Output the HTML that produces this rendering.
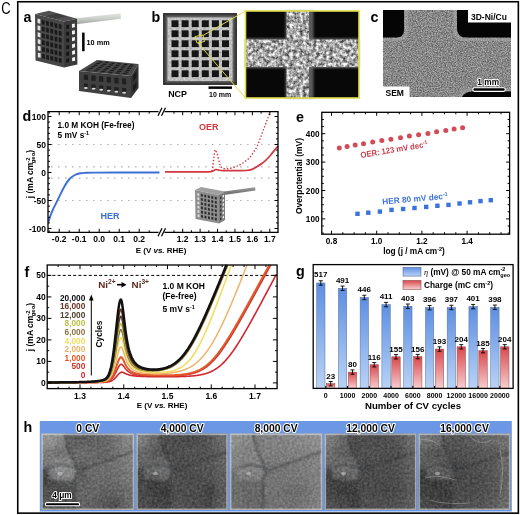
<!DOCTYPE html>
<html><head><meta charset="utf-8"><style>
html,body{margin:0;padding:0;background:#fff;width:520px;height:515px;overflow:hidden}
svg{display:block}
text{font-family:'Liberation Sans',Arial,sans-serif}
</style></head><body>
<svg width="520" height="515" viewBox="0 0 520 515">
<defs>
<filter id="nzoom" x="0" y="0" width="1" height="1" color-interpolation-filters="sRGB"><feTurbulence type="fractalNoise" baseFrequency="0.3" numOctaves="3" seed="3" result="t"/><feColorMatrix in="t" type="matrix" values="1.35 0 0 0 -0.02  1.35 0 0 0 -0.02  1.35 0 0 0 -0.02  0 0 0 0 1"/><feComposite in2="SourceGraphic" operator="in"/></filter>
<filter id="nsemc" x="0" y="0" width="1" height="1" color-interpolation-filters="sRGB"><feTurbulence type="fractalNoise" baseFrequency="0.8" numOctaves="2" seed="5" result="t"/><feColorMatrix in="t" type="matrix" values="0.6 0 0 0 0.23  0.6 0 0 0 0.23  0.6 0 0 0 0.23  0 0 0 0 1"/><feComposite in2="SourceGraphic" operator="in"/></filter>
<filter id="ncube" x="0" y="0" width="1" height="1" color-interpolation-filters="sRGB"><feTurbulence type="fractalNoise" baseFrequency="0.5" numOctaves="2" seed="7" result="t"/><feColorMatrix in="t" type="matrix" values="1.2 0 0 0 0.15  1.2 0 0 0 0.15  1.2 0 0 0 0.15  0 0 0 0 1"/><feComposite in2="SourceGraphic" operator="in"/></filter>
<filter id="nh0" x="0" y="0" width="1" height="1" color-interpolation-filters="sRGB"><feTurbulence type="fractalNoise" baseFrequency="0.4" numOctaves="2" seed="11" result="t"/><feColorMatrix in="t" type="matrix" values="1.8 0 0 0 -0.4  1.8 0 0 0 -0.4  1.8 0 0 0 -0.4  0 0 0 0 1"/><feComposite in2="SourceGraphic" operator="in"/></filter>
<filter id="nh1" x="0" y="0" width="1" height="1" color-interpolation-filters="sRGB"><feTurbulence type="fractalNoise" baseFrequency="0.4" numOctaves="2" seed="12" result="t"/><feColorMatrix in="t" type="matrix" values="1.8 0 0 0 -0.4  1.8 0 0 0 -0.4  1.8 0 0 0 -0.4  0 0 0 0 1"/><feComposite in2="SourceGraphic" operator="in"/></filter>
<filter id="nh2" x="0" y="0" width="1" height="1" color-interpolation-filters="sRGB"><feTurbulence type="fractalNoise" baseFrequency="0.4" numOctaves="2" seed="13" result="t"/><feColorMatrix in="t" type="matrix" values="1.8 0 0 0 -0.4  1.8 0 0 0 -0.4  1.8 0 0 0 -0.4  0 0 0 0 1"/><feComposite in2="SourceGraphic" operator="in"/></filter>
<filter id="nh3" x="0" y="0" width="1" height="1" color-interpolation-filters="sRGB"><feTurbulence type="fractalNoise" baseFrequency="0.4" numOctaves="2" seed="14" result="t"/><feColorMatrix in="t" type="matrix" values="1.8 0 0 0 -0.4  1.8 0 0 0 -0.4  1.8 0 0 0 -0.4  0 0 0 0 1"/><feComposite in2="SourceGraphic" operator="in"/></filter>
<filter id="nh4" x="0" y="0" width="1" height="1" color-interpolation-filters="sRGB"><feTurbulence type="fractalNoise" baseFrequency="0.4" numOctaves="2" seed="15" result="t"/><feColorMatrix in="t" type="matrix" values="1.8 0 0 0 -0.4  1.8 0 0 0 -0.4  1.8 0 0 0 -0.4  0 0 0 0 1"/><feComposite in2="SourceGraphic" operator="in"/></filter>
<linearGradient id="gblue" x1="0" y1="0" x2="0" y2="1"><stop offset="0" stop-color="#5d8fe2"/><stop offset="1" stop-color="#b9d3f6"/></linearGradient>
<linearGradient id="gred" x1="0" y1="0" x2="0" y2="1"><stop offset="0" stop-color="#d9474c"/><stop offset="1" stop-color="#f6cfd0"/></linearGradient>
<linearGradient id="grod" x1="0" y1="0" x2="0" y2="1"><stop offset="0" stop-color="#e4e7e2"/><stop offset="0.5" stop-color="#c9cdc7"/><stop offset="1" stop-color="#9da19b"/></linearGradient>
<linearGradient id="grod2" x1="0" y1="0" x2="0" y2="1"><stop offset="0" stop-color="#9a9a9a"/><stop offset="1" stop-color="#6a6a6a"/></linearGradient>
<filter id="soft"><feGaussianBlur stdDeviation="0.8"/></filter>
<clipPath id="ch0"><rect x="41.3" y="433.6" width="93.00" height="76.50"/></clipPath>
<clipPath id="ch1"><rect x="136.3" y="433.6" width="91.50" height="76.50"/></clipPath>
<clipPath id="ch2"><rect x="229.8" y="433.6" width="92.50" height="76.50"/></clipPath>
<clipPath id="ch3"><rect x="324.5" y="433.6" width="92.00" height="76.50"/></clipPath>
<clipPath id="ch4"><rect x="418.5" y="433.6" width="92.00" height="76.50"/></clipPath><filter id="hblur" x="-0.2" y="-0.2" width="1.4" height="1.4"><feGaussianBlur stdDeviation="3"/></filter><filter id="bblur"><feGaussianBlur stdDeviation="0.8"/></filter><filter id="gsoft"><feGaussianBlur stdDeviation="1.3"/></filter><filter id="lblur"><feGaussianBlur stdDeviation="0.5"/></filter></defs>
<rect x="17.75" y="1.75" width="500.6" height="511.4" fill="none" stroke="#000" stroke-width="1.6"/>
<text transform="translate(1.3,14.2) scale(0.78,1)" font-size="16.6" fill="#000">C</text>
<text x="23.5" y="22.2" font-size="14.3" font-weight="bold" text-anchor="start" fill="#000" >a</text>
<polygon points="74.00,18.50 120.50,13.20 121.00,18.80 74.00,24.50" fill="url(#grod)" stroke="none" stroke-width="0" />
<polygon points="35.00,14.00 49.00,10.80 77.00,18.80 64.00,21.50" fill="#505050" stroke="none" stroke-width="0" />
<polygon points="64.00,21.50 77.00,18.80 77.40,64.40 64.00,67.50" fill="#3a3a3a" stroke="none" stroke-width="0" />
<polygon points="35.00,14.00 64.00,21.50 64.00,67.50 35.50,60.50" fill="#474747" stroke="none" stroke-width="0" />
<polygon points="37.50,18.58 40.31,19.30 40.34,23.80 37.55,23.08" fill="#e0e0e0" stroke="none" stroke-width="0" />
<polygon points="37.57,25.40 40.37,26.11 40.40,30.60 37.61,29.89" fill="#e0e0e0" stroke="none" stroke-width="0" />
<polygon points="37.64,32.21 40.43,32.92 40.46,37.41 37.68,36.71" fill="#e0e0e0" stroke="none" stroke-width="0" />
<polygon points="37.70,39.02 40.49,39.72 40.52,44.22 37.75,43.52" fill="#e0e0e0" stroke="none" stroke-width="0" />
<polygon points="37.77,45.84 40.55,46.53 40.58,51.02 37.81,50.33" fill="#e0e0e0" stroke="none" stroke-width="0" />
<polygon points="37.84,52.65 40.61,53.34 40.64,57.83 37.88,57.15" fill="#e0e0e0" stroke="none" stroke-width="0" />
<polygon points="41.75,19.68 44.55,20.40 44.58,24.88 41.79,24.17" fill="#1a1a1a" stroke="none" stroke-width="0" />
<polygon points="41.81,26.48 44.60,27.19 44.63,31.68 41.84,30.97" fill="#1a1a1a" stroke="none" stroke-width="0" />
<polygon points="41.86,33.28 44.65,33.99 44.68,38.48 41.90,37.77" fill="#1a1a1a" stroke="none" stroke-width="0" />
<polygon points="41.92,40.09 44.70,40.79 44.73,45.27 41.96,44.58" fill="#1a1a1a" stroke="none" stroke-width="0" />
<polygon points="41.97,46.89 44.75,47.58 44.78,52.07 42.01,51.38" fill="#1a1a1a" stroke="none" stroke-width="0" />
<polygon points="42.03,53.69 44.80,54.38 44.83,58.86 42.07,58.18" fill="#1a1a1a" stroke="none" stroke-width="0" />
<polygon points="46.00,20.77 48.80,21.49 48.82,25.97 46.03,25.25" fill="#1a1a1a" stroke="none" stroke-width="0" />
<polygon points="46.04,27.56 48.84,28.28 48.86,32.76 46.07,32.05" fill="#1a1a1a" stroke="none" stroke-width="0" />
<polygon points="46.09,34.35 48.88,35.06 48.90,39.54 46.12,38.84" fill="#1a1a1a" stroke="none" stroke-width="0" />
<polygon points="46.13,41.15 48.91,41.85 48.94,46.33 46.16,45.63" fill="#1a1a1a" stroke="none" stroke-width="0" />
<polygon points="46.18,47.94 48.95,48.63 48.98,53.11 46.21,52.42" fill="#1a1a1a" stroke="none" stroke-width="0" />
<polygon points="46.22,54.73 48.99,55.42 49.02,59.90 46.25,59.21" fill="#1a1a1a" stroke="none" stroke-width="0" />
<polygon points="50.24,21.86 53.05,22.59 53.06,27.06 50.27,26.34" fill="#1a1a1a" stroke="none" stroke-width="0" />
<polygon points="50.28,28.65 53.07,29.36 53.09,33.83 50.30,33.12" fill="#1a1a1a" stroke="none" stroke-width="0" />
<polygon points="50.31,35.43 53.10,36.13 53.12,40.61 50.34,39.90" fill="#1a1a1a" stroke="none" stroke-width="0" />
<polygon points="50.35,42.21 53.13,42.91 53.15,47.38 50.37,46.68" fill="#1a1a1a" stroke="none" stroke-width="0" />
<polygon points="50.38,48.99 53.16,49.68 53.18,54.15 50.41,53.47" fill="#1a1a1a" stroke="none" stroke-width="0" />
<polygon points="50.42,55.77 53.19,56.46 53.20,60.93 50.44,60.25" fill="#1a1a1a" stroke="none" stroke-width="0" />
<polygon points="54.49,22.96 57.29,23.68 57.30,28.14 54.51,27.43" fill="#1a1a1a" stroke="none" stroke-width="0" />
<polygon points="54.51,29.73 57.31,30.44 57.32,34.91 54.53,34.20" fill="#1a1a1a" stroke="none" stroke-width="0" />
<polygon points="54.54,36.50 57.33,37.21 57.34,41.67 54.55,40.97" fill="#1a1a1a" stroke="none" stroke-width="0" />
<polygon points="54.56,43.27 57.34,43.97 57.36,48.43 54.58,47.74" fill="#1a1a1a" stroke="none" stroke-width="0" />
<polygon points="54.59,50.04 57.36,50.73 57.37,55.20 54.60,54.51" fill="#1a1a1a" stroke="none" stroke-width="0" />
<polygon points="54.61,56.81 57.38,57.50 57.39,61.96 54.63,61.28" fill="#1a1a1a" stroke="none" stroke-width="0" />
<polygon points="58.74,24.05 61.54,24.77 61.54,29.23 58.75,28.51" fill="#1a1a1a" stroke="none" stroke-width="0" />
<polygon points="58.75,30.81 61.55,31.53 61.55,35.98 58.76,35.27" fill="#1a1a1a" stroke="none" stroke-width="0" />
<polygon points="58.76,37.57 61.55,38.28 61.56,42.74 58.77,42.03" fill="#1a1a1a" stroke="none" stroke-width="0" />
<polygon points="58.78,44.33 61.56,45.03 61.56,49.49 58.79,48.79" fill="#1a1a1a" stroke="none" stroke-width="0" />
<polygon points="58.79,51.09 61.57,51.79 61.57,56.24 58.80,55.55" fill="#1a1a1a" stroke="none" stroke-width="0" />
<polygon points="58.80,57.85 61.57,58.54 61.58,62.99 58.81,62.31" fill="#1a1a1a" stroke="none" stroke-width="0" />
<polygon points="66.22,25.31 69.08,24.71 69.10,28.41 66.22,29.02" fill="#151515" stroke="none" stroke-width="0" />
<polygon points="66.23,32.05 69.11,31.43 69.12,35.13 66.23,35.75" fill="#151515" stroke="none" stroke-width="0" />
<polygon points="66.24,38.79 69.13,38.16 69.14,41.86 66.24,42.49" fill="#151515" stroke="none" stroke-width="0" />
<polygon points="66.25,45.52 69.15,44.88 69.17,48.58 66.25,49.23" fill="#151515" stroke="none" stroke-width="0" />
<polygon points="66.26,52.26 69.18,51.61 69.19,55.30 66.26,55.96" fill="#151515" stroke="none" stroke-width="0" />
<polygon points="66.27,59.00 69.20,58.33 69.21,62.03 66.27,62.70" fill="#151515" stroke="none" stroke-width="0" />
<polygon points="71.95,24.11 74.82,23.51 74.85,27.19 71.97,27.80" fill="#f2f2f2" stroke="none" stroke-width="0" />
<polygon points="71.99,30.82 74.87,30.20 74.90,33.89 72.01,34.51" fill="#f2f2f2" stroke="none" stroke-width="0" />
<polygon points="72.02,37.53 74.92,36.90 74.95,40.59 72.04,41.22" fill="#f2f2f2" stroke="none" stroke-width="0" />
<polygon points="72.06,44.24 74.97,43.60 74.99,47.28 72.08,47.93" fill="#f2f2f2" stroke="none" stroke-width="0" />
<polygon points="72.10,50.95 75.02,50.30 75.04,53.98 72.12,54.64" fill="#f2f2f2" stroke="none" stroke-width="0" />
<polygon points="72.13,57.66 75.06,57.00 75.09,60.68 72.15,61.35" fill="#f2f2f2" stroke="none" stroke-width="0" />
<polygon points="45.62,16.16 46.82,15.89 56.97,18.56 55.79,18.81" fill="#303030" stroke="none" stroke-width="0" />
<polygon points="47.62,15.71 48.83,15.45 58.92,18.14 57.75,18.39" fill="#303030" stroke="none" stroke-width="0" />
<polygon points="49.63,15.27 50.83,15.00 60.88,17.72 59.70,17.97" fill="#303030" stroke="none" stroke-width="0" />
<polygon points="51.64,14.82 52.84,14.55 62.83,17.30 61.66,17.56" fill="#303030" stroke="none" stroke-width="0" />
<polygon points="53.64,14.38 54.84,14.11 64.78,16.88 63.61,17.14" fill="#303030" stroke="none" stroke-width="0" />
<polygon points="55.65,13.93 56.85,13.66 66.74,16.46 65.57,16.72" fill="#303030" stroke="none" stroke-width="0" />
<rect x="82.1" y="32.6" width="2.5" height="18.6" fill="#000"/>
<text x="86.5" y="44.7" font-size="7.3" font-weight="bold" text-anchor="start" fill="#000" >10 mm</text>
<polygon points="79.00,71.00 97.00,60.00 138.50,64.00 131.00,76.00" fill="#484848" stroke="none" stroke-width="0" />
<polygon points="79.00,71.00 131.00,76.00 131.00,98.00 79.00,91.00" fill="#404040" stroke="none" stroke-width="0" />
<polygon points="131.00,76.00 138.50,64.00 138.50,88.00 131.00,98.00" fill="#333333" stroke="none" stroke-width="0" />
<polygon points="85.36,70.47 86.85,69.50 90.90,69.89 89.48,70.87" fill="#1a1a1a" stroke="none" stroke-width="0" />
<polygon points="92.85,71.19 94.21,70.21 98.25,70.59 96.96,71.59" fill="#1a1a1a" stroke="none" stroke-width="0" />
<polygon points="100.33,71.91 101.56,70.91 105.61,71.30 104.45,72.31" fill="#1a1a1a" stroke="none" stroke-width="0" />
<polygon points="107.82,72.63 108.92,71.62 112.96,72.01 111.94,73.03" fill="#1a1a1a" stroke="none" stroke-width="0" />
<polygon points="115.31,73.35 116.27,72.33 120.31,72.72 119.43,73.75" fill="#1a1a1a" stroke="none" stroke-width="0" />
<polygon points="122.80,74.08 123.62,73.03 127.67,73.42 126.92,74.47" fill="#1a1a1a" stroke="none" stroke-width="0" />
<polygon points="87.85,68.85 89.35,67.87 93.27,68.25 91.85,69.23" fill="#1a1a1a" stroke="none" stroke-width="0" />
<polygon points="95.12,69.55 96.48,68.56 100.40,68.93 99.11,69.93" fill="#1a1a1a" stroke="none" stroke-width="0" />
<polygon points="102.38,70.24 103.61,69.24 107.53,69.62 106.37,70.63" fill="#1a1a1a" stroke="none" stroke-width="0" />
<polygon points="109.64,70.94 110.73,69.93 114.65,70.31 113.64,71.33" fill="#1a1a1a" stroke="none" stroke-width="0" />
<polygon points="116.91,71.64 117.86,70.61 121.78,70.99 120.90,72.03" fill="#1a1a1a" stroke="none" stroke-width="0" />
<polygon points="124.17,72.34 124.99,71.30 128.91,71.68 128.16,72.72" fill="#1a1a1a" stroke="none" stroke-width="0" />
<polygon points="90.35,67.22 91.85,66.24 95.64,66.61 94.22,67.59" fill="#1a1a1a" stroke="none" stroke-width="0" />
<polygon points="97.39,67.90 98.75,66.91 102.55,67.27 101.26,68.27" fill="#1a1a1a" stroke="none" stroke-width="0" />
<polygon points="104.43,68.57 105.65,67.57 109.45,67.94 108.30,68.95" fill="#1a1a1a" stroke="none" stroke-width="0" />
<polygon points="111.46,69.25 112.55,68.24 116.35,68.60 115.33,69.62" fill="#1a1a1a" stroke="none" stroke-width="0" />
<polygon points="118.50,69.93 119.46,68.90 123.25,69.27 122.37,70.30" fill="#1a1a1a" stroke="none" stroke-width="0" />
<polygon points="125.54,70.61 126.36,69.57 130.15,69.93 129.41,70.98" fill="#1a1a1a" stroke="none" stroke-width="0" />
<polygon points="92.85,65.59 94.35,64.62 98.02,64.97 96.59,65.95" fill="#1a1a1a" stroke="none" stroke-width="0" />
<polygon points="99.66,66.25 101.02,65.26 104.69,65.61 103.40,66.61" fill="#1a1a1a" stroke="none" stroke-width="0" />
<polygon points="106.47,66.90 107.70,65.90 111.37,66.26 110.22,67.27" fill="#1a1a1a" stroke="none" stroke-width="0" />
<polygon points="113.28,67.56 114.37,66.55 118.04,66.90 117.03,67.92" fill="#1a1a1a" stroke="none" stroke-width="0" />
<polygon points="120.09,68.22 121.05,67.19 124.72,67.54 123.84,68.58" fill="#1a1a1a" stroke="none" stroke-width="0" />
<polygon points="126.90,68.87 127.73,67.83 131.40,68.18 130.65,69.23" fill="#1a1a1a" stroke="none" stroke-width="0" />
<polygon points="95.34,63.97 96.84,62.99 100.39,63.33 98.97,64.31" fill="#1a1a1a" stroke="none" stroke-width="0" />
<polygon points="101.93,64.60 103.29,63.61 106.84,63.95 105.55,64.95" fill="#1a1a1a" stroke="none" stroke-width="0" />
<polygon points="108.52,65.23 109.74,64.23 113.29,64.57 112.14,65.58" fill="#1a1a1a" stroke="none" stroke-width="0" />
<polygon points="115.10,65.87 116.19,64.85 119.74,65.20 118.72,66.22" fill="#1a1a1a" stroke="none" stroke-width="0" />
<polygon points="121.69,66.50 122.64,65.48 126.19,65.82 125.31,66.85" fill="#1a1a1a" stroke="none" stroke-width="0" />
<polygon points="128.27,67.14 129.09,66.10 132.64,66.44 131.89,67.49" fill="#1a1a1a" stroke="none" stroke-width="0" />
<polygon points="97.84,62.34 99.34,61.36 102.76,61.69 101.34,62.68" fill="#1a1a1a" stroke="none" stroke-width="0" />
<polygon points="104.20,62.95 105.56,61.96 108.99,62.29 107.70,63.29" fill="#1a1a1a" stroke="none" stroke-width="0" />
<polygon points="110.56,63.56 111.79,62.56 115.21,62.89 114.06,63.90" fill="#1a1a1a" stroke="none" stroke-width="0" />
<polygon points="116.92,64.18 118.01,63.16 121.43,63.49 120.42,64.51" fill="#1a1a1a" stroke="none" stroke-width="0" />
<polygon points="123.28,64.79 124.24,63.76 127.66,64.09 126.78,65.13" fill="#1a1a1a" stroke="none" stroke-width="0" />
<polygon points="129.64,65.40 130.46,64.36 133.88,64.69 133.14,65.74" fill="#1a1a1a" stroke="none" stroke-width="0" />
<polygon points="83.84,74.45 88.03,74.88 88.03,80.25 83.84,79.78" fill="#202020" stroke="none" stroke-width="0" />
<polygon points="83.84,83.33 88.03,83.83 88.03,89.20 83.84,88.66" fill="#202020" stroke="none" stroke-width="0" />
<polygon points="91.46,75.23 95.66,75.66 95.66,81.11 91.46,80.64" fill="#202020" stroke="none" stroke-width="0" />
<polygon points="91.46,84.24 95.66,84.74 95.66,90.19 91.46,89.65" fill="#202020" stroke="none" stroke-width="0" />
<polygon points="99.09,76.01 103.28,76.43 103.28,81.96 99.09,81.49" fill="#202020" stroke="none" stroke-width="0" />
<polygon points="99.09,85.15 103.28,85.64 103.28,91.17 99.09,90.63" fill="#202020" stroke="none" stroke-width="0" />
<polygon points="106.72,76.78 110.91,77.21 110.91,82.81 106.72,82.34" fill="#202020" stroke="none" stroke-width="0" />
<polygon points="106.72,86.05 110.91,86.55 110.91,92.15 106.72,91.61" fill="#202020" stroke="none" stroke-width="0" />
<polygon points="114.34,77.56 118.54,77.99 118.54,83.67 114.34,83.20" fill="#202020" stroke="none" stroke-width="0" />
<polygon points="114.34,86.96 118.54,87.46 118.54,93.14 114.34,92.60" fill="#202020" stroke="none" stroke-width="0" />
<polygon points="121.97,78.34 126.16,78.76 126.16,84.52 121.97,84.05" fill="#202020" stroke="none" stroke-width="0" />
<polygon points="121.97,87.86 126.16,88.36 126.16,94.12 121.97,93.58" fill="#202020" stroke="none" stroke-width="0" />
<ellipse cx="85.9" cy="87.9" rx="2" ry="1" fill="#d8d8d8"/>
<ellipse cx="93.6" cy="88.8" rx="2" ry="1" fill="#d8d8d8"/>
<ellipse cx="101.2" cy="89.8" rx="2" ry="1" fill="#d8d8d8"/>
<ellipse cx="108.8" cy="90.8" rx="2" ry="1" fill="#d8d8d8"/>
<ellipse cx="116.4" cy="91.8" rx="2" ry="1" fill="#d8d8d8"/>
<ellipse cx="124.1" cy="92.7" rx="2" ry="1" fill="#d8d8d8"/>
<polygon points="133.10,75.98 136.40,70.83 136.40,77.02 133.10,81.93" fill="#1a1a1a" stroke="none" stroke-width="0" />
<polygon points="133.10,85.91 136.40,81.14 136.40,87.33 133.10,91.86" fill="#1a1a1a" stroke="none" stroke-width="0" />
<text x="151.5" y="22.3" font-size="14.3" font-weight="bold" text-anchor="start" fill="#000" >b</text>
<rect x="163" y="13" width="74" height="72" fill="#383838"/>
<rect x="165.5" y="15.5" width="69" height="67" fill="#5e5e5e"/>
<rect x="167.5" y="17.5" width="65" height="63.5" fill="#c2c2c2"/>
<rect x="167.5" y="17.5" width="65" height="63.5" fill="#fff" filter="url(#ncube)" opacity="0.3"/>
<rect x="171.5" y="20.3" width="7" height="6.8" fill="#151515"/>
<rect x="171.5" y="30.3" width="7" height="6.8" fill="#151515"/>
<rect x="171.5" y="40.3" width="7" height="6.8" fill="#151515"/>
<rect x="171.5" y="50.3" width="7" height="6.8" fill="#151515"/>
<rect x="171.5" y="60.3" width="7" height="6.8" fill="#151515"/>
<rect x="171.5" y="70.3" width="7" height="6.8" fill="#151515"/>
<rect x="181.6" y="20.3" width="7" height="6.8" fill="#151515"/>
<rect x="181.6" y="30.3" width="7" height="6.8" fill="#151515"/>
<rect x="181.6" y="40.3" width="7" height="6.8" fill="#151515"/>
<rect x="181.6" y="50.3" width="7" height="6.8" fill="#151515"/>
<rect x="181.6" y="60.3" width="7" height="6.8" fill="#151515"/>
<rect x="181.6" y="70.3" width="7" height="6.8" fill="#151515"/>
<rect x="191.7" y="20.3" width="7" height="6.8" fill="#151515"/>
<rect x="191.7" y="30.3" width="7" height="6.8" fill="#151515"/>
<rect x="191.7" y="40.3" width="7" height="6.8" fill="#151515"/>
<rect x="191.7" y="50.3" width="7" height="6.8" fill="#151515"/>
<rect x="191.7" y="60.3" width="7" height="6.8" fill="#151515"/>
<rect x="191.7" y="70.3" width="7" height="6.8" fill="#151515"/>
<rect x="201.8" y="20.3" width="7" height="6.8" fill="#151515"/>
<rect x="201.8" y="30.3" width="7" height="6.8" fill="#151515"/>
<rect x="201.8" y="40.3" width="7" height="6.8" fill="#151515"/>
<rect x="201.8" y="50.3" width="7" height="6.8" fill="#151515"/>
<rect x="201.8" y="60.3" width="7" height="6.8" fill="#151515"/>
<rect x="201.8" y="70.3" width="7" height="6.8" fill="#151515"/>
<rect x="211.9" y="20.3" width="7" height="6.8" fill="#151515"/>
<rect x="211.9" y="30.3" width="7" height="6.8" fill="#151515"/>
<rect x="211.9" y="40.3" width="7" height="6.8" fill="#151515"/>
<rect x="211.9" y="50.3" width="7" height="6.8" fill="#151515"/>
<rect x="211.9" y="60.3" width="7" height="6.8" fill="#151515"/>
<rect x="211.9" y="70.3" width="7" height="6.8" fill="#151515"/>
<rect x="222.0" y="20.3" width="7" height="6.8" fill="#151515"/>
<rect x="222.0" y="30.3" width="7" height="6.8" fill="#151515"/>
<rect x="222.0" y="40.3" width="7" height="6.8" fill="#151515"/>
<rect x="222.0" y="50.3" width="7" height="6.8" fill="#151515"/>
<rect x="222.0" y="60.3" width="7" height="6.8" fill="#151515"/>
<rect x="222.0" y="70.3" width="7" height="6.8" fill="#151515"/>
<polygon points="195,36.5 203,35 204.5,41.5 197,43" fill="none" stroke="#e0dc4a" stroke-width="1"/>
<line x1="203.00" y1="35.50" x2="245.50" y2="11.00" stroke="#e0dc4a" stroke-width="1" />
<line x1="198.00" y1="43.00" x2="245.50" y2="98.00" stroke="#e0dc4a" stroke-width="1" />
<text x="168.2" y="96.7" font-size="8.9" font-weight="bold" text-anchor="start" fill="#000" >NCP</text>
<rect x="208.5" y="86.4" width="23.5" height="2.5" fill="#000"/>
<text x="220.2" y="97.0" font-size="7" font-weight="bold" text-anchor="middle" fill="#000" >10 mm</text>
<rect x="245.5" y="11" width="113.5" height="87" fill="#080808"/>
<g filter="url(#soft)"><rect x="285.5" y="11" width="28" height="87" fill="#5a5a5a"/><rect x="245.5" y="38.5" width="113.5" height="29.5" fill="#6a6a6a"/></g>
<g><rect x="286.5" y="11" width="22.5" height="87" fill="#fff" filter="url(#nzoom)"/><rect x="245.5" y="39.5" width="113.5" height="27.5" fill="#fff" filter="url(#nzoom)"/></g>
<rect x="245.5" y="11" width="113.5" height="87" fill="none" stroke="#e0dc4a" stroke-width="1.6"/>
<text x="370.5" y="22.4" font-size="14.3" font-weight="bold" text-anchor="start" fill="#000" >c</text>
<rect x="383" y="10" width="128" height="87" fill="#8a8a8a" filter="url(#nsemc)"/>
<path d="M383,39.5 H397 Q406.5,39.5 406.5,30 V10 M455,10 V29 Q455,39.5 466,39.5 H511 M511,89.5 H472 Q463,89.5 460,97" fill="none" stroke="#b0b0b0" stroke-width="3" opacity="0.45"/>
<path d="M383,10 H404 V30 Q404,37.5 396,37.5 H383 Z" fill="#050505"/>
<path d="M457,10 H511 V37.5 H466 Q457,37.5 457,28 Z" fill="#050505"/>
<path d="M511,91.5 H473 Q465,91.5 462,97 H511 Z" fill="#050505"/>
<rect x="468" y="10" width="43" height="12.5" fill="#fff"/>
<text x="471.0" y="20.0" font-size="8.5" font-weight="bold" text-anchor="start" fill="#000" >3D-Ni/Cu</text>
<rect x="383" y="86.5" width="26.5" height="10.5" fill="#fff"/>
<text x="385.5" y="95.5" font-size="8.5" font-weight="bold" text-anchor="start" fill="#000" >SEM</text>
<rect x="472.8" y="87.8" width="32.5" height="3.6" rx="1.8" fill="#000" stroke="#fff" stroke-width="1.1"/>
<text x="488.2" y="85.2" font-size="8.3" font-weight="bold" text-anchor="middle" fill="#000" stroke="#fff" stroke-width="1.8" paint-order="stroke" stroke-linejoin="round">1 mm</text>
<text x="22.5" y="120.8" font-size="14.3" font-weight="bold" text-anchor="start" fill="#000" >d</text>
<line x1="51" y1="144.50" x2="276" y2="144.50" stroke="#b4b4b4" stroke-width="1.1" stroke-dasharray="1.6 5.4"/>
<line x1="51" y1="166.90" x2="276" y2="166.90" stroke="#b4b4b4" stroke-width="1.1" stroke-dasharray="1.6 5.4"/>
<line x1="51" y1="178.10" x2="276" y2="178.10" stroke="#b4b4b4" stroke-width="1.1" stroke-dasharray="1.6 5.4"/>
<line x1="51" y1="200.50" x2="276" y2="200.50" stroke="#b4b4b4" stroke-width="1.1" stroke-dasharray="1.6 5.4"/>
<path d="M48.60,221.60 C49.00,220.37 50.23,216.30 51.00,214.20 C51.77,212.10 51.93,211.68 53.20,209.00 C54.47,206.32 56.80,201.73 58.60,198.10 C60.40,194.47 62.18,190.38 64.00,187.20 C65.82,184.02 67.68,181.03 69.50,179.00 C71.32,176.97 73.08,175.95 74.90,175.00 C76.72,174.05 78.58,173.67 80.40,173.30 C82.22,172.93 83.37,172.92 85.80,172.80 C88.23,172.68 89.30,172.65 95.00,172.60 C100.70,172.55 109.25,172.52 120.00,172.50 C130.75,172.48 152.92,172.50 159.50,172.50" fill="none" stroke="#3a6fd5" stroke-width="1.9"/>
<path d="M165.00,171.90 C169.17,171.90 182.83,171.92 190.00,171.90 C197.17,171.88 204.47,171.85 208.00,171.80 C211.53,171.75 210.28,171.80 211.20,171.60 C212.12,171.40 212.72,170.95 213.50,170.60 C214.28,170.25 215.07,169.58 215.90,169.50 C216.73,169.42 217.33,169.90 218.50,170.10 C219.67,170.30 220.15,170.62 222.90,170.70 C225.65,170.78 231.15,170.63 235.00,170.60 C238.85,170.57 243.17,170.70 246.00,170.50 C248.83,170.30 250.13,170.05 252.00,169.40 C253.87,168.75 255.62,167.53 257.20,166.60 C258.78,165.67 260.13,164.80 261.50,163.80 C262.87,162.80 264.15,161.73 265.40,160.60 C266.65,159.47 267.78,158.37 269.00,157.00 C270.22,155.63 271.20,154.23 272.70,152.40 C274.20,150.57 277.12,147.07 278.00,146.00" fill="none" stroke="#d2383f" stroke-width="1.7"/>
<path d="M211.50,170.90 C211.65,170.60 212.05,170.92 212.40,169.10 C212.75,167.28 213.18,163.13 213.60,160.00 C214.02,156.87 214.47,151.72 214.90,150.30 C215.33,148.88 215.78,150.80 216.20,151.50 C216.62,152.20 216.87,152.67 217.40,154.50 C217.93,156.33 218.88,160.58 219.40,162.50 C219.92,164.42 219.92,165.03 220.50,166.00 C221.08,166.97 221.73,167.85 222.90,168.30 C224.07,168.75 225.82,168.82 227.50,168.70 C229.18,168.58 231.18,168.12 233.00,167.60 C234.82,167.08 236.60,166.48 238.40,165.60 C240.20,164.72 242.03,163.52 243.80,162.30 C245.57,161.08 247.30,160.08 249.00,158.30 C250.70,156.52 252.58,153.73 254.00,151.60 C255.42,149.47 256.42,147.82 257.50,145.50 C258.58,143.18 259.58,140.12 260.50,137.70 C261.42,135.28 262.18,133.18 263.00,131.00 C263.82,128.82 264.65,126.60 265.40,124.60 C266.15,122.60 266.82,120.90 267.50,119.00 C268.18,117.10 269.07,114.42 269.50,113.20 C269.93,111.98 270.00,111.95 270.10,111.70" fill="none" stroke="#d2383f" stroke-width="1.4" stroke-dasharray="1.4 1.9"/>
<line x1="48" y1="111.7" x2="48" y2="232.3" stroke="#000" stroke-width="1.3"/>
<line x1="278" y1="111.7" x2="278" y2="232.3" stroke="#000" stroke-width="1.3"/>
<line x1="47.35" y1="111.7" x2="158.5" y2="111.7" stroke="#000" stroke-width="1.3"/>
<line x1="164.5" y1="111.7" x2="278.65" y2="111.7" stroke="#000" stroke-width="1.3"/>
<line x1="158.0" y1="115.7" x2="162.0" y2="107.7" stroke="#000" stroke-width="1.2"/>
<line x1="161.5" y1="115.7" x2="165.5" y2="107.7" stroke="#000" stroke-width="1.2"/>
<line x1="47.35" y1="232.3" x2="158.5" y2="232.3" stroke="#000" stroke-width="1.3"/>
<line x1="164.5" y1="232.3" x2="278.65" y2="232.3" stroke="#000" stroke-width="1.3"/>
<line x1="158.0" y1="236.3" x2="162.0" y2="228.3" stroke="#000" stroke-width="1.2"/>
<line x1="161.5" y1="236.3" x2="165.5" y2="228.3" stroke="#000" stroke-width="1.2"/>
<line x1="48" y1="228.50" x2="51.5" y2="228.50" stroke="#000" stroke-width="1"/>
<line x1="278" y1="228.50" x2="274.5" y2="228.50" stroke="#000" stroke-width="1"/>
<line x1="48" y1="222.90" x2="50" y2="222.90" stroke="#000" stroke-width="1"/>
<line x1="278" y1="222.90" x2="276" y2="222.90" stroke="#000" stroke-width="1"/>
<line x1="48" y1="217.30" x2="50" y2="217.30" stroke="#000" stroke-width="1"/>
<line x1="278" y1="217.30" x2="276" y2="217.30" stroke="#000" stroke-width="1"/>
<line x1="48" y1="211.70" x2="50" y2="211.70" stroke="#000" stroke-width="1"/>
<line x1="278" y1="211.70" x2="276" y2="211.70" stroke="#000" stroke-width="1"/>
<line x1="48" y1="206.10" x2="50" y2="206.10" stroke="#000" stroke-width="1"/>
<line x1="278" y1="206.10" x2="276" y2="206.10" stroke="#000" stroke-width="1"/>
<line x1="48" y1="200.50" x2="51.5" y2="200.50" stroke="#000" stroke-width="1"/>
<line x1="278" y1="200.50" x2="274.5" y2="200.50" stroke="#000" stroke-width="1"/>
<line x1="48" y1="194.90" x2="50" y2="194.90" stroke="#000" stroke-width="1"/>
<line x1="278" y1="194.90" x2="276" y2="194.90" stroke="#000" stroke-width="1"/>
<line x1="48" y1="189.30" x2="50" y2="189.30" stroke="#000" stroke-width="1"/>
<line x1="278" y1="189.30" x2="276" y2="189.30" stroke="#000" stroke-width="1"/>
<line x1="48" y1="183.70" x2="50" y2="183.70" stroke="#000" stroke-width="1"/>
<line x1="278" y1="183.70" x2="276" y2="183.70" stroke="#000" stroke-width="1"/>
<line x1="48" y1="178.10" x2="50" y2="178.10" stroke="#000" stroke-width="1"/>
<line x1="278" y1="178.10" x2="276" y2="178.10" stroke="#000" stroke-width="1"/>
<line x1="48" y1="172.50" x2="51.5" y2="172.50" stroke="#000" stroke-width="1"/>
<line x1="278" y1="172.50" x2="274.5" y2="172.50" stroke="#000" stroke-width="1"/>
<line x1="48" y1="166.90" x2="50" y2="166.90" stroke="#000" stroke-width="1"/>
<line x1="278" y1="166.90" x2="276" y2="166.90" stroke="#000" stroke-width="1"/>
<line x1="48" y1="161.30" x2="50" y2="161.30" stroke="#000" stroke-width="1"/>
<line x1="278" y1="161.30" x2="276" y2="161.30" stroke="#000" stroke-width="1"/>
<line x1="48" y1="155.70" x2="50" y2="155.70" stroke="#000" stroke-width="1"/>
<line x1="278" y1="155.70" x2="276" y2="155.70" stroke="#000" stroke-width="1"/>
<line x1="48" y1="150.10" x2="50" y2="150.10" stroke="#000" stroke-width="1"/>
<line x1="278" y1="150.10" x2="276" y2="150.10" stroke="#000" stroke-width="1"/>
<line x1="48" y1="144.50" x2="51.5" y2="144.50" stroke="#000" stroke-width="1"/>
<line x1="278" y1="144.50" x2="274.5" y2="144.50" stroke="#000" stroke-width="1"/>
<line x1="48" y1="138.90" x2="50" y2="138.90" stroke="#000" stroke-width="1"/>
<line x1="278" y1="138.90" x2="276" y2="138.90" stroke="#000" stroke-width="1"/>
<line x1="48" y1="133.30" x2="50" y2="133.30" stroke="#000" stroke-width="1"/>
<line x1="278" y1="133.30" x2="276" y2="133.30" stroke="#000" stroke-width="1"/>
<line x1="48" y1="127.70" x2="50" y2="127.70" stroke="#000" stroke-width="1"/>
<line x1="278" y1="127.70" x2="276" y2="127.70" stroke="#000" stroke-width="1"/>
<line x1="48" y1="122.10" x2="50" y2="122.10" stroke="#000" stroke-width="1"/>
<line x1="278" y1="122.10" x2="276" y2="122.10" stroke="#000" stroke-width="1"/>
<line x1="48" y1="116.50" x2="51.5" y2="116.50" stroke="#000" stroke-width="1"/>
<line x1="278" y1="116.50" x2="274.5" y2="116.50" stroke="#000" stroke-width="1"/>
<text x="46.0" y="119.5" font-size="8.5" font-weight="bold" text-anchor="end" fill="#000" >100</text>
<text x="46.0" y="147.5" font-size="8.5" font-weight="bold" text-anchor="end" fill="#000" >50</text>
<text x="46.0" y="175.5" font-size="8.5" font-weight="bold" text-anchor="end" fill="#000" >0</text>
<text x="46.0" y="203.5" font-size="8.5" font-weight="bold" text-anchor="end" fill="#000" >-50</text>
<text x="46.0" y="231.5" font-size="8.5" font-weight="bold" text-anchor="end" fill="#000" >-100</text>
<line x1="49.20" y1="232.3" x2="49.20" y2="230.3" stroke="#000" stroke-width="1"/>
<line x1="49.20" y1="111.7" x2="49.20" y2="113.7" stroke="#000" stroke-width="1"/>
<line x1="59.20" y1="232.3" x2="59.20" y2="228.8" stroke="#000" stroke-width="1"/>
<line x1="59.20" y1="111.7" x2="59.20" y2="115.2" stroke="#000" stroke-width="1"/>
<line x1="69.20" y1="232.3" x2="69.20" y2="230.3" stroke="#000" stroke-width="1"/>
<line x1="69.20" y1="111.7" x2="69.20" y2="113.7" stroke="#000" stroke-width="1"/>
<line x1="79.20" y1="232.3" x2="79.20" y2="228.8" stroke="#000" stroke-width="1"/>
<line x1="79.20" y1="111.7" x2="79.20" y2="115.2" stroke="#000" stroke-width="1"/>
<line x1="89.20" y1="232.3" x2="89.20" y2="230.3" stroke="#000" stroke-width="1"/>
<line x1="89.20" y1="111.7" x2="89.20" y2="113.7" stroke="#000" stroke-width="1"/>
<line x1="99.20" y1="232.3" x2="99.20" y2="228.8" stroke="#000" stroke-width="1"/>
<line x1="99.20" y1="111.7" x2="99.20" y2="115.2" stroke="#000" stroke-width="1"/>
<line x1="109.20" y1="232.3" x2="109.20" y2="230.3" stroke="#000" stroke-width="1"/>
<line x1="109.20" y1="111.7" x2="109.20" y2="113.7" stroke="#000" stroke-width="1"/>
<line x1="119.20" y1="232.3" x2="119.20" y2="228.8" stroke="#000" stroke-width="1"/>
<line x1="119.20" y1="111.7" x2="119.20" y2="115.2" stroke="#000" stroke-width="1"/>
<line x1="129.20" y1="232.3" x2="129.20" y2="230.3" stroke="#000" stroke-width="1"/>
<line x1="129.20" y1="111.7" x2="129.20" y2="113.7" stroke="#000" stroke-width="1"/>
<line x1="139.20" y1="232.3" x2="139.20" y2="228.8" stroke="#000" stroke-width="1"/>
<line x1="139.20" y1="111.7" x2="139.20" y2="115.2" stroke="#000" stroke-width="1"/>
<line x1="149.20" y1="232.3" x2="149.20" y2="230.3" stroke="#000" stroke-width="1"/>
<line x1="149.20" y1="111.7" x2="149.20" y2="113.7" stroke="#000" stroke-width="1"/>
<line x1="173.99" y1="232.3" x2="173.99" y2="230.3" stroke="#000" stroke-width="1"/>
<line x1="173.99" y1="111.7" x2="173.99" y2="113.7" stroke="#000" stroke-width="1"/>
<line x1="182.70" y1="232.3" x2="182.70" y2="228.8" stroke="#000" stroke-width="1"/>
<line x1="182.70" y1="111.7" x2="182.70" y2="115.2" stroke="#000" stroke-width="1"/>
<line x1="191.41" y1="232.3" x2="191.41" y2="230.3" stroke="#000" stroke-width="1"/>
<line x1="191.41" y1="111.7" x2="191.41" y2="113.7" stroke="#000" stroke-width="1"/>
<line x1="200.12" y1="232.3" x2="200.12" y2="228.8" stroke="#000" stroke-width="1"/>
<line x1="200.12" y1="111.7" x2="200.12" y2="115.2" stroke="#000" stroke-width="1"/>
<line x1="208.83" y1="232.3" x2="208.83" y2="230.3" stroke="#000" stroke-width="1"/>
<line x1="208.83" y1="111.7" x2="208.83" y2="113.7" stroke="#000" stroke-width="1"/>
<line x1="217.54" y1="232.3" x2="217.54" y2="228.8" stroke="#000" stroke-width="1"/>
<line x1="217.54" y1="111.7" x2="217.54" y2="115.2" stroke="#000" stroke-width="1"/>
<line x1="226.25" y1="232.3" x2="226.25" y2="230.3" stroke="#000" stroke-width="1"/>
<line x1="226.25" y1="111.7" x2="226.25" y2="113.7" stroke="#000" stroke-width="1"/>
<line x1="234.96" y1="232.3" x2="234.96" y2="228.8" stroke="#000" stroke-width="1"/>
<line x1="234.96" y1="111.7" x2="234.96" y2="115.2" stroke="#000" stroke-width="1"/>
<line x1="243.67" y1="232.3" x2="243.67" y2="230.3" stroke="#000" stroke-width="1"/>
<line x1="243.67" y1="111.7" x2="243.67" y2="113.7" stroke="#000" stroke-width="1"/>
<line x1="252.38" y1="232.3" x2="252.38" y2="228.8" stroke="#000" stroke-width="1"/>
<line x1="252.38" y1="111.7" x2="252.38" y2="115.2" stroke="#000" stroke-width="1"/>
<line x1="261.09" y1="232.3" x2="261.09" y2="230.3" stroke="#000" stroke-width="1"/>
<line x1="261.09" y1="111.7" x2="261.09" y2="113.7" stroke="#000" stroke-width="1"/>
<line x1="269.80" y1="232.3" x2="269.80" y2="228.8" stroke="#000" stroke-width="1"/>
<line x1="269.80" y1="111.7" x2="269.80" y2="115.2" stroke="#000" stroke-width="1"/>
<text x="59.2" y="242.0" font-size="8.5" font-weight="bold" text-anchor="middle" fill="#000" >-0.2</text>
<text x="79.2" y="242.0" font-size="8.5" font-weight="bold" text-anchor="middle" fill="#000" >-0.1</text>
<text x="99.2" y="242.0" font-size="8.5" font-weight="bold" text-anchor="middle" fill="#000" >0.0</text>
<text x="119.2" y="242.0" font-size="8.5" font-weight="bold" text-anchor="middle" fill="#000" >0.1</text>
<text x="139.2" y="242.0" font-size="8.5" font-weight="bold" text-anchor="middle" fill="#000" >0.2</text>
<text x="182.7" y="242.0" font-size="8.5" font-weight="bold" text-anchor="middle" fill="#000" >1.2</text>
<text x="200.1" y="242.0" font-size="8.5" font-weight="bold" text-anchor="middle" fill="#000" >1.3</text>
<text x="217.5" y="242.0" font-size="8.5" font-weight="bold" text-anchor="middle" fill="#000" >1.4</text>
<text x="235.0" y="242.0" font-size="8.5" font-weight="bold" text-anchor="middle" fill="#000" >1.5</text>
<text x="252.4" y="242.0" font-size="8.5" font-weight="bold" text-anchor="middle" fill="#000" >1.6</text>
<text x="269.8" y="242.0" font-size="8.5" font-weight="bold" text-anchor="middle" fill="#000" >1.7</text>
<text x="161" y="253" font-size="8" font-weight="bold" text-anchor="middle">E (V <tspan font-style="italic">vs.</tspan> RHE)</text>
<text transform="translate(33,174) rotate(-90)" font-size="8.5" font-weight="bold" text-anchor="middle">j (mA cm<tspan dy="-3" font-size="6">-2</tspan><tspan dy="5" font-size="6" dx="-6">geo</tspan><tspan dy="-2">)</tspan></text>
<text x="57.5" y="127.5" font-size="8.3" font-weight="bold" text-anchor="start" fill="#000" >1.0 M KOH (Fe-free)</text>
<text x="57.5" y="138" font-size="8.3" font-weight="bold">5 mV s<tspan dy="-3" font-size="5.5">-1</tspan></text>
<text x="100.5" y="218.6" font-size="9" font-weight="bold" text-anchor="start" fill="#3a6fd5" >HER</text>
<text x="199.0" y="129.8" font-size="9" font-weight="bold" text-anchor="start" fill="#d2383f" >OER</text>
<polygon points="224.00,191.50 255.00,187.30 255.50,190.60 224.00,195.00" fill="url(#grod2)" stroke="none" stroke-width="0" />
<polygon points="195.00,190.00 201.00,187.00 225.00,191.50 219.00,195.00" fill="#a0a0a0" stroke="none" stroke-width="0" />
<polygon points="219.00,195.00 225.00,191.50 225.00,220.00 219.00,223.50" fill="#7c7c7c" stroke="none" stroke-width="0" />
<polygon points="195.00,190.00 219.00,195.00 219.00,223.50 195.50,219.00" fill="#8e8e8e" stroke="none" stroke-width="0" />
<polygon points="197.27,193.05 199.20,193.45 199.24,196.00 197.31,195.60" fill="#e0e0e0" stroke="none" stroke-width="0" />
<polygon points="197.34,197.30 199.27,197.69 199.30,200.24 197.38,199.85" fill="#e0e0e0" stroke="none" stroke-width="0" />
<polygon points="197.41,201.54 199.33,201.93 199.36,204.48 197.45,204.09" fill="#e0e0e0" stroke="none" stroke-width="0" />
<polygon points="197.47,205.79 199.39,206.17 199.42,208.72 197.51,208.34" fill="#e0e0e0" stroke="none" stroke-width="0" />
<polygon points="197.54,210.04 199.45,210.41 199.48,212.96 197.58,212.59" fill="#e0e0e0" stroke="none" stroke-width="0" />
<polygon points="197.61,214.28 199.51,214.65 199.54,217.20 197.64,216.83" fill="#e0e0e0" stroke="none" stroke-width="0" />
<polygon points="200.79,193.78 202.72,194.18 202.75,196.72 200.82,196.32" fill="#2a2a2a" stroke="none" stroke-width="0" />
<polygon points="200.84,198.01 202.77,198.41 202.80,200.95 200.88,200.56" fill="#2a2a2a" stroke="none" stroke-width="0" />
<polygon points="200.90,202.25 202.82,202.64 202.85,205.18 200.93,204.79" fill="#2a2a2a" stroke="none" stroke-width="0" />
<polygon points="200.95,206.49 202.87,206.87 202.90,209.41 200.99,209.03" fill="#2a2a2a" stroke="none" stroke-width="0" />
<polygon points="201.01,210.72 202.92,211.10 202.95,213.64 201.04,213.26" fill="#2a2a2a" stroke="none" stroke-width="0" />
<polygon points="201.06,214.96 202.97,215.33 203.00,217.87 201.10,217.50" fill="#2a2a2a" stroke="none" stroke-width="0" />
<polygon points="204.30,194.51 206.23,194.90 206.26,197.44 204.33,197.04" fill="#2a2a2a" stroke="none" stroke-width="0" />
<polygon points="204.34,198.73 206.27,199.12 206.29,201.66 204.37,201.27" fill="#2a2a2a" stroke="none" stroke-width="0" />
<polygon points="204.39,202.96 206.31,203.34 206.33,205.87 204.42,205.49" fill="#2a2a2a" stroke="none" stroke-width="0" />
<polygon points="204.43,207.18 206.35,207.56 206.37,210.09 204.46,209.72" fill="#2a2a2a" stroke="none" stroke-width="0" />
<polygon points="204.48,211.41 206.39,211.78 206.41,214.31 204.51,213.94" fill="#2a2a2a" stroke="none" stroke-width="0" />
<polygon points="204.52,215.63 206.43,216.00 206.45,218.53 204.55,218.17" fill="#2a2a2a" stroke="none" stroke-width="0" />
<polygon points="207.81,195.23 209.75,195.63 209.76,198.16 207.83,197.76" fill="#2a2a2a" stroke="none" stroke-width="0" />
<polygon points="207.85,199.45 209.77,199.84 209.79,202.36 207.87,201.97" fill="#2a2a2a" stroke="none" stroke-width="0" />
<polygon points="207.88,203.66 209.80,204.05 209.82,206.57 207.90,206.19" fill="#2a2a2a" stroke="none" stroke-width="0" />
<polygon points="207.92,207.87 209.83,208.26 209.85,210.78 207.94,210.40" fill="#2a2a2a" stroke="none" stroke-width="0" />
<polygon points="207.95,212.09 209.86,212.46 209.88,214.99 207.97,214.62" fill="#2a2a2a" stroke="none" stroke-width="0" />
<polygon points="207.98,216.30 209.89,216.67 209.90,219.20 208.00,218.83" fill="#2a2a2a" stroke="none" stroke-width="0" />
<polygon points="211.33,195.96 213.26,196.36 213.27,198.88 211.34,198.48" fill="#2a2a2a" stroke="none" stroke-width="0" />
<polygon points="211.35,200.16 213.28,200.56 213.29,203.07 211.36,202.68" fill="#2a2a2a" stroke="none" stroke-width="0" />
<polygon points="211.37,204.37 213.29,204.75 213.30,207.27 211.39,206.89" fill="#2a2a2a" stroke="none" stroke-width="0" />
<polygon points="211.40,208.57 213.31,208.95 213.32,211.47 211.41,211.09" fill="#2a2a2a" stroke="none" stroke-width="0" />
<polygon points="211.42,212.77 213.33,213.15 213.34,215.67 211.43,215.29" fill="#2a2a2a" stroke="none" stroke-width="0" />
<polygon points="211.44,216.98 213.35,217.35 213.36,219.86 211.46,219.50" fill="#2a2a2a" stroke="none" stroke-width="0" />
<polygon points="214.84,196.69 216.77,197.09 216.78,199.60 214.85,199.20" fill="#2a2a2a" stroke="none" stroke-width="0" />
<polygon points="214.85,200.88 216.78,201.27 216.78,203.78 214.86,203.39" fill="#2a2a2a" stroke="none" stroke-width="0" />
<polygon points="214.87,205.07 216.79,205.46 216.79,207.97 214.87,207.59" fill="#2a2a2a" stroke="none" stroke-width="0" />
<polygon points="214.88,209.26 216.79,209.65 216.80,212.16 214.89,211.78" fill="#2a2a2a" stroke="none" stroke-width="0" />
<polygon points="214.89,213.46 216.80,213.83 216.80,216.34 214.90,215.97" fill="#2a2a2a" stroke="none" stroke-width="0" />
<polygon points="214.90,217.65 216.81,218.02 216.81,220.53 214.91,220.16" fill="#2a2a2a" stroke="none" stroke-width="0" />
<polygon points="220.02,197.06 221.34,196.29 221.34,198.58 220.02,199.35" fill="#333" stroke="none" stroke-width="0" />
<polygon points="220.02,201.24 221.34,200.47 221.34,202.76 220.02,203.53" fill="#333" stroke="none" stroke-width="0" />
<polygon points="220.02,205.42 221.34,204.65 221.34,206.94 220.02,207.71" fill="#333" stroke="none" stroke-width="0" />
<polygon points="220.02,209.60 221.34,208.83 221.34,211.12 220.02,211.89" fill="#333" stroke="none" stroke-width="0" />
<polygon points="220.02,213.78 221.34,213.01 221.34,215.30 220.02,216.07" fill="#333" stroke="none" stroke-width="0" />
<polygon points="220.02,217.96 221.34,217.19 221.34,219.48 220.02,220.25" fill="#333" stroke="none" stroke-width="0" />
<polygon points="222.66,195.52 223.98,194.75 223.98,197.04 222.66,197.81" fill="#f0f0f0" stroke="none" stroke-width="0" />
<polygon points="222.66,199.70 223.98,198.93 223.98,201.22 222.66,201.99" fill="#f0f0f0" stroke="none" stroke-width="0" />
<polygon points="222.66,203.88 223.98,203.11 223.98,205.40 222.66,206.17" fill="#f0f0f0" stroke="none" stroke-width="0" />
<polygon points="222.66,208.06 223.98,207.29 223.98,209.58 222.66,210.35" fill="#f0f0f0" stroke="none" stroke-width="0" />
<polygon points="222.66,212.24 223.98,211.47 223.98,213.76 222.66,214.53" fill="#f0f0f0" stroke="none" stroke-width="0" />
<polygon points="222.66,216.42 223.98,215.65 223.98,217.94 222.66,218.71" fill="#f0f0f0" stroke="none" stroke-width="0" />
<text x="296.0" y="122.3" font-size="14.3" font-weight="bold" text-anchor="start" fill="#000" >e</text>
<circle cx="339.30" cy="148.00" r="2.5" fill="#d24b57"/>
<circle cx="347.10" cy="146.50" r="2.5" fill="#d24b57"/>
<circle cx="355.20" cy="145.00" r="2.5" fill="#d24b57"/>
<circle cx="363.50" cy="143.70" r="2.5" fill="#d24b57"/>
<circle cx="372.70" cy="141.90" r="2.5" fill="#d24b57"/>
<circle cx="381.80" cy="140.60" r="2.5" fill="#d24b57"/>
<circle cx="390.90" cy="139.20" r="2.5" fill="#d24b57"/>
<circle cx="400.50" cy="137.70" r="2.5" fill="#d24b57"/>
<circle cx="409.40" cy="136.10" r="2.5" fill="#d24b57"/>
<circle cx="418.60" cy="134.80" r="2.5" fill="#d24b57"/>
<circle cx="427.90" cy="133.40" r="2.5" fill="#d24b57"/>
<circle cx="436.60" cy="131.80" r="2.5" fill="#d24b57"/>
<circle cx="445.80" cy="130.50" r="2.5" fill="#d24b57"/>
<circle cx="454.10" cy="129.10" r="2.5" fill="#d24b57"/>
<circle cx="462.60" cy="127.80" r="2.5" fill="#d24b57"/>
<rect x="355.30" y="211.60" width="4.4" height="4.4" fill="#3b72dc"/>
<rect x="366.10" y="210.50" width="4.4" height="4.4" fill="#3b72dc"/>
<rect x="377.70" y="209.40" width="4.4" height="4.4" fill="#3b72dc"/>
<rect x="389.30" y="207.70" width="4.4" height="4.4" fill="#3b72dc"/>
<rect x="400.90" y="206.80" width="4.4" height="4.4" fill="#3b72dc"/>
<rect x="412.30" y="205.80" width="4.4" height="4.4" fill="#3b72dc"/>
<rect x="424.00" y="204.70" width="4.4" height="4.4" fill="#3b72dc"/>
<rect x="435.20" y="203.60" width="4.4" height="4.4" fill="#3b72dc"/>
<rect x="446.30" y="202.70" width="4.4" height="4.4" fill="#3b72dc"/>
<rect x="457.30" y="201.30" width="4.4" height="4.4" fill="#3b72dc"/>
<rect x="467.80" y="200.10" width="4.4" height="4.4" fill="#3b72dc"/>
<rect x="478.30" y="198.90" width="4.4" height="4.4" fill="#3b72dc"/>
<rect x="488.60" y="198.00" width="4.4" height="4.4" fill="#3b72dc"/>
<text transform="translate(361,158) rotate(-9.5)" font-size="8.3" font-weight="bold" fill="#c83c4c" textLength="68" lengthAdjust="spacingAndGlyphs">OER: 123 mV dec<tspan dy="-3" font-size="5.5">-1</tspan></text>
<text transform="translate(382.5,204.5) rotate(-5)" font-size="8.3" font-weight="bold" fill="#3b72dc">HER 80 mV dec<tspan dy="-3" font-size="5.5">-1</tspan></text>
<rect x="321.8" y="112.3" width="187.8" height="121.89999999999999" fill="none" stroke="#000" stroke-width="1.3"/>
<line x1="331.50" y1="234.2" x2="331.50" y2="230.7" stroke="#000" stroke-width="1"/>
<line x1="331.50" y1="112.3" x2="331.50" y2="115.8" stroke="#000" stroke-width="1"/>
<line x1="342.80" y1="234.2" x2="342.80" y2="232.2" stroke="#000" stroke-width="1"/>
<line x1="342.80" y1="112.3" x2="342.80" y2="114.3" stroke="#000" stroke-width="1"/>
<line x1="354.10" y1="234.2" x2="354.10" y2="232.2" stroke="#000" stroke-width="1"/>
<line x1="354.10" y1="112.3" x2="354.10" y2="114.3" stroke="#000" stroke-width="1"/>
<line x1="365.40" y1="234.2" x2="365.40" y2="232.2" stroke="#000" stroke-width="1"/>
<line x1="365.40" y1="112.3" x2="365.40" y2="114.3" stroke="#000" stroke-width="1"/>
<line x1="376.70" y1="234.2" x2="376.70" y2="230.7" stroke="#000" stroke-width="1"/>
<line x1="376.70" y1="112.3" x2="376.70" y2="115.8" stroke="#000" stroke-width="1"/>
<line x1="388.00" y1="234.2" x2="388.00" y2="232.2" stroke="#000" stroke-width="1"/>
<line x1="388.00" y1="112.3" x2="388.00" y2="114.3" stroke="#000" stroke-width="1"/>
<line x1="399.30" y1="234.2" x2="399.30" y2="232.2" stroke="#000" stroke-width="1"/>
<line x1="399.30" y1="112.3" x2="399.30" y2="114.3" stroke="#000" stroke-width="1"/>
<line x1="410.60" y1="234.2" x2="410.60" y2="232.2" stroke="#000" stroke-width="1"/>
<line x1="410.60" y1="112.3" x2="410.60" y2="114.3" stroke="#000" stroke-width="1"/>
<line x1="421.90" y1="234.2" x2="421.90" y2="230.7" stroke="#000" stroke-width="1"/>
<line x1="421.90" y1="112.3" x2="421.90" y2="115.8" stroke="#000" stroke-width="1"/>
<line x1="433.20" y1="234.2" x2="433.20" y2="232.2" stroke="#000" stroke-width="1"/>
<line x1="433.20" y1="112.3" x2="433.20" y2="114.3" stroke="#000" stroke-width="1"/>
<line x1="444.50" y1="234.2" x2="444.50" y2="232.2" stroke="#000" stroke-width="1"/>
<line x1="444.50" y1="112.3" x2="444.50" y2="114.3" stroke="#000" stroke-width="1"/>
<line x1="455.80" y1="234.2" x2="455.80" y2="232.2" stroke="#000" stroke-width="1"/>
<line x1="455.80" y1="112.3" x2="455.80" y2="114.3" stroke="#000" stroke-width="1"/>
<line x1="467.10" y1="234.2" x2="467.10" y2="230.7" stroke="#000" stroke-width="1"/>
<line x1="467.10" y1="112.3" x2="467.10" y2="115.8" stroke="#000" stroke-width="1"/>
<line x1="478.40" y1="234.2" x2="478.40" y2="232.2" stroke="#000" stroke-width="1"/>
<line x1="478.40" y1="112.3" x2="478.40" y2="114.3" stroke="#000" stroke-width="1"/>
<line x1="489.70" y1="234.2" x2="489.70" y2="232.2" stroke="#000" stroke-width="1"/>
<line x1="489.70" y1="112.3" x2="489.70" y2="114.3" stroke="#000" stroke-width="1"/>
<line x1="501.00" y1="234.2" x2="501.00" y2="232.2" stroke="#000" stroke-width="1"/>
<line x1="501.00" y1="112.3" x2="501.00" y2="114.3" stroke="#000" stroke-width="1"/>
<line x1="321.8" y1="233.10" x2="323.8" y2="233.10" stroke="#000" stroke-width="1"/>
<line x1="509.6" y1="233.10" x2="507.6" y2="233.10" stroke="#000" stroke-width="1"/>
<line x1="321.8" y1="226.00" x2="323.8" y2="226.00" stroke="#000" stroke-width="1"/>
<line x1="509.6" y1="226.00" x2="507.6" y2="226.00" stroke="#000" stroke-width="1"/>
<line x1="321.8" y1="218.90" x2="325.3" y2="218.90" stroke="#000" stroke-width="1"/>
<line x1="509.6" y1="218.90" x2="506.1" y2="218.90" stroke="#000" stroke-width="1"/>
<line x1="321.8" y1="211.80" x2="323.8" y2="211.80" stroke="#000" stroke-width="1"/>
<line x1="509.6" y1="211.80" x2="507.6" y2="211.80" stroke="#000" stroke-width="1"/>
<line x1="321.8" y1="204.70" x2="323.8" y2="204.70" stroke="#000" stroke-width="1"/>
<line x1="509.6" y1="204.70" x2="507.6" y2="204.70" stroke="#000" stroke-width="1"/>
<line x1="321.8" y1="197.60" x2="323.8" y2="197.60" stroke="#000" stroke-width="1"/>
<line x1="509.6" y1="197.60" x2="507.6" y2="197.60" stroke="#000" stroke-width="1"/>
<line x1="321.8" y1="190.50" x2="325.3" y2="190.50" stroke="#000" stroke-width="1"/>
<line x1="509.6" y1="190.50" x2="506.1" y2="190.50" stroke="#000" stroke-width="1"/>
<line x1="321.8" y1="183.40" x2="323.8" y2="183.40" stroke="#000" stroke-width="1"/>
<line x1="509.6" y1="183.40" x2="507.6" y2="183.40" stroke="#000" stroke-width="1"/>
<line x1="321.8" y1="176.30" x2="323.8" y2="176.30" stroke="#000" stroke-width="1"/>
<line x1="509.6" y1="176.30" x2="507.6" y2="176.30" stroke="#000" stroke-width="1"/>
<line x1="321.8" y1="169.20" x2="323.8" y2="169.20" stroke="#000" stroke-width="1"/>
<line x1="509.6" y1="169.20" x2="507.6" y2="169.20" stroke="#000" stroke-width="1"/>
<line x1="321.8" y1="162.10" x2="325.3" y2="162.10" stroke="#000" stroke-width="1"/>
<line x1="509.6" y1="162.10" x2="506.1" y2="162.10" stroke="#000" stroke-width="1"/>
<line x1="321.8" y1="155.00" x2="323.8" y2="155.00" stroke="#000" stroke-width="1"/>
<line x1="509.6" y1="155.00" x2="507.6" y2="155.00" stroke="#000" stroke-width="1"/>
<line x1="321.8" y1="147.90" x2="323.8" y2="147.90" stroke="#000" stroke-width="1"/>
<line x1="509.6" y1="147.90" x2="507.6" y2="147.90" stroke="#000" stroke-width="1"/>
<line x1="321.8" y1="140.80" x2="323.8" y2="140.80" stroke="#000" stroke-width="1"/>
<line x1="509.6" y1="140.80" x2="507.6" y2="140.80" stroke="#000" stroke-width="1"/>
<line x1="321.8" y1="133.70" x2="325.3" y2="133.70" stroke="#000" stroke-width="1"/>
<line x1="509.6" y1="133.70" x2="506.1" y2="133.70" stroke="#000" stroke-width="1"/>
<line x1="321.8" y1="126.60" x2="323.8" y2="126.60" stroke="#000" stroke-width="1"/>
<line x1="509.6" y1="126.60" x2="507.6" y2="126.60" stroke="#000" stroke-width="1"/>
<line x1="321.8" y1="119.50" x2="323.8" y2="119.50" stroke="#000" stroke-width="1"/>
<line x1="509.6" y1="119.50" x2="507.6" y2="119.50" stroke="#000" stroke-width="1"/>
<text x="319.5" y="221.9" font-size="8.2" font-weight="bold" text-anchor="end" fill="#000" >100</text>
<text x="319.5" y="193.5" font-size="8.2" font-weight="bold" text-anchor="end" fill="#000" >200</text>
<text x="319.5" y="165.1" font-size="8.2" font-weight="bold" text-anchor="end" fill="#000" >300</text>
<text x="319.5" y="136.7" font-size="8.2" font-weight="bold" text-anchor="end" fill="#000" >400</text>
<text x="331.5" y="244.0" font-size="8.2" font-weight="bold" text-anchor="middle" fill="#000" >0.8</text>
<text x="376.7" y="244.0" font-size="8.2" font-weight="bold" text-anchor="middle" fill="#000" >1.0</text>
<text x="421.9" y="244.0" font-size="8.2" font-weight="bold" text-anchor="middle" fill="#000" >1.2</text>
<text x="467.1" y="244.0" font-size="8.2" font-weight="bold" text-anchor="middle" fill="#000" >1.4</text>
<text x="414" y="253.5" font-size="8.3" font-weight="bold" text-anchor="middle">log (j / mA cm<tspan dy="-3" font-size="5.5">-2</tspan><tspan dy="3">)</tspan></text>
<text transform="translate(302,176) rotate(-90)" font-size="8.5" font-weight="bold" text-anchor="middle">Overpotential (mV)</text>
<text x="24.5" y="276.8" font-size="14.3" font-weight="bold" text-anchor="start" fill="#000" >f</text>
<line x1="47.2" y1="275.40" x2="277.1" y2="275.40" stroke="#000" stroke-width="1" stroke-dasharray="3 2.2"/>
<path d="M47.80,382.59 L48.30,382.59 L48.80,382.58 L49.30,382.58 L49.80,382.58 L50.30,382.58 L50.80,382.58 L51.30,382.58 L51.80,382.58 L52.30,382.58 L52.80,382.58 L53.30,382.58 L53.80,382.58 L54.30,382.58 L54.80,382.58 L55.30,382.58 L55.80,382.58 L56.30,382.58 L56.80,382.58 L57.30,382.58 L57.80,382.58 L58.30,382.58 L58.80,382.58 L59.30,382.58 L59.80,382.58 L60.30,382.58 L60.80,382.58 L61.30,382.58 L61.80,382.58 L62.30,382.58 L62.80,382.58 L63.30,382.58 L63.80,382.58 L64.30,382.58 L64.80,382.58 L65.30,382.57 L65.80,382.57 L66.30,382.57 L66.80,382.57 L67.30,382.57 L67.80,382.57 L68.30,382.57 L68.80,382.57 L69.30,382.57 L69.80,382.57 L70.30,382.57 L70.80,382.57 L71.30,382.57 L71.80,382.57 L72.30,382.57 L72.80,382.57 L73.30,382.57 L73.80,382.56 L74.30,382.56 L74.80,382.56 L75.30,382.56 L75.80,382.56 L76.30,382.56 L76.80,382.56 L77.30,382.56 L77.80,382.56 L78.30,382.56 L78.80,382.56 L79.30,382.56 L79.80,382.55 L80.30,382.55 L80.80,382.55 L81.30,382.55 L81.80,382.55 L82.30,382.55 L82.80,382.55 L83.30,382.55 L83.80,382.54 L84.30,382.54 L84.80,382.54 L85.30,382.54 L85.80,382.54 L86.30,382.54 L86.80,382.53 L87.30,382.53 L87.80,382.53 L88.30,382.53 L88.80,382.53 L89.30,382.52 L89.80,382.52 L90.30,382.52 L90.80,382.52 L91.30,382.51 L91.80,382.51 L92.30,382.51 L92.80,382.50 L93.30,382.50 L93.80,382.50 L94.30,382.49 L94.80,382.49 L95.30,382.48 L95.80,382.48 L96.30,382.47 L96.80,382.47 L97.30,382.46 L97.80,382.46 L98.30,382.45 L98.80,382.45 L99.30,382.44 L99.80,382.43 L100.30,382.42 L100.80,382.41 L101.30,382.40 L101.80,382.39 L102.30,382.38 L102.80,382.36 L103.30,382.35 L103.80,382.33 L104.30,382.31 L104.80,382.28 L105.30,382.25 L105.80,382.21 L106.30,382.17 L106.80,382.12 L107.30,382.06 L107.80,381.98 L108.30,381.89 L108.80,381.79 L109.30,381.67 L109.80,381.52 L110.30,381.35 L110.80,381.15 L111.30,380.93 L111.80,380.67 L112.30,380.37 L112.80,380.05 L113.30,379.68 L113.80,379.28 L114.30,378.85 L114.80,378.38 L115.30,377.87 L115.80,377.34 L116.30,376.79 L116.80,376.22 L117.30,375.65 L117.80,375.07 L118.30,374.51 L118.80,373.98 L119.30,373.49 L119.80,373.05 L120.30,372.69 L120.80,372.40 L121.30,372.22 L121.80,372.16 L122.30,372.20 L122.80,372.32 L123.30,372.50 L123.80,372.72 L124.30,372.97 L124.80,373.22 L125.30,373.46 L125.80,373.70 L126.30,373.93 L126.80,374.15 L127.30,374.35 L127.80,374.53 L128.30,374.70 L128.80,374.86 L129.30,375.00 L129.80,375.13 L130.30,375.25 L130.80,375.36 L131.30,375.46 L131.80,375.55 L132.30,375.64 L132.80,375.72 L133.30,375.79 L133.80,375.85 L134.30,375.91 L134.80,375.97 L135.30,376.02 L135.80,376.07 L136.30,376.11 L136.80,376.16 L137.30,376.19 L137.80,376.23 L138.30,376.26 L138.80,376.29 L139.30,376.32 L139.80,376.35 L140.30,376.37 L140.80,376.40 L141.30,376.42 L141.80,376.44 L142.30,376.46 L142.80,376.47 L143.30,376.49 L143.80,376.51 L144.30,376.52 L144.80,376.54 L145.30,376.55 L145.80,376.56 L146.30,376.57 L146.80,376.58 L147.30,376.59 L147.80,376.60 L148.30,376.61 L148.80,376.62 L149.30,376.63 L149.80,376.64 L150.30,376.65 L150.80,376.65 L151.30,376.66 L151.80,376.67 L152.30,376.67 L152.80,376.68 L153.30,376.68 L153.80,376.69 L154.30,376.69 L154.80,376.70 L155.30,376.70 L155.80,376.70 L156.30,376.71 L156.80,376.71 L157.30,376.71 L157.80,376.72 L158.30,376.72 L158.80,376.72 L159.30,376.72 L159.80,376.72 L160.30,376.73 L160.80,376.73 L161.30,376.73 L161.80,376.73 L162.30,376.73 L162.80,376.73 L163.30,376.73 L163.80,376.73 L164.30,376.73 L164.80,376.73 L165.30,376.73 L165.80,376.73 L166.30,376.73 L166.80,376.73 L167.30,376.72 L167.80,376.72 L168.30,376.72 L168.80,376.72 L169.30,376.72 L169.80,376.71 L170.30,376.71 L170.80,376.71 L171.30,376.70 L171.80,376.70 L172.30,376.69 L172.80,376.69 L173.30,376.68 L173.80,376.68 L174.30,376.67 L174.80,376.66 L175.30,376.66 L175.80,376.65 L176.30,376.64 L176.80,376.63 L177.30,376.62 L177.80,376.62 L178.30,376.61 L178.80,376.59 L179.30,376.58 L179.80,376.57 L180.30,376.56 L180.80,376.55 L181.30,376.53 L181.80,376.52 L182.30,376.50 L182.80,376.48 L183.30,376.47 L183.80,376.45 L184.30,376.43 L184.80,376.41 L185.30,376.39 L185.80,376.37 L186.30,376.34 L186.80,376.32 L187.30,376.29 L187.80,376.26 L188.30,376.23 L188.80,376.20 L189.30,376.17 L189.80,376.14 L190.30,376.10 L190.80,376.07 L191.30,376.03 L191.80,375.99 L192.30,375.94 L192.80,375.90 L193.30,375.85 L193.80,375.80 L194.30,375.75 L194.80,375.69 L195.30,375.64 L195.80,375.58 L196.30,375.51 L196.80,375.45 L197.30,375.38 L197.80,375.31 L198.30,375.23 L198.80,375.15 L199.30,375.07 L199.80,374.98 L200.30,374.89 L200.80,374.79 L201.30,374.69 L201.80,374.59 L202.30,374.48 L202.80,374.36 L203.30,374.24 L203.80,374.12 L204.30,373.99 L204.80,373.85 L205.30,373.71 L205.80,373.56 L206.30,373.41 L206.80,373.25 L207.30,373.08 L207.80,372.90 L208.30,372.72 L208.80,372.53 L209.30,372.33 L209.80,372.13 L210.30,371.91 L210.80,371.69 L211.30,371.46 L211.80,371.22 L212.30,370.97 L212.80,370.71 L213.30,370.45 L213.80,370.17 L214.30,369.88 L214.80,369.59 L215.30,369.28 L215.80,368.96 L216.30,368.63 L216.80,368.29 L217.30,367.94 L217.80,367.58 L218.30,367.21 L218.80,366.82 L219.30,366.43 L219.80,366.02 L220.30,365.60 L220.80,365.17 L221.30,364.72 L221.80,364.27 L222.30,363.80 L222.80,363.33 L223.30,362.84 L223.80,362.33 L224.30,361.82 L224.80,361.29 L225.30,360.76 L225.80,360.21 L226.30,359.65 L226.80,359.07 L227.30,358.49 L227.80,357.90 L228.30,357.29 L228.80,356.67 L229.30,356.05 L229.80,355.41 L230.30,354.76 L230.80,354.10 L231.30,353.44 L231.80,352.76 L232.30,352.07 L232.80,351.37 L233.30,350.67 L233.80,349.95 L234.30,349.23 L234.80,348.49 L235.30,347.75 L235.80,347.00 L236.30,346.25 L236.80,345.48 L237.30,344.71 L237.80,343.93 L238.30,343.15 L238.80,342.36 L239.30,341.56 L239.80,340.75 L240.30,339.94 L240.80,339.12 L241.30,338.30 L241.80,337.47 L242.30,336.64 L242.80,335.80 L243.30,334.96 L243.80,334.11 L244.30,333.26 L244.80,332.40 L245.30,331.54 L245.80,330.68 L246.30,329.81 L246.80,328.94 L247.30,328.06 L247.80,327.18 L248.30,326.30 L248.80,325.42 L249.30,324.53 L249.80,323.64 L250.30,322.74 L250.80,321.85 L251.30,320.95 L251.80,320.05 L252.30,319.15 L252.80,318.24 L253.30,317.33 L253.80,316.42 L254.30,315.51 L254.80,314.60 L255.30,313.68 L255.80,312.77 L256.30,311.85 L256.80,310.93 L257.30,310.01 L257.80,309.08 L258.30,308.16 L258.80,307.24 L259.30,306.31 L259.80,305.38 L260.30,304.45 L260.80,303.52 L261.30,302.59 L261.80,301.66 L262.30,300.73 L262.80,299.80 L263.30,298.86 L263.80,297.93 L264.30,296.99 L264.80,296.06 L265.30,295.12 L265.80,294.18 L266.30,293.25 L266.80,292.31 L267.30,291.37 L267.80,290.43 L268.30,289.49 L268.80,288.55 L269.30,287.61 L269.80,286.66 L270.30,285.72 L270.80,284.78 L271.30,283.84 L271.80,282.89 L272.30,281.95 L272.80,281.01 L273.30,280.06 L273.80,279.12 L274.30,278.18 L274.80,277.23 L275.30,276.29 L275.80,275.34 L276.30,274.39" fill="none" stroke="#d3262f" stroke-width="1.6" stroke-linejoin="round"/>
<path d="M47.80,382.57 L48.30,382.57 L48.80,382.57 L49.30,382.57 L49.80,382.57 L50.30,382.57 L50.80,382.57 L51.30,382.57 L51.80,382.57 L52.30,382.57 L52.80,382.56 L53.30,382.56 L53.80,382.56 L54.30,382.56 L54.80,382.56 L55.30,382.56 L55.80,382.56 L56.30,382.56 L56.80,382.56 L57.30,382.56 L57.80,382.56 L58.30,382.56 L58.80,382.56 L59.30,382.56 L59.80,382.56 L60.30,382.56 L60.80,382.55 L61.30,382.55 L61.80,382.55 L62.30,382.55 L62.80,382.55 L63.30,382.55 L63.80,382.55 L64.30,382.55 L64.80,382.55 L65.30,382.55 L65.80,382.55 L66.30,382.55 L66.80,382.54 L67.30,382.54 L67.80,382.54 L68.30,382.54 L68.80,382.54 L69.30,382.54 L69.80,382.54 L70.30,382.54 L70.80,382.54 L71.30,382.53 L71.80,382.53 L72.30,382.53 L72.80,382.53 L73.30,382.53 L73.80,382.53 L74.30,382.53 L74.80,382.52 L75.30,382.52 L75.80,382.52 L76.30,382.52 L76.80,382.52 L77.30,382.51 L77.80,382.51 L78.30,382.51 L78.80,382.51 L79.30,382.51 L79.80,382.50 L80.30,382.50 L80.80,382.50 L81.30,382.50 L81.80,382.49 L82.30,382.49 L82.80,382.49 L83.30,382.49 L83.80,382.48 L84.30,382.48 L84.80,382.48 L85.30,382.47 L85.80,382.47 L86.30,382.47 L86.80,382.46 L87.30,382.46 L87.80,382.45 L88.30,382.45 L88.80,382.44 L89.30,382.44 L89.80,382.43 L90.30,382.43 L90.80,382.42 L91.30,382.42 L91.80,382.41 L92.30,382.40 L92.80,382.40 L93.30,382.39 L93.80,382.38 L94.30,382.38 L94.80,382.37 L95.30,382.36 L95.80,382.35 L96.30,382.34 L96.80,382.33 L97.30,382.32 L97.80,382.31 L98.30,382.29 L98.80,382.28 L99.30,382.26 L99.80,382.25 L100.30,382.23 L100.80,382.21 L101.30,382.19 L101.80,382.17 L102.30,382.14 L102.80,382.11 L103.30,382.08 L103.80,382.04 L104.30,382.00 L104.80,381.95 L105.30,381.88 L105.80,381.81 L106.30,381.72 L106.80,381.62 L107.30,381.50 L107.80,381.35 L108.30,381.17 L108.80,380.96 L109.30,380.71 L109.80,380.42 L110.30,380.09 L110.80,379.70 L111.30,379.25 L111.80,378.74 L112.30,378.16 L112.80,377.52 L113.30,376.82 L113.80,376.04 L114.30,375.20 L114.80,374.31 L115.30,373.36 L115.80,372.38 L116.30,371.36 L116.80,370.34 L117.30,369.31 L117.80,368.32 L118.30,367.38 L118.80,366.51 L119.30,365.74 L119.80,365.11 L120.30,364.62 L120.80,364.30 L121.30,364.21 L121.80,364.36 L122.30,364.70 L122.80,365.20 L123.30,365.80 L123.80,366.47 L124.30,367.15 L124.80,367.83 L125.30,368.49 L125.80,369.11 L126.30,369.69 L126.80,370.23 L127.30,370.72 L127.80,371.16 L128.30,371.57 L128.80,371.93 L129.30,372.27 L129.80,372.57 L130.30,372.85 L130.80,373.10 L131.30,373.32 L131.80,373.53 L132.30,373.72 L132.80,373.89 L133.30,374.05 L133.80,374.19 L134.30,374.32 L134.80,374.44 L135.30,374.55 L135.80,374.66 L136.30,374.75 L136.80,374.84 L137.30,374.92 L137.80,374.99 L138.30,375.06 L138.80,375.13 L139.30,375.19 L139.80,375.24 L140.30,375.29 L140.80,375.34 L141.30,375.39 L141.80,375.43 L142.30,375.47 L142.80,375.51 L143.30,375.54 L143.80,375.57 L144.30,375.60 L144.80,375.63 L145.30,375.66 L145.80,375.69 L146.30,375.71 L146.80,375.73 L147.30,375.75 L147.80,375.77 L148.30,375.79 L148.80,375.81 L149.30,375.82 L149.80,375.84 L150.30,375.85 L150.80,375.87 L151.30,375.88 L151.80,375.89 L152.30,375.90 L152.80,375.91 L153.30,375.92 L153.80,375.93 L154.30,375.94 L154.80,375.95 L155.30,375.96 L155.80,375.96 L156.30,375.97 L156.80,375.97 L157.30,375.98 L157.80,375.98 L158.30,375.99 L158.80,375.99 L159.30,375.99 L159.80,375.99 L160.30,375.99 L160.80,375.99 L161.30,375.99 L161.80,375.99 L162.30,375.99 L162.80,375.99 L163.30,375.99 L163.80,375.99 L164.30,375.98 L164.80,375.98 L165.30,375.97 L165.80,375.97 L166.30,375.96 L166.80,375.96 L167.30,375.95 L167.80,375.94 L168.30,375.93 L168.80,375.92 L169.30,375.91 L169.80,375.90 L170.30,375.89 L170.80,375.88 L171.30,375.86 L171.80,375.85 L172.30,375.83 L172.80,375.81 L173.30,375.79 L173.80,375.77 L174.30,375.75 L174.80,375.73 L175.30,375.71 L175.80,375.68 L176.30,375.66 L176.80,375.63 L177.30,375.60 L177.80,375.57 L178.30,375.54 L178.80,375.51 L179.30,375.47 L179.80,375.43 L180.30,375.39 L180.80,375.35 L181.30,375.31 L181.80,375.26 L182.30,375.21 L182.80,375.16 L183.30,375.10 L183.80,375.05 L184.30,374.99 L184.80,374.93 L185.30,374.86 L185.80,374.79 L186.30,374.72 L186.80,374.64 L187.30,374.56 L187.80,374.48 L188.30,374.39 L188.80,374.30 L189.30,374.21 L189.80,374.11 L190.30,374.00 L190.80,373.89 L191.30,373.78 L191.80,373.66 L192.30,373.53 L192.80,373.40 L193.30,373.27 L193.80,373.12 L194.30,372.98 L194.80,372.82 L195.30,372.66 L195.80,372.49 L196.30,372.32 L196.80,372.13 L197.30,371.94 L197.80,371.74 L198.30,371.54 L198.80,371.33 L199.30,371.10 L199.80,370.87 L200.30,370.63 L200.80,370.38 L201.30,370.13 L201.80,369.86 L202.30,369.58 L202.80,369.29 L203.30,369.00 L203.80,368.69 L204.30,368.37 L204.80,368.04 L205.30,367.71 L205.80,367.36 L206.30,366.99 L206.80,366.62 L207.30,366.24 L207.80,365.85 L208.30,365.44 L208.80,365.02 L209.30,364.60 L209.80,364.16 L210.30,363.70 L210.80,363.24 L211.30,362.77 L211.80,362.28 L212.30,361.78 L212.80,361.27 L213.30,360.75 L213.80,360.22 L214.30,359.68 L214.80,359.12 L215.30,358.56 L215.80,357.98 L216.30,357.39 L216.80,356.80 L217.30,356.19 L217.80,355.57 L218.30,354.94 L218.80,354.30 L219.30,353.65 L219.80,353.00 L220.30,352.33 L220.80,351.65 L221.30,350.97 L221.80,350.27 L222.30,349.57 L222.80,348.86 L223.30,348.14 L223.80,347.41 L224.30,346.68 L224.80,345.93 L225.30,345.18 L225.80,344.43 L226.30,343.66 L226.80,342.89 L227.30,342.12 L227.80,341.34 L228.30,340.55 L228.80,339.75 L229.30,338.95 L229.80,338.15 L230.30,337.34 L230.80,336.52 L231.30,335.70 L231.80,334.88 L232.30,334.05 L232.80,333.22 L233.30,332.38 L233.80,331.54 L234.30,330.70 L234.80,329.85 L235.30,329.00 L235.80,328.14 L236.30,327.28 L236.80,326.42 L237.30,325.56 L237.80,324.69 L238.30,323.82 L238.80,322.95 L239.30,322.08 L239.80,321.20 L240.30,320.32 L240.80,319.44 L241.30,318.56 L241.80,317.67 L242.30,316.79 L242.80,315.90 L243.30,315.01 L243.80,314.11 L244.30,313.22 L244.80,312.33 L245.30,311.43 L245.80,310.53 L246.30,309.63 L246.80,308.73 L247.30,307.83 L247.80,306.93 L248.30,306.02 L248.80,305.12 L249.30,304.21 L249.80,303.31 L250.30,302.40 L250.80,301.49 L251.30,300.58 L251.80,299.67 L252.30,298.76 L252.80,297.85 L253.30,296.94 L253.80,296.03 L254.30,295.11 L254.80,294.20 L255.30,293.29 L255.80,292.37 L256.30,291.46 L256.80,290.54 L257.30,289.62 L257.80,288.71 L258.30,287.79 L258.80,286.87 L259.30,285.96 L259.80,285.04 L260.30,284.12 L260.80,283.20 L261.30,282.28 L261.80,281.36 L262.30,280.44 L262.80,279.52 L263.30,278.60 L263.80,277.68 L264.30,276.76 L264.80,275.84 L265.30,274.92 L265.80,274.00 L266.30,273.08 L266.80,272.16 L267.30,271.24 L267.80,270.31 L268.30,269.39 L268.80,268.47 L269.30,267.55 L269.80,266.63 L270.30,265.70 L270.68,265.00" fill="none" stroke="#c9322e" stroke-width="1.6" stroke-linejoin="round"/>
<path d="M47.80,382.56 L48.30,382.55 L48.80,382.55 L49.30,382.55 L49.80,382.55 L50.30,382.55 L50.80,382.55 L51.30,382.55 L51.80,382.55 L52.30,382.55 L52.80,382.55 L53.30,382.55 L53.80,382.55 L54.30,382.55 L54.80,382.55 L55.30,382.54 L55.80,382.54 L56.30,382.54 L56.80,382.54 L57.30,382.54 L57.80,382.54 L58.30,382.54 L58.80,382.54 L59.30,382.54 L59.80,382.54 L60.30,382.54 L60.80,382.53 L61.30,382.53 L61.80,382.53 L62.30,382.53 L62.80,382.53 L63.30,382.53 L63.80,382.53 L64.30,382.53 L64.80,382.52 L65.30,382.52 L65.80,382.52 L66.30,382.52 L66.80,382.52 L67.30,382.52 L67.80,382.52 L68.30,382.51 L68.80,382.51 L69.30,382.51 L69.80,382.51 L70.30,382.51 L70.80,382.51 L71.30,382.50 L71.80,382.50 L72.30,382.50 L72.80,382.50 L73.30,382.50 L73.80,382.49 L74.30,382.49 L74.80,382.49 L75.30,382.49 L75.80,382.48 L76.30,382.48 L76.80,382.48 L77.30,382.48 L77.80,382.47 L78.30,382.47 L78.80,382.47 L79.30,382.46 L79.80,382.46 L80.30,382.46 L80.80,382.45 L81.30,382.45 L81.80,382.45 L82.30,382.44 L82.80,382.44 L83.30,382.43 L83.80,382.43 L84.30,382.42 L84.80,382.42 L85.30,382.42 L85.80,382.41 L86.30,382.40 L86.80,382.40 L87.30,382.39 L87.80,382.39 L88.30,382.38 L88.80,382.37 L89.30,382.37 L89.80,382.36 L90.30,382.35 L90.80,382.34 L91.30,382.33 L91.80,382.33 L92.30,382.32 L92.80,382.31 L93.30,382.30 L93.80,382.29 L94.30,382.27 L94.80,382.26 L95.30,382.25 L95.80,382.24 L96.30,382.22 L96.80,382.21 L97.30,382.19 L97.80,382.17 L98.30,382.15 L98.80,382.13 L99.30,382.11 L99.80,382.09 L100.30,382.06 L100.80,382.04 L101.30,382.01 L101.80,381.97 L102.30,381.94 L102.80,381.90 L103.30,381.85 L103.80,381.79 L104.30,381.73 L104.80,381.65 L105.30,381.56 L105.80,381.46 L106.30,381.33 L106.80,381.19 L107.30,381.01 L107.80,380.79 L108.30,380.54 L108.80,380.24 L109.30,379.88 L109.80,379.47 L110.30,378.98 L110.80,378.42 L111.30,377.78 L111.80,377.05 L112.30,376.23 L112.80,375.32 L113.30,374.31 L113.80,373.21 L114.30,372.02 L114.80,370.76 L115.30,369.42 L115.80,368.04 L116.30,366.62 L116.80,365.19 L117.30,363.77 L117.80,362.41 L118.30,361.13 L118.80,359.96 L119.30,358.96 L119.80,358.14 L120.30,357.54 L120.80,357.20 L121.30,357.18 L121.80,357.51 L122.30,358.12 L122.80,358.94 L123.30,359.91 L123.80,360.96 L124.30,362.03 L124.80,363.09 L125.30,364.10 L125.80,365.05 L126.30,365.94 L126.80,366.75 L127.30,367.49 L127.80,368.16 L128.30,368.77 L128.80,369.33 L129.30,369.83 L129.80,370.28 L130.30,370.69 L130.80,371.06 L131.30,371.40 L131.80,371.70 L132.30,371.98 L132.80,372.23 L133.30,372.47 L133.80,372.68 L134.30,372.87 L134.80,373.05 L135.30,373.21 L135.80,373.36 L136.30,373.50 L136.80,373.63 L137.30,373.75 L137.80,373.86 L138.30,373.96 L138.80,374.05 L139.30,374.14 L139.80,374.22 L140.30,374.30 L140.80,374.37 L141.30,374.43 L141.80,374.50 L142.30,374.55 L142.80,374.61 L143.30,374.66 L143.80,374.71 L144.30,374.75 L144.80,374.79 L145.30,374.83 L145.80,374.87 L146.30,374.91 L146.80,374.94 L147.30,374.97 L147.80,375.00 L148.30,375.03 L148.80,375.05 L149.30,375.08 L149.80,375.10 L150.30,375.12 L150.80,375.14 L151.30,375.16 L151.80,375.18 L152.30,375.20 L152.80,375.21 L153.30,375.23 L153.80,375.24 L154.30,375.26 L154.80,375.27 L155.30,375.28 L155.80,375.29 L156.30,375.30 L156.80,375.31 L157.30,375.32 L157.80,375.32 L158.30,375.33 L158.80,375.34 L159.30,375.34 L159.80,375.35 L160.30,375.35 L160.80,375.35 L161.30,375.36 L161.80,375.36 L162.30,375.36 L162.80,375.36 L163.30,375.36 L163.80,375.36 L164.30,375.36 L164.80,375.35 L165.30,375.35 L165.80,375.34 L166.30,375.34 L166.80,375.33 L167.30,375.33 L167.80,375.32 L168.30,375.31 L168.80,375.30 L169.30,375.29 L169.80,375.28 L170.30,375.27 L170.80,375.25 L171.30,375.24 L171.80,375.22 L172.30,375.21 L172.80,375.19 L173.30,375.17 L173.80,375.15 L174.30,375.13 L174.80,375.10 L175.30,375.08 L175.80,375.05 L176.30,375.02 L176.80,374.99 L177.30,374.96 L177.80,374.93 L178.30,374.90 L178.80,374.86 L179.30,374.82 L179.80,374.78 L180.30,374.73 L180.80,374.69 L181.30,374.64 L181.80,374.59 L182.30,374.54 L182.80,374.48 L183.30,374.42 L183.80,374.36 L184.30,374.29 L184.80,374.22 L185.30,374.15 L185.80,374.08 L186.30,374.00 L186.80,373.91 L187.30,373.83 L187.80,373.73 L188.30,373.64 L188.80,373.54 L189.30,373.43 L189.80,373.32 L190.30,373.21 L190.80,373.09 L191.30,372.96 L191.80,372.83 L192.30,372.70 L192.80,372.55 L193.30,372.40 L193.80,372.25 L194.30,372.09 L194.80,371.92 L195.30,371.74 L195.80,371.56 L196.30,371.37 L196.80,371.17 L197.30,370.96 L197.80,370.74 L198.30,370.52 L198.80,370.29 L199.30,370.05 L199.80,369.80 L200.30,369.54 L200.80,369.27 L201.30,368.99 L201.80,368.70 L202.30,368.40 L202.80,368.09 L203.30,367.78 L203.80,367.45 L204.30,367.10 L204.80,366.75 L205.30,366.39 L205.80,366.02 L206.30,365.63 L206.80,365.24 L207.30,364.83 L207.80,364.41 L208.30,363.98 L208.80,363.54 L209.30,363.08 L209.80,362.62 L210.30,362.14 L210.80,361.66 L211.30,361.16 L211.80,360.64 L212.30,360.12 L212.80,359.59 L213.30,359.04 L213.80,358.49 L214.30,357.92 L214.80,357.34 L215.30,356.75 L215.80,356.15 L216.30,355.54 L216.80,354.92 L217.30,354.29 L217.80,353.65 L218.30,353.00 L218.80,352.34 L219.30,351.67 L219.80,350.99 L220.30,350.31 L220.80,349.61 L221.30,348.91 L221.80,348.19 L222.30,347.47 L222.80,346.74 L223.30,346.01 L223.80,345.26 L224.30,344.51 L224.80,343.76 L225.30,342.99 L225.80,342.22 L226.30,341.44 L226.80,340.66 L227.30,339.87 L227.80,339.08 L228.30,338.28 L228.80,337.47 L229.30,336.66 L229.80,335.84 L230.30,335.02 L230.80,334.20 L231.30,333.37 L231.80,332.53 L232.30,331.70 L232.80,330.86 L233.30,330.01 L233.80,329.16 L234.30,328.31 L234.80,327.45 L235.30,326.60 L235.80,325.73 L236.30,324.87 L236.80,324.00 L237.30,323.13 L237.80,322.26 L238.30,321.39 L238.80,320.51 L239.30,319.63 L239.80,318.75 L240.30,317.87 L240.80,316.98 L241.30,316.09 L241.80,315.20 L242.30,314.31 L242.80,313.42 L243.30,312.53 L243.80,311.63 L244.30,310.74 L244.80,309.84 L245.30,308.94 L245.80,308.04 L246.30,307.14 L246.80,306.23 L247.30,305.33 L247.80,304.43 L248.30,303.52 L248.80,302.61 L249.30,301.71 L249.80,300.80 L250.30,299.89 L250.80,298.98 L251.30,298.07 L251.80,297.16 L252.30,296.24 L252.80,295.33 L253.30,294.42 L253.80,293.51 L254.30,292.59 L254.80,291.68 L255.30,290.76 L255.80,289.85 L256.30,288.93 L256.80,288.01 L257.30,287.10 L257.80,286.18 L258.30,285.26 L258.80,284.34 L259.30,283.43 L259.80,282.51 L260.30,281.59 L260.80,280.67 L261.30,279.75 L261.80,278.83 L262.30,277.91 L262.80,276.99 L263.30,276.07 L263.80,275.15 L264.30,274.23 L264.80,273.31 L265.30,272.38 L265.80,271.46 L266.30,270.54 L266.80,269.62 L267.30,268.70 L267.80,267.78 L268.30,266.85 L268.80,265.93 L269.30,265.01 L269.30,265.00" fill="none" stroke="#e2582a" stroke-width="2.0" stroke-linejoin="round"/>
<path d="M47.80,382.54 L48.30,382.53 L48.80,382.53 L49.30,382.53 L49.80,382.53 L50.30,382.53 L50.80,382.53 L51.30,382.53 L51.80,382.53 L52.30,382.53 L52.80,382.53 L53.30,382.52 L53.80,382.52 L54.30,382.52 L54.80,382.52 L55.30,382.52 L55.80,382.52 L56.30,382.52 L56.80,382.52 L57.30,382.52 L57.80,382.51 L58.30,382.51 L58.80,382.51 L59.30,382.51 L59.80,382.51 L60.30,382.51 L60.80,382.50 L61.30,382.50 L61.80,382.50 L62.30,382.50 L62.80,382.50 L63.30,382.50 L63.80,382.49 L64.30,382.49 L64.80,382.49 L65.30,382.49 L65.80,382.49 L66.30,382.48 L66.80,382.48 L67.30,382.48 L67.80,382.48 L68.30,382.48 L68.80,382.47 L69.30,382.47 L69.80,382.47 L70.30,382.47 L70.80,382.46 L71.30,382.46 L71.80,382.46 L72.30,382.45 L72.80,382.45 L73.30,382.45 L73.80,382.45 L74.30,382.44 L74.80,382.44 L75.30,382.44 L75.80,382.43 L76.30,382.43 L76.80,382.42 L77.30,382.42 L77.80,382.42 L78.30,382.41 L78.80,382.41 L79.30,382.40 L79.80,382.40 L80.30,382.39 L80.80,382.39 L81.30,382.38 L81.80,382.38 L82.30,382.37 L82.80,382.36 L83.30,382.36 L83.80,382.35 L84.30,382.35 L84.80,382.34 L85.30,382.33 L85.80,382.32 L86.30,382.32 L86.80,382.31 L87.30,382.30 L87.80,382.29 L88.30,382.28 L88.80,382.27 L89.30,382.26 L89.80,382.25 L90.30,382.24 L90.80,382.23 L91.30,382.21 L91.80,382.20 L92.30,382.19 L92.80,382.17 L93.30,382.16 L93.80,382.14 L94.30,382.13 L94.80,382.11 L95.30,382.09 L95.80,382.07 L96.30,382.05 L96.80,382.03 L97.30,382.00 L97.80,381.98 L98.30,381.95 L98.80,381.92 L99.30,381.89 L99.80,381.86 L100.30,381.82 L100.80,381.78 L101.30,381.74 L101.80,381.69 L102.30,381.64 L102.80,381.58 L103.30,381.51 L103.80,381.43 L104.30,381.34 L104.80,381.23 L105.30,381.10 L105.80,380.95 L106.30,380.77 L106.80,380.56 L107.30,380.30 L107.80,379.99 L108.30,379.63 L108.80,379.20 L109.30,378.69 L109.80,378.09 L110.30,377.39 L110.80,376.59 L111.30,375.67 L111.80,374.63 L112.30,373.45 L112.80,372.15 L113.30,370.71 L113.80,369.14 L114.30,367.44 L114.80,365.64 L115.30,363.75 L115.80,361.79 L116.30,359.78 L116.80,357.77 L117.30,355.79 L117.80,353.89 L118.30,352.11 L118.80,350.51 L119.30,349.15 L119.80,348.06 L120.30,347.30 L120.80,346.89 L121.30,346.97 L121.80,347.53 L122.30,348.50 L122.80,349.78 L123.30,351.26 L123.80,352.84 L124.30,354.45 L124.80,356.03 L125.30,357.55 L125.80,358.96 L126.30,360.28 L126.80,361.48 L127.30,362.58 L127.80,363.57 L128.30,364.47 L128.80,365.28 L129.30,366.02 L129.80,366.68 L130.30,367.28 L130.80,367.82 L131.30,368.31 L131.80,368.76 L132.30,369.16 L132.80,369.53 L133.30,369.86 L133.80,370.17 L134.30,370.45 L134.80,370.70 L135.30,370.94 L135.80,371.15 L136.30,371.35 L136.80,371.53 L137.30,371.70 L137.80,371.86 L138.30,372.00 L138.80,372.13 L139.30,372.26 L139.80,372.37 L140.30,372.47 L140.80,372.57 L141.30,372.66 L141.80,372.75 L142.30,372.83 L142.80,372.90 L143.30,372.97 L143.80,373.03 L144.30,373.09 L144.80,373.15 L145.30,373.20 L145.80,373.25 L146.30,373.29 L146.80,373.33 L147.30,373.37 L147.80,373.40 L148.30,373.44 L148.80,373.47 L149.30,373.49 L149.80,373.52 L150.30,373.54 L150.80,373.56 L151.30,373.58 L151.80,373.60 L152.30,373.61 L152.80,373.62 L153.30,373.63 L153.80,373.64 L154.30,373.65 L154.80,373.65 L155.30,373.66 L155.80,373.66 L156.30,373.66 L156.80,373.66 L157.30,373.65 L157.80,373.65 L158.30,373.64 L158.80,373.63 L159.30,373.62 L159.80,373.61 L160.30,373.60 L160.80,373.58 L161.30,373.57 L161.80,373.55 L162.30,373.53 L162.80,373.51 L163.30,373.48 L163.80,373.46 L164.30,373.43 L164.80,373.40 L165.30,373.37 L165.80,373.33 L166.30,373.30 L166.80,373.26 L167.30,373.22 L167.80,373.17 L168.30,373.13 L168.80,373.08 L169.30,373.03 L169.80,372.98 L170.30,372.92 L170.80,372.86 L171.30,372.80 L171.80,372.74 L172.30,372.67 L172.80,372.60 L173.30,372.52 L173.80,372.45 L174.30,372.36 L174.80,372.28 L175.30,372.19 L175.80,372.10 L176.30,372.00 L176.80,371.90 L177.30,371.80 L177.80,371.69 L178.30,371.58 L178.80,371.46 L179.30,371.33 L179.80,371.21 L180.30,371.07 L180.80,370.93 L181.30,370.79 L181.80,370.64 L182.30,370.49 L182.80,370.32 L183.30,370.16 L183.80,369.98 L184.30,369.80 L184.80,369.61 L185.30,369.42 L185.80,369.22 L186.30,369.01 L186.80,368.79 L187.30,368.56 L187.80,368.33 L188.30,368.09 L188.80,367.84 L189.30,367.58 L189.80,367.32 L190.30,367.04 L190.80,366.75 L191.30,366.46 L191.80,366.15 L192.30,365.84 L192.80,365.51 L193.30,365.18 L193.80,364.83 L194.30,364.47 L194.80,364.11 L195.30,363.73 L195.80,363.34 L196.30,362.93 L196.80,362.52 L197.30,362.09 L197.80,361.65 L198.30,361.20 L198.80,360.74 L199.30,360.26 L199.80,359.77 L200.30,359.27 L200.80,358.75 L201.30,358.23 L201.80,357.68 L202.30,357.13 L202.80,356.56 L203.30,355.98 L203.80,355.38 L204.30,354.77 L204.80,354.15 L205.30,353.51 L205.80,352.86 L206.30,352.19 L206.80,351.51 L207.30,350.82 L207.80,350.12 L208.30,349.39 L208.80,348.66 L209.30,347.91 L209.80,347.15 L210.30,346.38 L210.80,345.59 L211.30,344.79 L211.80,343.97 L212.30,343.15 L212.80,342.31 L213.30,341.45 L213.80,340.59 L214.30,339.71 L214.80,338.82 L215.30,337.92 L215.80,337.00 L216.30,336.08 L216.80,335.14 L217.30,334.19 L217.80,333.23 L218.30,332.26 L218.80,331.28 L219.30,330.29 L219.80,329.28 L220.30,328.27 L220.80,327.25 L221.30,326.22 L221.80,325.18 L222.30,324.13 L222.80,323.07 L223.30,322.00 L223.80,320.92 L224.30,319.84 L224.80,318.74 L225.30,317.64 L225.80,316.53 L226.30,315.42 L226.80,314.30 L227.30,313.17 L227.80,312.03 L228.30,310.89 L228.80,309.74 L229.30,308.58 L229.80,307.42 L230.30,306.25 L230.80,305.07 L231.30,303.90 L231.80,302.71 L232.30,301.52 L232.80,300.33 L233.30,299.13 L233.80,297.92 L234.30,296.72 L234.80,295.50 L235.30,294.29 L235.80,293.06 L236.30,291.84 L236.80,290.61 L237.30,289.38 L237.80,288.14 L238.30,286.90 L238.80,285.66 L239.30,284.41 L239.80,283.17 L240.30,281.91 L240.80,280.66 L241.30,279.40 L241.80,278.14 L242.30,276.88 L242.80,275.61 L243.30,274.35 L243.80,273.08 L244.30,271.81 L244.80,270.53 L245.30,269.26 L245.80,267.98 L246.30,266.70 L246.80,265.42 L246.96,265.00" fill="none" stroke="#eeb36a" stroke-width="1.5" stroke-linejoin="round"/>
<path d="M47.80,382.52 L48.30,382.52 L48.80,382.52 L49.30,382.52 L49.80,382.51 L50.30,382.51 L50.80,382.51 L51.30,382.51 L51.80,382.51 L52.30,382.51 L52.80,382.51 L53.30,382.50 L53.80,382.50 L54.30,382.50 L54.80,382.50 L55.30,382.50 L55.80,382.50 L56.30,382.50 L56.80,382.49 L57.30,382.49 L57.80,382.49 L58.30,382.49 L58.80,382.49 L59.30,382.49 L59.80,382.48 L60.30,382.48 L60.80,382.48 L61.30,382.48 L61.80,382.48 L62.30,382.47 L62.80,382.47 L63.30,382.47 L63.80,382.47 L64.30,382.46 L64.80,382.46 L65.30,382.46 L65.80,382.46 L66.30,382.45 L66.80,382.45 L67.30,382.45 L67.80,382.45 L68.30,382.44 L68.80,382.44 L69.30,382.44 L69.80,382.43 L70.30,382.43 L70.80,382.43 L71.30,382.42 L71.80,382.42 L72.30,382.42 L72.80,382.41 L73.30,382.41 L73.80,382.40 L74.30,382.40 L74.80,382.40 L75.30,382.39 L75.80,382.39 L76.30,382.38 L76.80,382.38 L77.30,382.37 L77.80,382.37 L78.30,382.36 L78.80,382.36 L79.30,382.35 L79.80,382.34 L80.30,382.34 L80.80,382.33 L81.30,382.32 L81.80,382.32 L82.30,382.31 L82.80,382.30 L83.30,382.30 L83.80,382.29 L84.30,382.28 L84.80,382.27 L85.30,382.26 L85.80,382.25 L86.30,382.24 L86.80,382.23 L87.30,382.22 L87.80,382.21 L88.30,382.20 L88.80,382.18 L89.30,382.17 L89.80,382.16 L90.30,382.14 L90.80,382.13 L91.30,382.11 L91.80,382.10 L92.30,382.08 L92.80,382.06 L93.30,382.04 L93.80,382.02 L94.30,382.00 L94.80,381.98 L95.30,381.96 L95.80,381.93 L96.30,381.90 L96.80,381.88 L97.30,381.85 L97.80,381.82 L98.30,381.78 L98.80,381.75 L99.30,381.71 L99.80,381.66 L100.30,381.62 L100.80,381.57 L101.30,381.51 L101.80,381.45 L102.30,381.39 L102.80,381.31 L103.30,381.22 L103.80,381.12 L104.30,381.01 L104.80,380.87 L105.30,380.71 L105.80,380.52 L106.30,380.29 L106.80,380.02 L107.30,379.70 L107.80,379.31 L108.30,378.85 L108.80,378.30 L109.30,377.66 L109.80,376.90 L110.30,376.02 L110.80,375.01 L111.30,373.85 L111.80,372.53 L112.30,371.05 L112.80,369.40 L113.30,367.58 L113.80,365.60 L114.30,363.47 L114.80,361.20 L115.30,358.82 L115.80,356.35 L116.30,353.84 L116.80,351.31 L117.30,348.84 L117.80,346.46 L118.30,344.25 L118.80,342.27 L119.30,340.58 L119.80,339.26 L120.30,338.34 L120.80,337.88 L121.30,338.04 L121.80,338.80 L122.30,340.08 L122.80,341.75 L123.30,343.67 L123.80,345.72 L124.30,347.80 L124.80,349.83 L125.30,351.78 L125.80,353.60 L126.30,355.29 L126.80,356.83 L127.30,358.24 L127.80,359.51 L128.30,360.67 L128.80,361.71 L129.30,362.65 L129.80,363.49 L130.30,364.26 L130.80,364.95 L131.30,365.58 L131.80,366.15 L132.30,366.67 L132.80,367.14 L133.30,367.56 L133.80,367.95 L134.30,368.31 L134.80,368.64 L135.30,368.94 L135.80,369.21 L136.30,369.47 L136.80,369.70 L137.30,369.92 L137.80,370.12 L138.30,370.30 L138.80,370.47 L139.30,370.63 L139.80,370.78 L140.30,370.92 L140.80,371.04 L141.30,371.16 L141.80,371.27 L142.30,371.38 L142.80,371.47 L143.30,371.56 L143.80,371.65 L144.30,371.73 L144.80,371.80 L145.30,371.87 L145.80,371.93 L146.30,371.99 L146.80,372.05 L147.30,372.10 L147.80,372.14 L148.30,372.19 L148.80,372.23 L149.30,372.27 L149.80,372.30 L150.30,372.34 L150.80,372.36 L151.30,372.39 L151.80,372.41 L152.30,372.44 L152.80,372.46 L153.30,372.47 L153.80,372.49 L154.30,372.50 L154.80,372.51 L155.30,372.51 L155.80,372.52 L156.30,372.52 L156.80,372.52 L157.30,372.52 L157.80,372.51 L158.30,372.50 L158.80,372.49 L159.30,372.48 L159.80,372.47 L160.30,372.45 L160.80,372.43 L161.30,372.40 L161.80,372.38 L162.30,372.35 L162.80,372.32 L163.30,372.28 L163.80,372.24 L164.30,372.20 L164.80,372.15 L165.30,372.10 L165.80,372.05 L166.30,371.99 L166.80,371.93 L167.30,371.86 L167.80,371.79 L168.30,371.72 L168.80,371.63 L169.30,371.55 L169.80,371.46 L170.30,371.36 L170.80,371.26 L171.30,371.15 L171.80,371.03 L172.30,370.91 L172.80,370.78 L173.30,370.65 L173.80,370.50 L174.30,370.35 L174.80,370.19 L175.30,370.02 L175.80,369.84 L176.30,369.66 L176.80,369.46 L177.30,369.25 L177.80,369.04 L178.30,368.81 L178.80,368.57 L179.30,368.32 L179.80,368.06 L180.30,367.78 L180.80,367.49 L181.30,367.19 L181.80,366.88 L182.30,366.55 L182.80,366.21 L183.30,365.85 L183.80,365.47 L184.30,365.09 L184.80,364.68 L185.30,364.26 L185.80,363.82 L186.30,363.37 L186.80,362.89 L187.30,362.40 L187.80,361.90 L188.30,361.37 L188.80,360.82 L189.30,360.26 L189.80,359.68 L190.30,359.08 L190.80,358.45 L191.30,357.81 L191.80,357.15 L192.30,356.48 L192.80,355.78 L193.30,355.06 L193.80,354.32 L194.30,353.56 L194.80,352.79 L195.30,351.99 L195.80,351.18 L196.30,350.34 L196.80,349.49 L197.30,348.62 L197.80,347.73 L198.30,346.83 L198.80,345.90 L199.30,344.96 L199.80,344.00 L200.30,343.03 L200.80,342.04 L201.30,341.03 L201.80,340.01 L202.30,338.97 L202.80,337.91 L203.30,336.85 L203.80,335.77 L204.30,334.67 L204.80,333.57 L205.30,332.45 L205.80,331.31 L206.30,330.17 L206.80,329.02 L207.30,327.85 L207.80,326.67 L208.30,325.49 L208.80,324.29 L209.30,323.08 L209.80,321.87 L210.30,320.64 L210.80,319.41 L211.30,318.17 L211.80,316.92 L212.30,315.67 L212.80,314.41 L213.30,313.14 L213.80,311.86 L214.30,310.58 L214.80,309.29 L215.30,308.00 L215.80,306.70 L216.30,305.40 L216.80,304.09 L217.30,302.78 L217.80,301.46 L218.30,300.14 L218.80,298.81 L219.30,297.48 L219.80,296.15 L220.30,294.82 L220.80,293.48 L221.30,292.13 L221.80,290.79 L222.30,289.44 L222.80,288.09 L223.30,286.74 L223.80,285.38 L224.30,284.02 L224.80,282.66 L225.30,281.30 L225.80,279.93 L226.30,278.57 L226.80,277.20 L227.30,275.83 L227.80,274.46 L228.30,273.09 L228.80,271.71 L229.30,270.34 L229.80,268.96 L230.30,267.58 L230.80,266.21 L231.24,265.00" fill="none" stroke="#f2de62" stroke-width="1.6" stroke-linejoin="round"/>
<path d="M47.80,382.50 L48.30,382.50 L48.80,382.50 L49.30,382.50 L49.80,382.50 L50.30,382.50 L50.80,382.49 L51.30,382.49 L51.80,382.49 L52.30,382.49 L52.80,382.49 L53.30,382.49 L53.80,382.48 L54.30,382.48 L54.80,382.48 L55.30,382.48 L55.80,382.48 L56.30,382.48 L56.80,382.47 L57.30,382.47 L57.80,382.47 L58.30,382.47 L58.80,382.47 L59.30,382.46 L59.80,382.46 L60.30,382.46 L60.80,382.46 L61.30,382.45 L61.80,382.45 L62.30,382.45 L62.80,382.45 L63.30,382.44 L63.80,382.44 L64.30,382.44 L64.80,382.43 L65.30,382.43 L65.80,382.43 L66.30,382.43 L66.80,382.42 L67.30,382.42 L67.80,382.42 L68.30,382.41 L68.80,382.41 L69.30,382.40 L69.80,382.40 L70.30,382.40 L70.80,382.39 L71.30,382.39 L71.80,382.38 L72.30,382.38 L72.80,382.38 L73.30,382.37 L73.80,382.37 L74.30,382.36 L74.80,382.36 L75.30,382.35 L75.80,382.34 L76.30,382.34 L76.80,382.33 L77.30,382.33 L77.80,382.32 L78.30,382.31 L78.80,382.31 L79.30,382.30 L79.80,382.29 L80.30,382.29 L80.80,382.28 L81.30,382.27 L81.80,382.26 L82.30,382.25 L82.80,382.24 L83.30,382.23 L83.80,382.22 L84.30,382.21 L84.80,382.20 L85.30,382.19 L85.80,382.18 L86.30,382.17 L86.80,382.16 L87.30,382.14 L87.80,382.13 L88.30,382.12 L88.80,382.10 L89.30,382.09 L89.80,382.07 L90.30,382.05 L90.80,382.03 L91.30,382.02 L91.80,382.00 L92.30,381.98 L92.80,381.95 L93.30,381.93 L93.80,381.91 L94.30,381.88 L94.80,381.86 L95.30,381.83 L95.80,381.80 L96.30,381.77 L96.80,381.73 L97.30,381.70 L97.80,381.66 L98.30,381.62 L98.80,381.57 L99.30,381.53 L99.80,381.48 L100.30,381.42 L100.80,381.36 L101.30,381.30 L101.80,381.22 L102.30,381.14 L102.80,381.05 L103.30,380.95 L103.80,380.83 L104.30,380.69 L104.80,380.53 L105.30,380.33 L105.80,380.10 L106.30,379.83 L106.80,379.51 L107.30,379.12 L107.80,378.66 L108.30,378.11 L108.80,377.46 L109.30,376.69 L109.80,375.79 L110.30,374.74 L110.80,373.53 L111.30,372.14 L111.80,370.57 L112.30,368.80 L112.80,366.84 L113.30,364.67 L113.80,362.32 L114.30,359.78 L114.80,357.08 L115.30,354.25 L115.80,351.32 L116.30,348.34 L116.80,345.35 L117.30,342.43 L117.80,339.62 L118.30,337.02 L118.80,334.70 L119.30,332.74 L119.80,331.21 L120.30,330.17 L120.80,329.68 L121.30,329.92 L121.80,330.90 L122.30,332.49 L122.80,334.53 L123.30,336.87 L123.80,339.37 L124.30,341.89 L124.80,344.36 L125.30,346.72 L125.80,348.92 L126.30,350.96 L126.80,352.83 L127.30,354.52 L127.80,356.06 L128.30,357.44 L128.80,358.70 L129.30,359.82 L129.80,360.84 L130.30,361.76 L130.80,362.59 L131.30,363.34 L131.80,364.02 L132.30,364.64 L132.80,365.19 L133.30,365.70 L133.80,366.17 L134.30,366.59 L134.80,366.98 L135.30,367.33 L135.80,367.66 L136.30,367.95 L136.80,368.23 L137.30,368.48 L137.80,368.71 L138.30,368.92 L138.80,369.12 L139.30,369.30 L139.80,369.47 L140.30,369.63 L140.80,369.77 L141.30,369.90 L141.80,370.02 L142.30,370.13 L142.80,370.24 L143.30,370.33 L143.80,370.42 L144.30,370.50 L144.80,370.57 L145.30,370.64 L145.80,370.70 L146.30,370.75 L146.80,370.80 L147.30,370.85 L147.80,370.89 L148.30,370.92 L148.80,370.95 L149.30,370.97 L149.80,370.99 L150.30,371.01 L150.80,371.02 L151.30,371.02 L151.80,371.03 L152.30,371.02 L152.80,371.02 L153.30,371.01 L153.80,370.99 L154.30,370.97 L154.80,370.95 L155.30,370.92 L155.80,370.89 L156.30,370.85 L156.80,370.81 L157.30,370.76 L157.80,370.71 L158.30,370.66 L158.80,370.60 L159.30,370.53 L159.80,370.46 L160.30,370.38 L160.80,370.30 L161.30,370.22 L161.80,370.12 L162.30,370.02 L162.80,369.92 L163.30,369.81 L163.80,369.69 L164.30,369.56 L164.80,369.43 L165.30,369.29 L165.80,369.15 L166.30,368.99 L166.80,368.83 L167.30,368.66 L167.80,368.48 L168.30,368.30 L168.80,368.10 L169.30,367.89 L169.80,367.68 L170.30,367.45 L170.80,367.22 L171.30,366.97 L171.80,366.72 L172.30,366.45 L172.80,366.17 L173.30,365.88 L173.80,365.58 L174.30,365.27 L174.80,364.94 L175.30,364.60 L175.80,364.25 L176.30,363.89 L176.80,363.51 L177.30,363.12 L177.80,362.71 L178.30,362.29 L178.80,361.86 L179.30,361.41 L179.80,360.95 L180.30,360.47 L180.80,359.97 L181.30,359.47 L181.80,358.94 L182.30,358.40 L182.80,357.85 L183.30,357.28 L183.80,356.69 L184.30,356.09 L184.80,355.47 L185.30,354.84 L185.80,354.19 L186.30,353.52 L186.80,352.84 L187.30,352.14 L187.80,351.43 L188.30,350.71 L188.80,349.96 L189.30,349.21 L189.80,348.43 L190.30,347.65 L190.80,346.85 L191.30,346.03 L191.80,345.20 L192.30,344.36 L192.80,343.50 L193.30,342.63 L193.80,341.74 L194.30,340.85 L194.80,339.94 L195.30,339.02 L195.80,338.08 L196.30,337.14 L196.80,336.18 L197.30,335.22 L197.80,334.24 L198.30,333.25 L198.80,332.25 L199.30,331.24 L199.80,330.22 L200.30,329.20 L200.80,328.16 L201.30,327.12 L201.80,326.06 L202.30,325.00 L202.80,323.93 L203.30,322.85 L203.80,321.77 L204.30,320.68 L204.80,319.58 L205.30,318.48 L205.80,317.37 L206.30,316.25 L206.80,315.13 L207.30,314.00 L207.80,312.87 L208.30,311.73 L208.80,310.58 L209.30,309.44 L209.80,308.28 L210.30,307.13 L210.80,305.96 L211.30,304.80 L211.80,303.63 L212.30,302.46 L212.80,301.28 L213.30,300.10 L213.80,298.92 L214.30,297.73 L214.80,296.55 L215.30,295.35 L215.80,294.16 L216.30,292.96 L216.80,291.76 L217.30,290.56 L217.80,289.36 L218.30,288.15 L218.80,286.94 L219.30,285.73 L219.80,284.52 L220.30,283.31 L220.80,282.09 L221.30,280.88 L221.80,279.66 L222.30,278.44 L222.80,277.22 L223.30,276.00 L223.80,274.77 L224.30,273.55 L224.80,272.32 L225.30,271.09 L225.80,269.87 L226.30,268.64 L226.80,267.41 L227.30,266.18 L227.78,265.00" fill="none" stroke="#8a7340" stroke-width="1.6" stroke-linejoin="round"/>
<path d="M47.80,382.49 L48.30,382.49 L48.80,382.49 L49.30,382.49 L49.80,382.48 L50.30,382.48 L50.80,382.48 L51.30,382.48 L51.80,382.48 L52.30,382.48 L52.80,382.47 L53.30,382.47 L53.80,382.47 L54.30,382.47 L54.80,382.47 L55.30,382.46 L55.80,382.46 L56.30,382.46 L56.80,382.46 L57.30,382.46 L57.80,382.45 L58.30,382.45 L58.80,382.45 L59.30,382.45 L59.80,382.44 L60.30,382.44 L60.80,382.44 L61.30,382.44 L61.80,382.43 L62.30,382.43 L62.80,382.43 L63.30,382.42 L63.80,382.42 L64.30,382.42 L64.80,382.41 L65.30,382.41 L65.80,382.41 L66.30,382.40 L66.80,382.40 L67.30,382.40 L67.80,382.39 L68.30,382.39 L68.80,382.38 L69.30,382.38 L69.80,382.38 L70.30,382.37 L70.80,382.37 L71.30,382.36 L71.80,382.36 L72.30,382.35 L72.80,382.35 L73.30,382.34 L73.80,382.34 L74.30,382.33 L74.80,382.33 L75.30,382.32 L75.80,382.31 L76.30,382.31 L76.80,382.30 L77.30,382.29 L77.80,382.29 L78.30,382.28 L78.80,382.27 L79.30,382.26 L79.80,382.26 L80.30,382.25 L80.80,382.24 L81.30,382.23 L81.80,382.22 L82.30,382.21 L82.80,382.20 L83.30,382.19 L83.80,382.18 L84.30,382.17 L84.80,382.16 L85.30,382.14 L85.80,382.13 L86.30,382.12 L86.80,382.10 L87.30,382.09 L87.80,382.07 L88.30,382.06 L88.80,382.04 L89.30,382.02 L89.80,382.00 L90.30,381.99 L90.80,381.97 L91.30,381.94 L91.80,381.92 L92.30,381.90 L92.80,381.87 L93.30,381.85 L93.80,381.82 L94.30,381.79 L94.80,381.76 L95.30,381.73 L95.80,381.70 L96.30,381.66 L96.80,381.62 L97.30,381.58 L97.80,381.54 L98.30,381.50 L98.80,381.45 L99.30,381.40 L99.80,381.34 L100.30,381.28 L100.80,381.21 L101.30,381.14 L101.80,381.06 L102.30,380.96 L102.80,380.86 L103.30,380.75 L103.80,380.61 L104.30,380.45 L104.80,380.27 L105.30,380.06 L105.80,379.80 L106.30,379.50 L106.80,379.13 L107.30,378.70 L107.80,378.18 L108.30,377.56 L108.80,376.83 L109.30,375.97 L109.80,374.96 L110.30,373.79 L110.80,372.43 L111.30,370.88 L111.80,369.12 L112.30,367.14 L112.80,364.94 L113.30,362.51 L113.80,359.88 L114.30,357.04 L114.80,354.03 L115.30,350.86 L115.80,347.60 L116.30,344.27 L116.80,340.94 L117.30,337.68 L117.80,334.57 L118.30,331.69 L118.80,329.13 L119.30,326.97 L119.80,325.31 L120.30,324.19 L120.80,323.68 L121.30,324.01 L121.80,325.16 L122.30,326.99 L122.80,329.33 L123.30,332.00 L123.80,334.84 L124.30,337.71 L124.80,340.52 L125.30,343.19 L125.80,345.69 L126.30,348.00 L126.80,350.11 L127.30,352.03 L127.80,353.77 L128.30,355.34 L128.80,356.75 L129.30,358.03 L129.80,359.18 L130.30,360.21 L130.80,361.15 L131.30,361.99 L131.80,362.76 L132.30,363.46 L132.80,364.09 L133.30,364.66 L133.80,365.18 L134.30,365.66 L134.80,366.10 L135.30,366.50 L135.80,366.86 L136.30,367.20 L136.80,367.51 L137.30,367.79 L137.80,368.05 L138.30,368.29 L138.80,368.52 L139.30,368.72 L139.80,368.91 L140.30,369.09 L140.80,369.25 L141.30,369.40 L141.80,369.54 L142.30,369.66 L142.80,369.78 L143.30,369.89 L143.80,369.99 L144.30,370.08 L144.80,370.17 L145.30,370.24 L145.80,370.31 L146.30,370.38 L146.80,370.44 L147.30,370.49 L147.80,370.53 L148.30,370.57 L148.80,370.61 L149.30,370.64 L149.80,370.66 L150.30,370.69 L150.80,370.70 L151.30,370.71 L151.80,370.72 L152.30,370.72 L152.80,370.72 L153.30,370.71 L153.80,370.70 L154.30,370.68 L154.80,370.66 L155.30,370.63 L155.80,370.60 L156.30,370.57 L156.80,370.53 L157.30,370.49 L157.80,370.44 L158.30,370.38 L158.80,370.32 L159.30,370.26 L159.80,370.19 L160.30,370.11 L160.80,370.03 L161.30,369.94 L161.80,369.85 L162.30,369.75 L162.80,369.64 L163.30,369.53 L163.80,369.41 L164.30,369.28 L164.80,369.15 L165.30,369.01 L165.80,368.86 L166.30,368.70 L166.80,368.54 L167.30,368.37 L167.80,368.18 L168.30,367.99 L168.80,367.79 L169.30,367.58 L169.80,367.36 L170.30,367.13 L170.80,366.90 L171.30,366.65 L171.80,366.38 L172.30,366.11 L172.80,365.83 L173.30,365.53 L173.80,365.23 L174.30,364.91 L174.80,364.57 L175.30,364.23 L175.80,363.87 L176.30,363.50 L176.80,363.11 L177.30,362.72 L177.80,362.30 L178.30,361.88 L178.80,361.43 L179.30,360.98 L179.80,360.51 L180.30,360.02 L180.80,359.52 L181.30,359.00 L181.80,358.47 L182.30,357.92 L182.80,357.36 L183.30,356.78 L183.80,356.18 L184.30,355.57 L184.80,354.94 L185.30,354.30 L185.80,353.64 L186.30,352.97 L186.80,352.28 L187.30,351.58 L187.80,350.86 L188.30,350.12 L188.80,349.37 L189.30,348.60 L189.80,347.82 L190.30,347.03 L190.80,346.22 L191.30,345.39 L191.80,344.56 L192.30,343.71 L192.80,342.84 L193.30,341.96 L193.80,341.07 L194.30,340.17 L194.80,339.25 L195.30,338.32 L195.80,337.39 L196.30,336.43 L196.80,335.47 L197.30,334.50 L197.80,333.51 L198.30,332.52 L198.80,331.52 L199.30,330.50 L199.80,329.48 L200.30,328.45 L200.80,327.40 L201.30,326.36 L201.80,325.30 L202.30,324.23 L202.80,323.16 L203.30,322.08 L203.80,320.99 L204.30,319.89 L204.80,318.79 L205.30,317.68 L205.80,316.57 L206.30,315.45 L206.80,314.33 L207.30,313.19 L207.80,312.06 L208.30,310.92 L208.80,309.77 L209.30,308.62 L209.80,307.47 L210.30,306.31 L210.80,305.14 L211.30,303.98 L211.80,302.80 L212.30,301.63 L212.80,300.45 L213.30,299.27 L213.80,298.09 L214.30,296.90 L214.80,295.71 L215.30,294.52 L215.80,293.32 L216.30,292.12 L216.80,290.92 L217.30,289.72 L217.80,288.52 L218.30,287.31 L218.80,286.10 L219.30,284.89 L219.80,283.68 L220.30,282.46 L220.80,281.25 L221.30,280.03 L221.80,278.81 L222.30,277.59 L222.80,276.37 L223.30,275.14 L223.80,273.92 L224.30,272.69 L224.80,271.47 L225.30,270.24 L225.80,269.01 L226.30,267.78 L226.80,266.55 L227.30,265.32 L227.43,265.00" fill="none" stroke="#b9c24a" stroke-width="1.6" stroke-linejoin="round"/>
<path d="M47.80,382.48 L48.30,382.47 L48.80,382.47 L49.30,382.47 L49.80,382.47 L50.30,382.47 L50.80,382.47 L51.30,382.46 L51.80,382.46 L52.30,382.46 L52.80,382.46 L53.30,382.45 L53.80,382.45 L54.30,382.45 L54.80,382.45 L55.30,382.45 L55.80,382.44 L56.30,382.44 L56.80,382.44 L57.30,382.44 L57.80,382.43 L58.30,382.43 L58.80,382.43 L59.30,382.43 L59.80,382.42 L60.30,382.42 L60.80,382.42 L61.30,382.41 L61.80,382.41 L62.30,382.41 L62.80,382.40 L63.30,382.40 L63.80,382.40 L64.30,382.39 L64.80,382.39 L65.30,382.39 L65.80,382.38 L66.30,382.38 L66.80,382.37 L67.30,382.37 L67.80,382.37 L68.30,382.36 L68.80,382.36 L69.30,382.35 L69.80,382.35 L70.30,382.34 L70.80,382.34 L71.30,382.33 L71.80,382.33 L72.30,382.32 L72.80,382.31 L73.30,382.31 L73.80,382.30 L74.30,382.30 L74.80,382.29 L75.30,382.28 L75.80,382.28 L76.30,382.27 L76.80,382.26 L77.30,382.25 L77.80,382.24 L78.30,382.24 L78.80,382.23 L79.30,382.22 L79.80,382.21 L80.30,382.20 L80.80,382.19 L81.30,382.18 L81.80,382.17 L82.30,382.16 L82.80,382.15 L83.30,382.14 L83.80,382.12 L84.30,382.11 L84.80,382.10 L85.30,382.08 L85.80,382.07 L86.30,382.05 L86.80,382.04 L87.30,382.02 L87.80,382.00 L88.30,381.98 L88.80,381.97 L89.30,381.95 L89.80,381.93 L90.30,381.90 L90.80,381.88 L91.30,381.86 L91.80,381.83 L92.30,381.81 L92.80,381.78 L93.30,381.75 L93.80,381.72 L94.30,381.69 L94.80,381.65 L95.30,381.62 L95.80,381.58 L96.30,381.54 L96.80,381.50 L97.30,381.45 L97.80,381.40 L98.30,381.35 L98.80,381.30 L99.30,381.24 L99.80,381.17 L100.30,381.10 L100.80,381.03 L101.30,380.94 L101.80,380.85 L102.30,380.75 L102.80,380.63 L103.30,380.50 L103.80,380.35 L104.30,380.17 L104.80,379.96 L105.30,379.72 L105.80,379.43 L106.30,379.09 L106.80,378.68 L107.30,378.18 L107.80,377.60 L108.30,376.90 L108.80,376.07 L109.30,375.10 L109.80,373.96 L110.30,372.63 L110.80,371.10 L111.30,369.34 L111.80,367.35 L112.30,365.12 L112.80,362.63 L113.30,359.90 L113.80,356.92 L114.30,353.72 L114.80,350.32 L115.30,346.76 L115.80,343.07 L116.30,339.33 L116.80,335.59 L117.30,331.93 L117.80,328.44 L118.30,325.22 L118.80,322.36 L119.30,319.96 L119.80,318.12 L120.30,316.91 L120.80,316.39 L121.30,316.81 L121.80,318.16 L122.30,320.28 L122.80,322.98 L123.30,326.05 L123.80,329.30 L124.30,332.59 L124.80,335.80 L125.30,338.86 L125.80,341.71 L126.30,344.35 L126.80,346.75 L127.30,348.94 L127.80,350.92 L128.30,352.71 L128.80,354.32 L129.30,355.77 L129.80,357.08 L130.30,358.26 L130.80,359.33 L131.30,360.29 L131.80,361.16 L132.30,361.95 L132.80,362.67 L133.30,363.32 L133.80,363.91 L134.30,364.46 L134.80,364.95 L135.30,365.41 L135.80,365.82 L136.30,366.21 L136.80,366.56 L137.30,366.88 L137.80,367.18 L138.30,367.45 L138.80,367.71 L139.30,367.94 L139.80,368.16 L140.30,368.36 L140.80,368.54 L141.30,368.71 L141.80,368.87 L142.30,369.02 L142.80,369.15 L143.30,369.28 L143.80,369.39 L144.30,369.50 L144.80,369.60 L145.30,369.69 L145.80,369.77 L146.30,369.85 L146.80,369.91 L147.30,369.98 L147.80,370.03 L148.30,370.08 L148.80,370.12 L149.30,370.16 L149.80,370.19 L150.30,370.22 L150.80,370.24 L151.30,370.26 L151.80,370.27 L152.30,370.28 L152.80,370.28 L153.30,370.28 L153.80,370.27 L154.30,370.26 L154.80,370.24 L155.30,370.22 L155.80,370.19 L156.30,370.16 L156.80,370.12 L157.30,370.08 L157.80,370.03 L158.30,369.98 L158.80,369.92 L159.30,369.86 L159.80,369.79 L160.30,369.71 L160.80,369.63 L161.30,369.54 L161.80,369.45 L162.30,369.35 L162.80,369.24 L163.30,369.13 L163.80,369.01 L164.30,368.88 L164.80,368.75 L165.30,368.60 L165.80,368.45 L166.30,368.29 L166.80,368.13 L167.30,367.95 L167.80,367.76 L168.30,367.57 L168.80,367.37 L169.30,367.15 L169.80,366.93 L170.30,366.70 L170.80,366.45 L171.30,366.20 L171.80,365.93 L172.30,365.66 L172.80,365.37 L173.30,365.07 L173.80,364.75 L174.30,364.43 L174.80,364.09 L175.30,363.74 L175.80,363.37 L176.30,363.00 L176.80,362.60 L177.30,362.20 L177.80,361.78 L178.30,361.34 L178.80,360.89 L179.30,360.43 L179.80,359.95 L180.30,359.45 L180.80,358.95 L181.30,358.42 L181.80,357.88 L182.30,357.32 L182.80,356.75 L183.30,356.16 L183.80,355.56 L184.30,354.94 L184.80,354.30 L185.30,353.65 L185.80,352.99 L186.30,352.30 L186.80,351.61 L187.30,350.89 L187.80,350.16 L188.30,349.42 L188.80,348.66 L189.30,347.89 L189.80,347.10 L190.30,346.30 L190.80,345.48 L191.30,344.65 L191.80,343.80 L192.30,342.94 L192.80,342.07 L193.30,341.19 L193.80,340.29 L194.30,339.38 L194.80,338.46 L195.30,337.52 L195.80,336.58 L196.30,335.62 L196.80,334.65 L197.30,333.67 L197.80,332.68 L198.30,331.68 L198.80,330.67 L199.30,329.65 L199.80,328.62 L200.30,327.59 L200.80,326.54 L201.30,325.49 L201.80,324.42 L202.30,323.35 L202.80,322.28 L203.30,321.19 L203.80,320.10 L204.30,319.00 L204.80,317.90 L205.30,316.79 L205.80,315.67 L206.30,314.55 L206.80,313.42 L207.30,312.28 L207.80,311.14 L208.30,310.00 L208.80,308.85 L209.30,307.70 L209.80,306.54 L210.30,305.38 L210.80,304.22 L211.30,303.05 L211.80,301.87 L212.30,300.70 L212.80,299.52 L213.30,298.33 L213.80,297.15 L214.30,295.96 L214.80,294.77 L215.30,293.57 L215.80,292.38 L216.30,291.18 L216.80,289.98 L217.30,288.77 L217.80,287.57 L218.30,286.36 L218.80,285.15 L219.30,283.94 L219.80,282.72 L220.30,281.51 L220.80,280.29 L221.30,279.07 L221.80,277.86 L222.30,276.63 L222.80,275.41 L223.30,274.19 L223.80,272.96 L224.30,271.74 L224.80,270.51 L225.30,269.28 L225.80,268.05 L226.30,266.82 L226.80,265.59 L227.04,265.00" fill="none" stroke="#4a4230" stroke-width="1.7" stroke-linejoin="round"/>
<path d="M47.80,382.46 L48.30,382.46 L48.80,382.46 L49.30,382.46 L49.80,382.45 L50.30,382.45 L50.80,382.45 L51.30,382.45 L51.80,382.45 L52.30,382.44 L52.80,382.44 L53.30,382.44 L53.80,382.44 L54.30,382.43 L54.80,382.43 L55.30,382.43 L55.80,382.43 L56.30,382.42 L56.80,382.42 L57.30,382.42 L57.80,382.41 L58.30,382.41 L58.80,382.41 L59.30,382.41 L59.80,382.40 L60.30,382.40 L60.80,382.40 L61.30,382.39 L61.80,382.39 L62.30,382.38 L62.80,382.38 L63.30,382.38 L63.80,382.37 L64.30,382.37 L64.80,382.37 L65.30,382.36 L65.80,382.36 L66.30,382.35 L66.80,382.35 L67.30,382.34 L67.80,382.34 L68.30,382.33 L68.80,382.33 L69.30,382.32 L69.80,382.32 L70.30,382.31 L70.80,382.31 L71.30,382.30 L71.80,382.29 L72.30,382.29 L72.80,382.28 L73.30,382.27 L73.80,382.27 L74.30,382.26 L74.80,382.25 L75.30,382.25 L75.80,382.24 L76.30,382.23 L76.80,382.22 L77.30,382.21 L77.80,382.20 L78.30,382.19 L78.80,382.19 L79.30,382.18 L79.80,382.17 L80.30,382.15 L80.80,382.14 L81.30,382.13 L81.80,382.12 L82.30,382.11 L82.80,382.10 L83.30,382.08 L83.80,382.07 L84.30,382.05 L84.80,382.04 L85.30,382.02 L85.80,382.01 L86.30,381.99 L86.80,381.97 L87.30,381.95 L87.80,381.93 L88.30,381.91 L88.80,381.89 L89.30,381.87 L89.80,381.85 L90.30,381.82 L90.80,381.80 L91.30,381.77 L91.80,381.74 L92.30,381.72 L92.80,381.68 L93.30,381.65 L93.80,381.62 L94.30,381.58 L94.80,381.54 L95.30,381.50 L95.80,381.46 L96.30,381.42 L96.80,381.37 L97.30,381.32 L97.80,381.26 L98.30,381.21 L98.80,381.15 L99.30,381.08 L99.80,381.01 L100.30,380.93 L100.80,380.85 L101.30,380.75 L101.80,380.65 L102.30,380.54 L102.80,380.41 L103.30,380.26 L103.80,380.09 L104.30,379.89 L104.80,379.66 L105.30,379.39 L105.80,379.07 L106.30,378.69 L106.80,378.23 L107.30,377.68 L107.80,377.03 L108.30,376.25 L108.80,375.33 L109.30,374.25 L109.80,372.98 L110.30,371.50 L110.80,369.80 L111.30,367.84 L111.80,365.63 L112.30,363.14 L112.80,360.38 L113.30,357.34 L113.80,354.03 L114.30,350.47 L114.80,346.70 L115.30,342.74 L115.80,338.66 L116.30,334.51 L116.80,330.36 L117.30,326.32 L117.80,322.46 L118.30,318.90 L118.80,315.76 L119.30,313.14 L119.80,311.13 L120.30,309.83 L120.80,309.30 L121.30,309.82 L121.80,311.37 L122.30,313.78 L122.80,316.83 L123.30,320.29 L123.80,323.96 L124.30,327.66 L124.80,331.26 L125.30,334.69 L125.80,337.90 L126.30,340.85 L126.80,343.56 L127.30,346.01 L127.80,348.23 L128.30,350.23 L128.80,352.04 L129.30,353.66 L129.80,355.13 L130.30,356.45 L130.80,357.64 L131.30,358.71 L131.80,359.69 L132.30,360.57 L132.80,361.37 L133.30,362.10 L133.80,362.77 L134.30,363.38 L134.80,363.93 L135.30,364.44 L135.80,364.90 L136.30,365.33 L136.80,365.72 L137.30,366.09 L137.80,366.42 L138.30,366.73 L138.80,367.01 L139.30,367.27 L139.80,367.52 L140.30,367.74 L140.80,367.95 L141.30,368.14 L141.80,368.32 L142.30,368.48 L142.80,368.64 L143.30,368.78 L143.80,368.91 L144.30,369.03 L144.80,369.14 L145.30,369.24 L145.80,369.34 L146.30,369.43 L146.80,369.50 L147.30,369.58 L147.80,369.64 L148.30,369.70 L148.80,369.75 L149.30,369.80 L149.80,369.84 L150.30,369.87 L150.80,369.90 L151.30,369.92 L151.80,369.94 L152.30,369.95 L152.80,369.96 L153.30,369.96 L153.80,369.96 L154.30,369.95 L154.80,369.94 L155.30,369.92 L155.80,369.90 L156.30,369.87 L156.80,369.83 L157.30,369.79 L157.80,369.75 L158.30,369.70 L158.80,369.64 L159.30,369.58 L159.80,369.51 L160.30,369.44 L160.80,369.36 L161.30,369.27 L161.80,369.18 L162.30,369.08 L162.80,368.97 L163.30,368.86 L163.80,368.74 L164.30,368.61 L164.80,368.47 L165.30,368.33 L165.80,368.18 L166.30,368.02 L166.80,367.85 L167.30,367.67 L167.80,367.49 L168.30,367.29 L168.80,367.09 L169.30,366.87 L169.80,366.65 L170.30,366.41 L170.80,366.16 L171.30,365.91 L171.80,365.64 L172.30,365.36 L172.80,365.07 L173.30,364.76 L173.80,364.45 L174.30,364.12 L174.80,363.77 L175.30,363.42 L175.80,363.05 L176.30,362.67 L176.80,362.27 L177.30,361.86 L177.80,361.44 L178.30,361.00 L178.80,360.54 L179.30,360.07 L179.80,359.59 L180.30,359.09 L180.80,358.58 L181.30,358.04 L181.80,357.50 L182.30,356.94 L182.80,356.36 L183.30,355.77 L183.80,355.16 L184.30,354.53 L184.80,353.89 L185.30,353.24 L185.80,352.56 L186.30,351.88 L186.80,351.17 L187.30,350.45 L187.80,349.72 L188.30,348.97 L188.80,348.21 L189.30,347.43 L189.80,346.63 L190.30,345.83 L190.80,345.00 L191.30,344.17 L191.80,343.32 L192.30,342.45 L192.80,341.58 L193.30,340.69 L193.80,339.78 L194.30,338.87 L194.80,337.94 L195.30,337.00 L195.80,336.05 L196.30,335.09 L196.80,334.12 L197.30,333.14 L197.80,332.14 L198.30,331.14 L198.80,330.13 L199.30,329.11 L199.80,328.07 L200.30,327.03 L200.80,325.99 L201.30,324.93 L201.80,323.86 L202.30,322.79 L202.80,321.71 L203.30,320.62 L203.80,319.53 L204.30,318.43 L204.80,317.32 L205.30,316.21 L205.80,315.09 L206.30,313.96 L206.80,312.83 L207.30,311.70 L207.80,310.56 L208.30,309.41 L208.80,308.26 L209.30,307.11 L209.80,305.95 L210.30,304.79 L210.80,303.62 L211.30,302.45 L211.80,301.28 L212.30,300.10 L212.80,298.92 L213.30,297.73 L213.80,296.55 L214.30,295.36 L214.80,294.17 L215.30,292.97 L215.80,291.77 L216.30,290.57 L216.80,289.37 L217.30,288.17 L217.80,286.96 L218.30,285.75 L218.80,284.54 L219.30,283.33 L219.80,282.12 L220.30,280.90 L220.80,279.68 L221.30,278.47 L221.80,277.25 L222.30,276.02 L222.80,274.80 L223.30,273.58 L223.80,272.35 L224.30,271.13 L224.80,269.90 L225.30,268.67 L225.80,267.44 L226.30,266.21 L226.79,265.00" fill="none" stroke="#6a3424" stroke-width="1.8" stroke-linejoin="round"/>
<path d="M47.80,382.44 L48.30,382.44 L48.80,382.44 L49.30,382.44 L49.80,382.43 L50.30,382.43 L50.80,382.43 L51.30,382.43 L51.80,382.42 L52.30,382.42 L52.80,382.42 L53.30,382.42 L53.80,382.41 L54.30,382.41 L54.80,382.41 L55.30,382.40 L55.80,382.40 L56.30,382.40 L56.80,382.39 L57.30,382.39 L57.80,382.39 L58.30,382.38 L58.80,382.38 L59.30,382.38 L59.80,382.37 L60.30,382.37 L60.80,382.37 L61.30,382.36 L61.80,382.36 L62.30,382.35 L62.80,382.35 L63.30,382.35 L63.80,382.34 L64.30,382.34 L64.80,382.33 L65.30,382.33 L65.80,382.32 L66.30,382.32 L66.80,382.31 L67.30,382.31 L67.80,382.30 L68.30,382.30 L68.80,382.29 L69.30,382.28 L69.80,382.28 L70.30,382.27 L70.80,382.26 L71.30,382.26 L71.80,382.25 L72.30,382.24 L72.80,382.24 L73.30,382.23 L73.80,382.22 L74.30,382.21 L74.80,382.20 L75.30,382.20 L75.80,382.19 L76.30,382.18 L76.80,382.17 L77.30,382.16 L77.80,382.15 L78.30,382.14 L78.80,382.13 L79.30,382.11 L79.80,382.10 L80.30,382.09 L80.80,382.08 L81.30,382.07 L81.80,382.05 L82.30,382.04 L82.80,382.02 L83.30,382.01 L83.80,381.99 L84.30,381.98 L84.80,381.96 L85.30,381.94 L85.80,381.92 L86.30,381.90 L86.80,381.88 L87.30,381.86 L87.80,381.84 L88.30,381.82 L88.80,381.79 L89.30,381.77 L89.80,381.74 L90.30,381.71 L90.80,381.68 L91.30,381.65 L91.80,381.62 L92.30,381.59 L92.80,381.55 L93.30,381.52 L93.80,381.48 L94.30,381.44 L94.80,381.39 L95.30,381.35 L95.80,381.30 L96.30,381.25 L96.80,381.19 L97.30,381.14 L97.80,381.07 L98.30,381.01 L98.80,380.94 L99.30,380.86 L99.80,380.78 L100.30,380.69 L100.80,380.60 L101.30,380.49 L101.80,380.38 L102.30,380.24 L102.80,380.10 L103.30,379.93 L103.80,379.74 L104.30,379.51 L104.80,379.25 L105.30,378.94 L105.80,378.57 L106.30,378.13 L106.80,377.61 L107.30,376.99 L107.80,376.24 L108.30,375.36 L108.80,374.31 L109.30,373.07 L109.80,371.63 L110.30,369.94 L110.80,368.00 L111.30,365.77 L111.80,363.25 L112.30,360.41 L112.80,357.27 L113.30,353.80 L113.80,350.04 L114.30,345.99 L114.80,341.70 L115.30,337.20 L115.80,332.56 L116.30,327.84 L116.80,323.15 L117.30,318.56 L117.80,314.20 L118.30,310.19 L118.80,306.65 L119.30,303.71 L119.80,301.48 L120.30,300.05 L120.80,299.51 L121.30,300.17 L121.80,302.00 L122.30,304.81 L122.80,308.36 L123.30,312.36 L123.80,316.60 L124.30,320.86 L124.80,325.02 L125.30,328.97 L125.80,332.66 L126.30,336.06 L126.80,339.17 L127.30,341.99 L127.80,344.54 L128.30,346.84 L128.80,348.91 L129.30,350.78 L129.80,352.46 L130.30,353.97 L130.80,355.34 L131.30,356.57 L131.80,357.69 L132.30,358.70 L132.80,359.62 L133.30,360.46 L133.80,361.22 L134.30,361.92 L134.80,362.55 L135.30,363.14 L135.80,363.67 L136.30,364.16 L136.80,364.61 L137.30,365.02 L137.80,365.41 L138.30,365.76 L138.80,366.09 L139.30,366.39 L139.80,366.67 L140.30,366.93 L140.80,367.17 L141.30,367.39 L141.80,367.59 L142.30,367.78 L142.80,367.96 L143.30,368.13 L143.80,368.28 L144.30,368.42 L144.80,368.55 L145.30,368.67 L145.80,368.78 L146.30,368.88 L146.80,368.97 L147.30,369.06 L147.80,369.14 L148.30,369.21 L148.80,369.27 L149.30,369.33 L149.80,369.38 L150.30,369.42 L150.80,369.46 L151.30,369.49 L151.80,369.52 L152.30,369.54 L152.80,369.55 L153.30,369.56 L153.80,369.56 L154.30,369.56 L154.80,369.55 L155.30,369.54 L155.80,369.52 L156.30,369.49 L156.80,369.46 L157.30,369.43 L157.80,369.39 L158.30,369.34 L158.80,369.28 L159.30,369.22 L159.80,369.16 L160.30,369.09 L160.80,369.01 L161.30,368.92 L161.80,368.83 L162.30,368.73 L162.80,368.62 L163.30,368.51 L163.80,368.39 L164.30,368.26 L164.80,368.13 L165.30,367.98 L165.80,367.83 L166.30,367.67 L166.80,367.50 L167.30,367.32 L167.80,367.13 L168.30,366.93 L168.80,366.72 L169.30,366.50 L169.80,366.28 L170.30,366.04 L170.80,365.79 L171.30,365.52 L171.80,365.25 L172.30,364.97 L172.80,364.67 L173.30,364.36 L173.80,364.04 L174.30,363.70 L174.80,363.36 L175.30,362.99 L175.80,362.62 L176.30,362.23 L176.80,361.83 L177.30,361.41 L177.80,360.98 L178.30,360.53 L178.80,360.07 L179.30,359.59 L179.80,359.10 L180.30,358.60 L180.80,358.07 L181.30,357.53 L181.80,356.98 L182.30,356.41 L182.80,355.83 L183.30,355.22 L183.80,354.61 L184.30,353.97 L184.80,353.32 L185.30,352.66 L185.80,351.98 L186.30,351.28 L186.80,350.57 L187.30,349.85 L187.80,349.10 L188.30,348.35 L188.80,347.57 L189.30,346.79 L189.80,345.99 L190.30,345.17 L190.80,344.34 L191.30,343.50 L191.80,342.64 L192.30,341.77 L192.80,340.89 L193.30,339.99 L193.80,339.08 L194.30,338.16 L194.80,337.23 L195.30,336.28 L195.80,335.32 L196.30,334.36 L196.80,333.38 L197.30,332.39 L197.80,331.39 L198.30,330.38 L198.80,329.37 L199.30,328.34 L199.80,327.30 L200.30,326.26 L200.80,325.20 L201.30,324.14 L201.80,323.07 L202.30,322.00 L202.80,320.91 L203.30,319.82 L203.80,318.73 L204.30,317.62 L204.80,316.51 L205.30,315.39 L205.80,314.27 L206.30,313.15 L206.80,312.01 L207.30,310.87 L207.80,309.73 L208.30,308.58 L208.80,307.43 L209.30,306.27 L209.80,305.11 L210.30,303.95 L210.80,302.78 L211.30,301.61 L211.80,300.43 L212.30,299.25 L212.80,298.07 L213.30,296.89 L213.80,295.70 L214.30,294.51 L214.80,293.31 L215.30,292.12 L215.80,290.92 L216.30,289.72 L216.80,288.52 L217.30,287.31 L217.80,286.10 L218.30,284.89 L218.80,283.68 L219.30,282.47 L219.80,281.26 L220.30,280.04 L220.80,278.82 L221.30,277.60 L221.80,276.38 L222.30,275.16 L222.80,273.94 L223.30,272.71 L223.80,271.49 L224.30,270.26 L224.80,269.03 L225.30,267.81 L225.80,266.58 L226.30,265.35 L226.44,265.00" fill="none" stroke="#111111" stroke-width="2.5" stroke-linejoin="round"/>
<rect x="47.2" y="265.0" width="229.90000000000003" height="123.60000000000002" fill="none" stroke="#000" stroke-width="1.3"/>
<line x1="47.2" y1="382.90" x2="51.400000000000006" y2="382.90" stroke="#000" stroke-width="1"/>
<line x1="277.1" y1="382.90" x2="272.90000000000003" y2="382.90" stroke="#000" stroke-width="1"/>
<line x1="47.2" y1="372.15" x2="49.2" y2="372.15" stroke="#000" stroke-width="1"/>
<line x1="277.1" y1="372.15" x2="275.1" y2="372.15" stroke="#000" stroke-width="1"/>
<line x1="47.2" y1="361.40" x2="51.400000000000006" y2="361.40" stroke="#000" stroke-width="1"/>
<line x1="277.1" y1="361.40" x2="272.90000000000003" y2="361.40" stroke="#000" stroke-width="1"/>
<line x1="47.2" y1="350.65" x2="49.2" y2="350.65" stroke="#000" stroke-width="1"/>
<line x1="277.1" y1="350.65" x2="275.1" y2="350.65" stroke="#000" stroke-width="1"/>
<line x1="47.2" y1="339.90" x2="51.400000000000006" y2="339.90" stroke="#000" stroke-width="1"/>
<line x1="277.1" y1="339.90" x2="272.90000000000003" y2="339.90" stroke="#000" stroke-width="1"/>
<line x1="47.2" y1="329.15" x2="49.2" y2="329.15" stroke="#000" stroke-width="1"/>
<line x1="277.1" y1="329.15" x2="275.1" y2="329.15" stroke="#000" stroke-width="1"/>
<line x1="47.2" y1="318.40" x2="51.400000000000006" y2="318.40" stroke="#000" stroke-width="1"/>
<line x1="277.1" y1="318.40" x2="272.90000000000003" y2="318.40" stroke="#000" stroke-width="1"/>
<line x1="47.2" y1="307.65" x2="49.2" y2="307.65" stroke="#000" stroke-width="1"/>
<line x1="277.1" y1="307.65" x2="275.1" y2="307.65" stroke="#000" stroke-width="1"/>
<line x1="47.2" y1="296.90" x2="51.400000000000006" y2="296.90" stroke="#000" stroke-width="1"/>
<line x1="277.1" y1="296.90" x2="272.90000000000003" y2="296.90" stroke="#000" stroke-width="1"/>
<line x1="47.2" y1="286.15" x2="49.2" y2="286.15" stroke="#000" stroke-width="1"/>
<line x1="277.1" y1="286.15" x2="275.1" y2="286.15" stroke="#000" stroke-width="1"/>
<line x1="47.2" y1="275.40" x2="51.400000000000006" y2="275.40" stroke="#000" stroke-width="1"/>
<line x1="277.1" y1="275.40" x2="272.90000000000003" y2="275.40" stroke="#000" stroke-width="1"/>
<text x="45.8" y="385.9" font-size="8.5" font-weight="bold" text-anchor="end" fill="#000" >0</text>
<text x="45.8" y="364.4" font-size="8.5" font-weight="bold" text-anchor="end" fill="#000" >10</text>
<text x="45.8" y="342.9" font-size="8.5" font-weight="bold" text-anchor="end" fill="#000" >20</text>
<text x="45.8" y="321.4" font-size="8.5" font-weight="bold" text-anchor="end" fill="#000" >30</text>
<text x="45.8" y="299.9" font-size="8.5" font-weight="bold" text-anchor="end" fill="#000" >40</text>
<text x="45.8" y="278.4" font-size="8.5" font-weight="bold" text-anchor="end" fill="#000" >50</text>
<line x1="58.12" y1="388.6" x2="58.12" y2="386.6" stroke="#000" stroke-width="1"/>
<line x1="58.12" y1="265.0" x2="58.12" y2="267.0" stroke="#000" stroke-width="1"/>
<line x1="69.06" y1="388.6" x2="69.06" y2="386.6" stroke="#000" stroke-width="1"/>
<line x1="69.06" y1="265.0" x2="69.06" y2="267.0" stroke="#000" stroke-width="1"/>
<line x1="80.00" y1="388.6" x2="80.00" y2="384.40000000000003" stroke="#000" stroke-width="1"/>
<line x1="80.00" y1="265.0" x2="80.00" y2="269.2" stroke="#000" stroke-width="1"/>
<line x1="90.94" y1="388.6" x2="90.94" y2="386.6" stroke="#000" stroke-width="1"/>
<line x1="90.94" y1="265.0" x2="90.94" y2="267.0" stroke="#000" stroke-width="1"/>
<line x1="101.88" y1="388.6" x2="101.88" y2="386.6" stroke="#000" stroke-width="1"/>
<line x1="101.88" y1="265.0" x2="101.88" y2="267.0" stroke="#000" stroke-width="1"/>
<line x1="112.81" y1="388.6" x2="112.81" y2="386.6" stroke="#000" stroke-width="1"/>
<line x1="112.81" y1="265.0" x2="112.81" y2="267.0" stroke="#000" stroke-width="1"/>
<line x1="123.75" y1="388.6" x2="123.75" y2="384.40000000000003" stroke="#000" stroke-width="1"/>
<line x1="123.75" y1="265.0" x2="123.75" y2="269.2" stroke="#000" stroke-width="1"/>
<line x1="134.69" y1="388.6" x2="134.69" y2="386.6" stroke="#000" stroke-width="1"/>
<line x1="134.69" y1="265.0" x2="134.69" y2="267.0" stroke="#000" stroke-width="1"/>
<line x1="145.62" y1="388.6" x2="145.62" y2="386.6" stroke="#000" stroke-width="1"/>
<line x1="145.62" y1="265.0" x2="145.62" y2="267.0" stroke="#000" stroke-width="1"/>
<line x1="156.56" y1="388.6" x2="156.56" y2="386.6" stroke="#000" stroke-width="1"/>
<line x1="156.56" y1="265.0" x2="156.56" y2="267.0" stroke="#000" stroke-width="1"/>
<line x1="167.50" y1="388.6" x2="167.50" y2="384.40000000000003" stroke="#000" stroke-width="1"/>
<line x1="167.50" y1="265.0" x2="167.50" y2="269.2" stroke="#000" stroke-width="1"/>
<line x1="178.44" y1="388.6" x2="178.44" y2="386.6" stroke="#000" stroke-width="1"/>
<line x1="178.44" y1="265.0" x2="178.44" y2="267.0" stroke="#000" stroke-width="1"/>
<line x1="189.38" y1="388.6" x2="189.38" y2="386.6" stroke="#000" stroke-width="1"/>
<line x1="189.38" y1="265.0" x2="189.38" y2="267.0" stroke="#000" stroke-width="1"/>
<line x1="200.31" y1="388.6" x2="200.31" y2="386.6" stroke="#000" stroke-width="1"/>
<line x1="200.31" y1="265.0" x2="200.31" y2="267.0" stroke="#000" stroke-width="1"/>
<line x1="211.25" y1="388.6" x2="211.25" y2="384.40000000000003" stroke="#000" stroke-width="1"/>
<line x1="211.25" y1="265.0" x2="211.25" y2="269.2" stroke="#000" stroke-width="1"/>
<line x1="222.19" y1="388.6" x2="222.19" y2="386.6" stroke="#000" stroke-width="1"/>
<line x1="222.19" y1="265.0" x2="222.19" y2="267.0" stroke="#000" stroke-width="1"/>
<line x1="233.12" y1="388.6" x2="233.12" y2="386.6" stroke="#000" stroke-width="1"/>
<line x1="233.12" y1="265.0" x2="233.12" y2="267.0" stroke="#000" stroke-width="1"/>
<line x1="244.06" y1="388.6" x2="244.06" y2="386.6" stroke="#000" stroke-width="1"/>
<line x1="244.06" y1="265.0" x2="244.06" y2="267.0" stroke="#000" stroke-width="1"/>
<line x1="255.00" y1="388.6" x2="255.00" y2="384.40000000000003" stroke="#000" stroke-width="1"/>
<line x1="255.00" y1="265.0" x2="255.00" y2="269.2" stroke="#000" stroke-width="1"/>
<line x1="265.94" y1="388.6" x2="265.94" y2="386.6" stroke="#000" stroke-width="1"/>
<line x1="265.94" y1="265.0" x2="265.94" y2="267.0" stroke="#000" stroke-width="1"/>
<text x="80.0" y="398.6" font-size="8.5" font-weight="bold" text-anchor="middle" fill="#000" >1.3</text>
<text x="123.7" y="398.6" font-size="8.5" font-weight="bold" text-anchor="middle" fill="#000" >1.4</text>
<text x="167.5" y="398.6" font-size="8.5" font-weight="bold" text-anchor="middle" fill="#000" >1.5</text>
<text x="211.3" y="398.6" font-size="8.5" font-weight="bold" text-anchor="middle" fill="#000" >1.6</text>
<text x="255.0" y="398.6" font-size="8.5" font-weight="bold" text-anchor="middle" fill="#000" >1.7</text>
<text x="162" y="407.5" font-size="8" font-weight="bold" text-anchor="middle">E (V <tspan font-style="italic">vs.</tspan> RHE)</text>
<text transform="translate(33,327) rotate(-90)" font-size="8.5" font-weight="bold" text-anchor="middle">j (mA cm<tspan dy="-3" font-size="6">-2</tspan><tspan dy="5" font-size="6" dx="-6">geo</tspan><tspan dy="-2">)</tspan></text>
<text x="85.3" y="300.6" font-size="8.3" font-weight="bold" text-anchor="end" fill="#111111" >20,000</text>
<text x="85.3" y="309.2" font-size="8.3" font-weight="bold" text-anchor="end" fill="#6a3424" >16,000</text>
<text x="85.3" y="317.8" font-size="8.3" font-weight="bold" text-anchor="end" fill="#4a4230" >12,000</text>
<text x="85.3" y="326.3" font-size="8.3" font-weight="bold" text-anchor="end" fill="#b9c24a" >8,000</text>
<text x="85.3" y="334.9" font-size="8.3" font-weight="bold" text-anchor="end" fill="#8a7340" >6,000</text>
<text x="85.3" y="343.5" font-size="8.3" font-weight="bold" text-anchor="end" fill="#f2de62" >4,000</text>
<text x="85.3" y="352.1" font-size="8.3" font-weight="bold" text-anchor="end" fill="#eeb36a" >2,000</text>
<text x="85.3" y="360.7" font-size="8.3" font-weight="bold" text-anchor="end" fill="#e2582a" >1,000</text>
<text x="85.3" y="369.2" font-size="8.3" font-weight="bold" text-anchor="end" fill="#c9322e" >500</text>
<text x="85.3" y="377.8" font-size="8.3" font-weight="bold" text-anchor="end" fill="#d3262f" >0</text>
<line x1="91.3" y1="375.5" x2="91.3" y2="299" stroke="#000" stroke-width="1"/>
<polygon points="91.3,294.5 89,300.5 93.6,300.5" fill="#000"/>
<text transform="translate(102.3,334) rotate(-90)" font-size="8.3" font-weight="bold" text-anchor="middle">Cycles</text>
<text x="98.3" y="288.2" font-size="9.8" font-weight="bold" fill="#5c2a20">Ni<tspan dy="-3.8" font-size="6.6">2+</tspan></text>
<line x1="117" y1="284.7" x2="122.5" y2="284.7" stroke="#000" stroke-width="1.6"/>
<polygon points="121.5,281.9 126.6,284.7 121.5,287.5" fill="#000"/>
<text x="131.6" y="288.2" font-size="9.8" font-weight="bold" fill="#5c2a20">Ni<tspan dy="-3.8" font-size="6.6">3+</tspan></text>
<text x="162.5" y="289.3" font-size="8.5" font-weight="bold" text-anchor="start" fill="#000" >1.0 M KOH</text>
<text x="162.5" y="299.3" font-size="8.5" font-weight="bold" text-anchor="start" fill="#000" >(Fe-free)</text>
<text x="162.5" y="311.8" font-size="8.5" font-weight="bold">5 mV s<tspan dy="-3" font-size="5.5">-1</tspan></text>
<text x="296.0" y="276.0" font-size="14.3" font-weight="bold" text-anchor="start" fill="#000" >g</text>
<rect x="316.60" y="282.98" width="8.4" height="105.42" fill="url(#gblue)" stroke="#5a6f94" stroke-width="0.5"/>
<rect x="326.50" y="383.71" width="8.4" height="4.69" fill="url(#gred)" stroke="#8a4a4a" stroke-width="0.5"/>
<path d="M320.80,280.78 V285.18 M318.80,280.78 H322.80 M318.80,285.18 H322.80" stroke="#000" stroke-width="0.9" fill="none"/>
<path d="M330.70,381.51 V385.91 M328.70,381.51 H332.70 M328.70,385.91 H332.70" stroke="#000" stroke-width="0.9" fill="none"/>
<text x="320.8" y="277.2" font-size="8" font-weight="bold" text-anchor="middle" fill="#000" >517</text>
<text x="330.7" y="378.9" font-size="8" font-weight="bold" text-anchor="middle" fill="#000" >23</text>
<text x="325.80" y="398" font-size="7.8" font-weight="bold" text-anchor="middle" textLength="3.9" lengthAdjust="spacingAndGlyphs">0</text>
<rect x="338.36" y="288.29" width="8.4" height="100.11" fill="url(#gblue)" stroke="#5a6f94" stroke-width="0.5"/>
<rect x="348.26" y="372.09" width="8.4" height="16.31" fill="url(#gred)" stroke="#8a4a4a" stroke-width="0.5"/>
<path d="M342.56,286.09 V290.49 M340.56,286.09 H344.56 M340.56,290.49 H344.56" stroke="#000" stroke-width="0.9" fill="none"/>
<path d="M352.46,369.89 V374.29 M350.46,369.89 H354.46 M350.46,374.29 H354.46" stroke="#000" stroke-width="0.9" fill="none"/>
<text x="342.6" y="282.7" font-size="8" font-weight="bold" text-anchor="middle" fill="#000" >491</text>
<text x="352.5" y="367.3" font-size="8" font-weight="bold" text-anchor="middle" fill="#000" >80</text>
<text x="347.56" y="398" font-size="7.8" font-weight="bold" text-anchor="middle" textLength="15.6" lengthAdjust="spacingAndGlyphs">1000</text>
<rect x="360.12" y="297.46" width="8.4" height="90.94" fill="url(#gblue)" stroke="#5a6f94" stroke-width="0.5"/>
<rect x="370.02" y="364.75" width="8.4" height="23.65" fill="url(#gred)" stroke="#8a4a4a" stroke-width="0.5"/>
<path d="M364.32,295.26 V299.66 M362.32,295.26 H366.32 M362.32,299.66 H366.32" stroke="#000" stroke-width="0.9" fill="none"/>
<path d="M374.22,362.55 V366.95 M372.22,362.55 H376.22 M372.22,366.95 H376.22" stroke="#000" stroke-width="0.9" fill="none"/>
<text x="364.3" y="291.6" font-size="8" font-weight="bold" text-anchor="middle" fill="#000" >446</text>
<text x="374.2" y="359.9" font-size="8" font-weight="bold" text-anchor="middle" fill="#000" >116</text>
<text x="369.32" y="398" font-size="7.8" font-weight="bold" text-anchor="middle" textLength="15.6" lengthAdjust="spacingAndGlyphs">2000</text>
<rect x="381.88" y="304.60" width="8.4" height="83.80" fill="url(#gblue)" stroke="#5a6f94" stroke-width="0.5"/>
<rect x="391.78" y="356.80" width="8.4" height="31.60" fill="url(#gred)" stroke="#8a4a4a" stroke-width="0.5"/>
<path d="M386.08,302.40 V306.80 M384.08,302.40 H388.08 M384.08,306.80 H388.08" stroke="#000" stroke-width="0.9" fill="none"/>
<path d="M395.98,354.60 V359.00 M393.98,354.60 H397.98 M393.98,359.00 H397.98" stroke="#000" stroke-width="0.9" fill="none"/>
<text x="386.1" y="298.8" font-size="8" font-weight="bold" text-anchor="middle" fill="#000" >411</text>
<text x="396.0" y="352.0" font-size="8" font-weight="bold" text-anchor="middle" fill="#000" >155</text>
<text x="391.08" y="398" font-size="7.8" font-weight="bold" text-anchor="middle" textLength="15.6" lengthAdjust="spacingAndGlyphs">4000</text>
<rect x="403.64" y="306.23" width="8.4" height="82.17" fill="url(#gblue)" stroke="#5a6f94" stroke-width="0.5"/>
<rect x="413.54" y="356.59" width="8.4" height="31.81" fill="url(#gred)" stroke="#8a4a4a" stroke-width="0.5"/>
<path d="M407.84,304.03 V308.43 M405.84,304.03 H409.84 M405.84,308.43 H409.84" stroke="#000" stroke-width="0.9" fill="none"/>
<path d="M417.74,354.39 V358.79 M415.74,354.39 H419.74 M415.74,358.79 H419.74" stroke="#000" stroke-width="0.9" fill="none"/>
<text x="407.8" y="300.6" font-size="8" font-weight="bold" text-anchor="middle" fill="#000" >403</text>
<text x="417.7" y="351.8" font-size="8" font-weight="bold" text-anchor="middle" fill="#000" >156</text>
<text x="412.84" y="398" font-size="7.8" font-weight="bold" text-anchor="middle" textLength="15.6" lengthAdjust="spacingAndGlyphs">6000</text>
<rect x="425.40" y="307.66" width="8.4" height="80.74" fill="url(#gblue)" stroke="#5a6f94" stroke-width="0.5"/>
<rect x="435.30" y="349.05" width="8.4" height="39.35" fill="url(#gred)" stroke="#8a4a4a" stroke-width="0.5"/>
<path d="M429.60,305.46 V309.86 M427.60,305.46 H431.60 M427.60,309.86 H431.60" stroke="#000" stroke-width="0.9" fill="none"/>
<path d="M439.50,346.85 V351.25 M437.50,346.85 H441.50 M437.50,351.25 H441.50" stroke="#000" stroke-width="0.9" fill="none"/>
<text x="429.6" y="302.0" font-size="8" font-weight="bold" text-anchor="middle" fill="#000" >396</text>
<text x="439.5" y="344.2" font-size="8" font-weight="bold" text-anchor="middle" fill="#000" >193</text>
<text x="434.60" y="398" font-size="7.8" font-weight="bold" text-anchor="middle" textLength="15.6" lengthAdjust="spacingAndGlyphs">8000</text>
<rect x="447.16" y="307.45" width="8.4" height="80.95" fill="url(#gblue)" stroke="#5a6f94" stroke-width="0.5"/>
<rect x="457.06" y="346.80" width="8.4" height="41.60" fill="url(#gred)" stroke="#8a4a4a" stroke-width="0.5"/>
<path d="M451.36,305.25 V309.65 M449.36,305.25 H453.36 M449.36,309.65 H453.36" stroke="#000" stroke-width="0.9" fill="none"/>
<path d="M461.26,344.60 V349.00 M459.26,344.60 H463.26 M459.26,349.00 H463.26" stroke="#000" stroke-width="0.9" fill="none"/>
<text x="451.4" y="301.6" font-size="8" font-weight="bold" text-anchor="middle" fill="#000" >397</text>
<text x="461.3" y="342.0" font-size="8" font-weight="bold" text-anchor="middle" fill="#000" >204</text>
<text x="456.36" y="398" font-size="7.8" font-weight="bold" text-anchor="middle" textLength="19.6" lengthAdjust="spacingAndGlyphs">12000</text>
<rect x="468.92" y="306.64" width="8.4" height="81.76" fill="url(#gblue)" stroke="#5a6f94" stroke-width="0.5"/>
<rect x="478.82" y="350.68" width="8.4" height="37.72" fill="url(#gred)" stroke="#8a4a4a" stroke-width="0.5"/>
<path d="M473.12,304.44 V308.84 M471.12,304.44 H475.12 M471.12,308.84 H475.12" stroke="#000" stroke-width="0.9" fill="none"/>
<path d="M483.02,348.48 V352.88 M481.02,348.48 H485.02 M481.02,352.88 H485.02" stroke="#000" stroke-width="0.9" fill="none"/>
<text x="473.1" y="301.2" font-size="8" font-weight="bold" text-anchor="middle" fill="#000" >401</text>
<text x="483.0" y="345.9" font-size="8" font-weight="bold" text-anchor="middle" fill="#000" >185</text>
<text x="478.12" y="398" font-size="7.8" font-weight="bold" text-anchor="middle" textLength="19.6" lengthAdjust="spacingAndGlyphs">16000</text>
<rect x="490.68" y="307.25" width="8.4" height="81.15" fill="url(#gblue)" stroke="#5a6f94" stroke-width="0.5"/>
<rect x="500.58" y="346.80" width="8.4" height="41.60" fill="url(#gred)" stroke="#8a4a4a" stroke-width="0.5"/>
<path d="M494.88,305.05 V309.45 M492.88,305.05 H496.88 M492.88,309.45 H496.88" stroke="#000" stroke-width="0.9" fill="none"/>
<path d="M504.78,344.60 V349.00 M502.78,344.60 H506.78 M502.78,349.00 H506.78" stroke="#000" stroke-width="0.9" fill="none"/>
<text x="494.9" y="301.8" font-size="8" font-weight="bold" text-anchor="middle" fill="#000" >398</text>
<text x="504.8" y="342.0" font-size="8" font-weight="bold" text-anchor="middle" fill="#000" >204</text>
<text x="499.88" y="398" font-size="7.8" font-weight="bold" text-anchor="middle" textLength="19.6" lengthAdjust="spacingAndGlyphs">20000</text>
<rect x="313.2" y="264.6" width="199.90000000000003" height="123.79999999999995" fill="none" stroke="#000" stroke-width="1.3"/>
<line x1="325.75" y1="388.4" x2="325.75" y2="385.9" stroke="#000" stroke-width="1"/>
<line x1="347.51" y1="388.4" x2="347.51" y2="385.9" stroke="#000" stroke-width="1"/>
<line x1="369.27" y1="388.4" x2="369.27" y2="385.9" stroke="#000" stroke-width="1"/>
<line x1="391.03" y1="388.4" x2="391.03" y2="385.9" stroke="#000" stroke-width="1"/>
<line x1="412.79" y1="388.4" x2="412.79" y2="385.9" stroke="#000" stroke-width="1"/>
<line x1="434.55" y1="388.4" x2="434.55" y2="385.9" stroke="#000" stroke-width="1"/>
<line x1="456.31" y1="388.4" x2="456.31" y2="385.9" stroke="#000" stroke-width="1"/>
<line x1="478.07" y1="388.4" x2="478.07" y2="385.9" stroke="#000" stroke-width="1"/>
<line x1="499.83" y1="388.4" x2="499.83" y2="385.9" stroke="#000" stroke-width="1"/>
<text x="413.0" y="409.0" font-size="9.6" font-weight="bold" text-anchor="middle" fill="#000" >Number of CV cycles</text>
<rect x="403" y="267.3" width="18" height="8.8" fill="url(#gblue)" stroke="#5a6f94" stroke-width="0.6"/>
<rect x="403" y="280.5" width="18" height="8.8" fill="url(#gred)" stroke="#8a4a4a" stroke-width="0.6"/>
<text x="424" y="274.8" font-size="8.3" font-weight="bold"><tspan font-style="italic" font-weight="normal" style="font-family:'Liberation Serif',serif">η</tspan> (mV) @ 50 mA cm<tspan dy="-3.5" font-size="5.5">-2</tspan><tspan dy="5.5" dx="-5" font-size="5.5">geo</tspan></text>
<text x="424" y="288" font-size="8.3" font-weight="bold">Charge (mC cm<tspan dy="-3" font-size="5.5">-2</tspan><tspan dy="3">)</tspan></text>
<text x="23.5" y="431.5" font-size="14.3" font-weight="bold" text-anchor="start" fill="#000" >h</text>
<rect x="39.8" y="421" width="472" height="90.5" fill="#6c97e4"/>
<g clip-path="url(#ch0)"><g filter="url(#gsoft)"><polygon points="41.3,433.6 65.3,433.6 67.3,447.2 78.1,471.0 74.3,467.6 61.3,464.6 49.3,467.6 41.3,467.6" fill="rgb(139,139,139)"/><polygon points="65.3,433.6 136.3,433.6 136.3,451.0 118.8,456.5 95.2,464.6 78.1,471.0 67.3,447.2" fill="rgb(95,95,95)"/><polygon points="49.3,467.6 61.3,464.6 74.3,467.6 78.1,471.0 74.3,479.6 59.3,480.6 49.3,478.6" fill="rgb(160,160,160)"/><polygon points="41.3,467.6 49.3,467.6 49.3,478.6 59.3,480.6 74.3,479.6 75.0,511.6 41.3,511.6" fill="rgb(60,60,60)"/><polygon points="78.1,471.0 95.2,464.6 118.8,456.5 136.3,451.0 136.3,511.6 75.0,511.6 74.3,479.6" fill="rgb(101,101,101)"/></g><g filter="url(#hblur)" opacity="0.55"><rect x="29.67" y="420.85" width="12.13" height="13.25" fill="rgb(163,163,163)"/><rect x="41.30" y="420.85" width="12.13" height="13.25" fill="rgb(163,163,163)"/><rect x="52.92" y="420.85" width="12.13" height="13.25" fill="rgb(142,142,142)"/><rect x="64.55" y="420.85" width="12.13" height="13.25" fill="rgb(93,93,93)"/><rect x="76.18" y="420.85" width="12.13" height="13.25" fill="rgb(79,79,79)"/><rect x="87.80" y="420.85" width="12.13" height="13.25" fill="rgb(93,93,93)"/><rect x="99.43" y="420.85" width="12.13" height="13.25" fill="rgb(107,107,107)"/><rect x="111.05" y="420.85" width="12.13" height="13.25" fill="rgb(135,135,135)"/><rect x="122.68" y="420.85" width="12.13" height="13.25" fill="rgb(170,170,170)"/><rect x="134.30" y="420.85" width="12.13" height="13.25" fill="rgb(170,170,170)"/><rect x="29.67" y="433.60" width="12.13" height="13.25" fill="rgb(163,163,163)"/><rect x="41.30" y="433.60" width="12.13" height="13.25" fill="rgb(163,163,163)"/><rect x="52.92" y="433.60" width="12.13" height="13.25" fill="rgb(142,142,142)"/><rect x="64.55" y="433.60" width="12.13" height="13.25" fill="rgb(93,93,93)"/><rect x="76.18" y="433.60" width="12.13" height="13.25" fill="rgb(79,79,79)"/><rect x="87.80" y="433.60" width="12.13" height="13.25" fill="rgb(93,93,93)"/><rect x="99.43" y="433.60" width="12.13" height="13.25" fill="rgb(107,107,107)"/><rect x="111.05" y="433.60" width="12.13" height="13.25" fill="rgb(135,135,135)"/><rect x="122.68" y="433.60" width="12.13" height="13.25" fill="rgb(170,170,170)"/><rect x="134.30" y="433.60" width="12.13" height="13.25" fill="rgb(170,170,170)"/><rect x="29.67" y="446.35" width="12.13" height="13.25" fill="rgb(114,114,114)"/><rect x="41.30" y="446.35" width="12.13" height="13.25" fill="rgb(114,114,114)"/><rect x="52.92" y="446.35" width="12.13" height="13.25" fill="rgb(86,86,86)"/><rect x="64.55" y="446.35" width="12.13" height="13.25" fill="rgb(100,100,100)"/><rect x="76.18" y="446.35" width="12.13" height="13.25" fill="rgb(121,121,121)"/><rect x="87.80" y="446.35" width="12.13" height="13.25" fill="rgb(107,107,107)"/><rect x="99.43" y="446.35" width="12.13" height="13.25" fill="rgb(100,100,100)"/><rect x="111.05" y="446.35" width="12.13" height="13.25" fill="rgb(128,128,128)"/><rect x="122.68" y="446.35" width="12.13" height="13.25" fill="rgb(156,156,156)"/><rect x="134.30" y="446.35" width="12.13" height="13.25" fill="rgb(156,156,156)"/><rect x="29.67" y="459.10" width="12.13" height="13.25" fill="rgb(100,100,100)"/><rect x="41.30" y="459.10" width="12.13" height="13.25" fill="rgb(100,100,100)"/><rect x="52.92" y="459.10" width="12.13" height="13.25" fill="rgb(142,142,142)"/><rect x="64.55" y="459.10" width="12.13" height="13.25" fill="rgb(135,135,135)"/><rect x="76.18" y="459.10" width="12.13" height="13.25" fill="rgb(86,86,86)"/><rect x="87.80" y="459.10" width="12.13" height="13.25" fill="rgb(114,114,114)"/><rect x="99.43" y="459.10" width="12.13" height="13.25" fill="rgb(114,114,114)"/><rect x="111.05" y="459.10" width="12.13" height="13.25" fill="rgb(121,121,121)"/><rect x="122.68" y="459.10" width="12.13" height="13.25" fill="rgb(142,142,142)"/><rect x="134.30" y="459.10" width="12.13" height="13.25" fill="rgb(142,142,142)"/><rect x="29.67" y="471.85" width="12.13" height="13.25" fill="rgb(65,65,65)"/><rect x="41.30" y="471.85" width="12.13" height="13.25" fill="rgb(65,65,65)"/><rect x="52.92" y="471.85" width="12.13" height="13.25" fill="rgb(100,100,100)"/><rect x="64.55" y="471.85" width="12.13" height="13.25" fill="rgb(114,114,114)"/><rect x="76.18" y="471.85" width="12.13" height="13.25" fill="rgb(79,79,79)"/><rect x="87.80" y="471.85" width="12.13" height="13.25" fill="rgb(107,107,107)"/><rect x="99.43" y="471.85" width="12.13" height="13.25" fill="rgb(107,107,107)"/><rect x="111.05" y="471.85" width="12.13" height="13.25" fill="rgb(114,114,114)"/><rect x="122.68" y="471.85" width="12.13" height="13.25" fill="rgb(135,135,135)"/><rect x="134.30" y="471.85" width="12.13" height="13.25" fill="rgb(135,135,135)"/><rect x="29.67" y="484.60" width="12.13" height="13.25" fill="rgb(86,86,86)"/><rect x="41.30" y="484.60" width="12.13" height="13.25" fill="rgb(86,86,86)"/><rect x="52.92" y="484.60" width="12.13" height="13.25" fill="rgb(72,72,72)"/><rect x="64.55" y="484.60" width="12.13" height="13.25" fill="rgb(86,86,86)"/><rect x="76.18" y="484.60" width="12.13" height="13.25" fill="rgb(93,93,93)"/><rect x="87.80" y="484.60" width="12.13" height="13.25" fill="rgb(100,100,100)"/><rect x="99.43" y="484.60" width="12.13" height="13.25" fill="rgb(86,86,86)"/><rect x="111.05" y="484.60" width="12.13" height="13.25" fill="rgb(93,93,93)"/><rect x="122.68" y="484.60" width="12.13" height="13.25" fill="rgb(114,114,114)"/><rect x="134.30" y="484.60" width="12.13" height="13.25" fill="rgb(114,114,114)"/><rect x="29.67" y="497.35" width="12.13" height="13.25" fill="rgb(100,100,100)"/><rect x="41.30" y="497.35" width="12.13" height="13.25" fill="rgb(100,100,100)"/><rect x="52.92" y="497.35" width="12.13" height="13.25" fill="rgb(86,86,86)"/><rect x="64.55" y="497.35" width="12.13" height="13.25" fill="rgb(86,86,86)"/><rect x="76.18" y="497.35" width="12.13" height="13.25" fill="rgb(93,93,93)"/><rect x="87.80" y="497.35" width="12.13" height="13.25" fill="rgb(86,86,86)"/><rect x="99.43" y="497.35" width="12.13" height="13.25" fill="rgb(65,65,65)"/><rect x="111.05" y="497.35" width="12.13" height="13.25" fill="rgb(51,51,51)"/><rect x="122.68" y="497.35" width="12.13" height="13.25" fill="rgb(107,107,107)"/><rect x="134.30" y="497.35" width="12.13" height="13.25" fill="rgb(107,107,107)"/><rect x="29.67" y="510.10" width="12.13" height="13.25" fill="rgb(100,100,100)"/><rect x="41.30" y="510.10" width="12.13" height="13.25" fill="rgb(100,100,100)"/><rect x="52.92" y="510.10" width="12.13" height="13.25" fill="rgb(86,86,86)"/><rect x="64.55" y="510.10" width="12.13" height="13.25" fill="rgb(86,86,86)"/><rect x="76.18" y="510.10" width="12.13" height="13.25" fill="rgb(93,93,93)"/><rect x="87.80" y="510.10" width="12.13" height="13.25" fill="rgb(86,86,86)"/><rect x="99.43" y="510.10" width="12.13" height="13.25" fill="rgb(65,65,65)"/><rect x="111.05" y="510.10" width="12.13" height="13.25" fill="rgb(51,51,51)"/><rect x="122.68" y="510.10" width="12.13" height="13.25" fill="rgb(107,107,107)"/><rect x="134.30" y="510.10" width="12.13" height="13.25" fill="rgb(107,107,107)"/></g><path d="M65.3,433.6 L67.3,447.2 L78.1,471.0 L95.2,464.6 L118.8,456.5 L136.3,451.0 M78.1,471.0 L74.3,479.6 L75.0,511.6 M49.3,467.6 L61.3,464.6 L74.3,467.6 L78.1,471.0" stroke="#2e2e2e" stroke-width="2" fill="none" opacity="0.6" filter="url(#bblur)"/><ellipse cx="60.3" cy="473.6" rx="2.5" ry="1.8" fill="#f0f0f0" opacity="0.45" filter="url(#lblur)"/><rect x="41.3" y="433.6" width="93.00" height="76.50" fill="#fff" filter="url(#nh0)" opacity="0.13"/><rect x="41.8" y="434.1" width="92.00" height="75.50" fill="none" stroke="#e4e4e4" stroke-width="2.2" opacity="0.55" filter="url(#lblur)"/></g>
<text x="87.8" y="431.6" font-size="10.3" font-weight="bold" text-anchor="middle" fill="#000" stroke="#fff" stroke-width="2" paint-order="stroke" stroke-linejoin="round">0 CV</text>
<g clip-path="url(#ch1)"><g filter="url(#gsoft)"><polygon points="136.3,433.6 160.3,433.6 162.3,447.2 173.1,471.0 169.3,467.6 156.3,464.6 144.3,467.6 136.3,467.6" fill="rgb(108,108,108)"/><polygon points="160.3,433.6 231.3,433.6 231.3,451.0 213.8,456.5 190.2,464.6 173.1,471.0 162.3,447.2" fill="rgb(79,79,79)"/><polygon points="144.3,467.6 156.3,464.6 169.3,467.6 173.1,471.0 169.3,479.6 154.3,480.6 144.3,478.6" fill="rgb(127,127,127)"/><polygon points="136.3,467.6 144.3,467.6 144.3,478.6 154.3,480.6 169.3,479.6 170.0,511.6 136.3,511.6" fill="rgb(52,52,52)"/><polygon points="173.1,471.0 190.2,464.6 213.8,456.5 231.3,451.0 231.3,511.6 170.0,511.6 169.3,479.6" fill="rgb(81,81,81)"/></g><g filter="url(#hblur)" opacity="0.55"><rect x="124.86" y="420.85" width="11.94" height="13.25" fill="rgb(141,141,141)"/><rect x="136.30" y="420.85" width="11.94" height="13.25" fill="rgb(141,141,141)"/><rect x="147.74" y="420.85" width="11.94" height="13.25" fill="rgb(96,96,96)"/><rect x="159.18" y="420.85" width="11.94" height="13.25" fill="rgb(66,66,66)"/><rect x="170.61" y="420.85" width="11.94" height="13.25" fill="rgb(66,66,66)"/><rect x="182.05" y="420.85" width="11.94" height="13.25" fill="rgb(59,59,59)"/><rect x="193.49" y="420.85" width="11.94" height="13.25" fill="rgb(66,66,66)"/><rect x="204.93" y="420.85" width="11.94" height="13.25" fill="rgb(89,89,89)"/><rect x="216.36" y="420.85" width="11.94" height="13.25" fill="rgb(126,126,126)"/><rect x="227.80" y="420.85" width="11.94" height="13.25" fill="rgb(126,126,126)"/><rect x="124.86" y="433.60" width="11.94" height="13.25" fill="rgb(141,141,141)"/><rect x="136.30" y="433.60" width="11.94" height="13.25" fill="rgb(141,141,141)"/><rect x="147.74" y="433.60" width="11.94" height="13.25" fill="rgb(96,96,96)"/><rect x="159.18" y="433.60" width="11.94" height="13.25" fill="rgb(66,66,66)"/><rect x="170.61" y="433.60" width="11.94" height="13.25" fill="rgb(66,66,66)"/><rect x="182.05" y="433.60" width="11.94" height="13.25" fill="rgb(59,59,59)"/><rect x="193.49" y="433.60" width="11.94" height="13.25" fill="rgb(66,66,66)"/><rect x="204.93" y="433.60" width="11.94" height="13.25" fill="rgb(89,89,89)"/><rect x="216.36" y="433.60" width="11.94" height="13.25" fill="rgb(126,126,126)"/><rect x="227.80" y="433.60" width="11.94" height="13.25" fill="rgb(126,126,126)"/><rect x="124.86" y="446.35" width="11.94" height="13.25" fill="rgb(96,96,96)"/><rect x="136.30" y="446.35" width="11.94" height="13.25" fill="rgb(96,96,96)"/><rect x="147.74" y="446.35" width="11.94" height="13.25" fill="rgb(66,66,66)"/><rect x="159.18" y="446.35" width="11.94" height="13.25" fill="rgb(59,59,59)"/><rect x="170.61" y="446.35" width="11.94" height="13.25" fill="rgb(66,66,66)"/><rect x="182.05" y="446.35" width="11.94" height="13.25" fill="rgb(74,74,74)"/><rect x="193.49" y="446.35" width="11.94" height="13.25" fill="rgb(74,74,74)"/><rect x="204.93" y="446.35" width="11.94" height="13.25" fill="rgb(81,81,81)"/><rect x="216.36" y="446.35" width="11.94" height="13.25" fill="rgb(111,111,111)"/><rect x="227.80" y="446.35" width="11.94" height="13.25" fill="rgb(111,111,111)"/><rect x="124.86" y="459.10" width="11.94" height="13.25" fill="rgb(89,89,89)"/><rect x="136.30" y="459.10" width="11.94" height="13.25" fill="rgb(89,89,89)"/><rect x="147.74" y="459.10" width="11.94" height="13.25" fill="rgb(96,96,96)"/><rect x="159.18" y="459.10" width="11.94" height="13.25" fill="rgb(104,104,104)"/><rect x="170.61" y="459.10" width="11.94" height="13.25" fill="rgb(59,59,59)"/><rect x="182.05" y="459.10" width="11.94" height="13.25" fill="rgb(66,66,66)"/><rect x="193.49" y="459.10" width="11.94" height="13.25" fill="rgb(74,74,74)"/><rect x="204.93" y="459.10" width="11.94" height="13.25" fill="rgb(81,81,81)"/><rect x="216.36" y="459.10" width="11.94" height="13.25" fill="rgb(104,104,104)"/><rect x="227.80" y="459.10" width="11.94" height="13.25" fill="rgb(104,104,104)"/><rect x="124.86" y="471.85" width="11.94" height="13.25" fill="rgb(74,74,74)"/><rect x="136.30" y="471.85" width="11.94" height="13.25" fill="rgb(74,74,74)"/><rect x="147.74" y="471.85" width="11.94" height="13.25" fill="rgb(44,44,44)"/><rect x="159.18" y="471.85" width="11.94" height="13.25" fill="rgb(81,81,81)"/><rect x="170.61" y="471.85" width="11.94" height="13.25" fill="rgb(66,66,66)"/><rect x="182.05" y="471.85" width="11.94" height="13.25" fill="rgb(59,59,59)"/><rect x="193.49" y="471.85" width="11.94" height="13.25" fill="rgb(66,66,66)"/><rect x="204.93" y="471.85" width="11.94" height="13.25" fill="rgb(74,74,74)"/><rect x="216.36" y="471.85" width="11.94" height="13.25" fill="rgb(96,96,96)"/><rect x="227.80" y="471.85" width="11.94" height="13.25" fill="rgb(96,96,96)"/><rect x="124.86" y="484.60" width="11.94" height="13.25" fill="rgb(81,81,81)"/><rect x="136.30" y="484.60" width="11.94" height="13.25" fill="rgb(81,81,81)"/><rect x="147.74" y="484.60" width="11.94" height="13.25" fill="rgb(59,59,59)"/><rect x="159.18" y="484.60" width="11.94" height="13.25" fill="rgb(51,51,51)"/><rect x="170.61" y="484.60" width="11.94" height="13.25" fill="rgb(59,59,59)"/><rect x="182.05" y="484.60" width="11.94" height="13.25" fill="rgb(66,66,66)"/><rect x="193.49" y="484.60" width="11.94" height="13.25" fill="rgb(59,59,59)"/><rect x="204.93" y="484.60" width="11.94" height="13.25" fill="rgb(36,36,36)"/><rect x="216.36" y="484.60" width="11.94" height="13.25" fill="rgb(89,89,89)"/><rect x="227.80" y="484.60" width="11.94" height="13.25" fill="rgb(89,89,89)"/><rect x="124.86" y="497.35" width="11.94" height="13.25" fill="rgb(89,89,89)"/><rect x="136.30" y="497.35" width="11.94" height="13.25" fill="rgb(89,89,89)"/><rect x="147.74" y="497.35" width="11.94" height="13.25" fill="rgb(74,74,74)"/><rect x="159.18" y="497.35" width="11.94" height="13.25" fill="rgb(66,66,66)"/><rect x="170.61" y="497.35" width="11.94" height="13.25" fill="rgb(74,74,74)"/><rect x="182.05" y="497.35" width="11.94" height="13.25" fill="rgb(66,66,66)"/><rect x="193.49" y="497.35" width="11.94" height="13.25" fill="rgb(59,59,59)"/><rect x="204.93" y="497.35" width="11.94" height="13.25" fill="rgb(51,51,51)"/><rect x="216.36" y="497.35" width="11.94" height="13.25" fill="rgb(96,96,96)"/><rect x="227.80" y="497.35" width="11.94" height="13.25" fill="rgb(96,96,96)"/><rect x="124.86" y="510.10" width="11.94" height="13.25" fill="rgb(89,89,89)"/><rect x="136.30" y="510.10" width="11.94" height="13.25" fill="rgb(89,89,89)"/><rect x="147.74" y="510.10" width="11.94" height="13.25" fill="rgb(74,74,74)"/><rect x="159.18" y="510.10" width="11.94" height="13.25" fill="rgb(66,66,66)"/><rect x="170.61" y="510.10" width="11.94" height="13.25" fill="rgb(74,74,74)"/><rect x="182.05" y="510.10" width="11.94" height="13.25" fill="rgb(66,66,66)"/><rect x="193.49" y="510.10" width="11.94" height="13.25" fill="rgb(59,59,59)"/><rect x="204.93" y="510.10" width="11.94" height="13.25" fill="rgb(51,51,51)"/><rect x="216.36" y="510.10" width="11.94" height="13.25" fill="rgb(96,96,96)"/><rect x="227.80" y="510.10" width="11.94" height="13.25" fill="rgb(96,96,96)"/></g><path d="M160.3,433.6 L162.3,447.2 L173.1,471.0 L190.2,464.6 L213.8,456.5 L231.3,451.0 M173.1,471.0 L169.3,479.6 L170.0,511.6 M144.3,467.6 L156.3,464.6 L169.3,467.6 L173.1,471.0" stroke="#2e2e2e" stroke-width="2" fill="none" opacity="0.6" filter="url(#bblur)"/><ellipse cx="155.3" cy="473.6" rx="2.5" ry="1.8" fill="#f0f0f0" opacity="0.45" filter="url(#lblur)"/><rect x="136.3" y="433.6" width="91.50" height="76.50" fill="#fff" filter="url(#nh1)" opacity="0.13"/><rect x="136.8" y="434.1" width="90.50" height="75.50" fill="none" stroke="#e4e4e4" stroke-width="2.2" opacity="0.55" filter="url(#lblur)"/></g>
<text x="182.1" y="431.6" font-size="10.3" font-weight="bold" text-anchor="middle" fill="#000" stroke="#fff" stroke-width="2" paint-order="stroke" stroke-linejoin="round">4,000 CV</text>
<g clip-path="url(#ch2)"><g filter="url(#gsoft)"><polygon points="229.8,433.6 253.8,433.6 255.8,447.2 266.6,471.0 262.8,467.6 249.8,464.6 237.8,467.6 229.8,467.6" fill="rgb(142,142,142)"/><polygon points="253.8,433.6 324.8,433.6 324.8,451.0 307.3,456.5 283.7,464.6 266.6,471.0 255.8,447.2" fill="rgb(123,123,123)"/><polygon points="237.8,467.6 249.8,464.6 262.8,467.6 266.6,471.0 262.8,479.6 247.8,480.6 237.8,478.6" fill="rgb(145,145,145)"/><polygon points="229.8,467.6 237.8,467.6 237.8,478.6 247.8,480.6 262.8,479.6 263.5,511.6 229.8,511.6" fill="rgb(99,99,99)"/><polygon points="266.6,471.0 283.7,464.6 307.3,456.5 324.8,451.0 324.8,511.6 263.5,511.6 262.8,479.6" fill="rgb(115,115,115)"/></g><g filter="url(#hblur)" opacity="0.55"><rect x="218.24" y="420.85" width="12.06" height="13.25" fill="rgb(153,153,153)"/><rect x="229.80" y="420.85" width="12.06" height="13.25" fill="rgb(153,153,153)"/><rect x="241.36" y="420.85" width="12.06" height="13.25" fill="rgb(133,133,133)"/><rect x="252.93" y="420.85" width="12.06" height="13.25" fill="rgb(127,127,127)"/><rect x="264.49" y="420.85" width="12.06" height="13.25" fill="rgb(133,133,133)"/><rect x="276.05" y="420.85" width="12.06" height="13.25" fill="rgb(140,140,140)"/><rect x="287.61" y="420.85" width="12.06" height="13.25" fill="rgb(146,146,146)"/><rect x="299.18" y="420.85" width="12.06" height="13.25" fill="rgb(153,153,153)"/><rect x="310.74" y="420.85" width="12.06" height="13.25" fill="rgb(166,166,166)"/><rect x="322.30" y="420.85" width="12.06" height="13.25" fill="rgb(166,166,166)"/><rect x="218.24" y="433.60" width="12.06" height="13.25" fill="rgb(153,153,153)"/><rect x="229.80" y="433.60" width="12.06" height="13.25" fill="rgb(153,153,153)"/><rect x="241.36" y="433.60" width="12.06" height="13.25" fill="rgb(133,133,133)"/><rect x="252.93" y="433.60" width="12.06" height="13.25" fill="rgb(127,127,127)"/><rect x="264.49" y="433.60" width="12.06" height="13.25" fill="rgb(133,133,133)"/><rect x="276.05" y="433.60" width="12.06" height="13.25" fill="rgb(140,140,140)"/><rect x="287.61" y="433.60" width="12.06" height="13.25" fill="rgb(146,146,146)"/><rect x="299.18" y="433.60" width="12.06" height="13.25" fill="rgb(153,153,153)"/><rect x="310.74" y="433.60" width="12.06" height="13.25" fill="rgb(166,166,166)"/><rect x="322.30" y="433.60" width="12.06" height="13.25" fill="rgb(166,166,166)"/><rect x="218.24" y="446.35" width="12.06" height="13.25" fill="rgb(127,127,127)"/><rect x="229.80" y="446.35" width="12.06" height="13.25" fill="rgb(127,127,127)"/><rect x="241.36" y="446.35" width="12.06" height="13.25" fill="rgb(120,120,120)"/><rect x="252.93" y="446.35" width="12.06" height="13.25" fill="rgb(127,127,127)"/><rect x="264.49" y="446.35" width="12.06" height="13.25" fill="rgb(133,133,133)"/><rect x="276.05" y="446.35" width="12.06" height="13.25" fill="rgb(127,127,127)"/><rect x="287.61" y="446.35" width="12.06" height="13.25" fill="rgb(133,133,133)"/><rect x="299.18" y="446.35" width="12.06" height="13.25" fill="rgb(140,140,140)"/><rect x="310.74" y="446.35" width="12.06" height="13.25" fill="rgb(153,153,153)"/><rect x="322.30" y="446.35" width="12.06" height="13.25" fill="rgb(153,153,153)"/><rect x="218.24" y="459.10" width="12.06" height="13.25" fill="rgb(133,133,133)"/><rect x="229.80" y="459.10" width="12.06" height="13.25" fill="rgb(133,133,133)"/><rect x="241.36" y="459.10" width="12.06" height="13.25" fill="rgb(120,120,120)"/><rect x="252.93" y="459.10" width="12.06" height="13.25" fill="rgb(127,127,127)"/><rect x="264.49" y="459.10" width="12.06" height="13.25" fill="rgb(107,107,107)"/><rect x="276.05" y="459.10" width="12.06" height="13.25" fill="rgb(120,120,120)"/><rect x="287.61" y="459.10" width="12.06" height="13.25" fill="rgb(127,127,127)"/><rect x="299.18" y="459.10" width="12.06" height="13.25" fill="rgb(133,133,133)"/><rect x="310.74" y="459.10" width="12.06" height="13.25" fill="rgb(146,146,146)"/><rect x="322.30" y="459.10" width="12.06" height="13.25" fill="rgb(146,146,146)"/><rect x="218.24" y="471.85" width="12.06" height="13.25" fill="rgb(120,120,120)"/><rect x="229.80" y="471.85" width="12.06" height="13.25" fill="rgb(120,120,120)"/><rect x="241.36" y="471.85" width="12.06" height="13.25" fill="rgb(107,107,107)"/><rect x="252.93" y="471.85" width="12.06" height="13.25" fill="rgb(114,114,114)"/><rect x="264.49" y="471.85" width="12.06" height="13.25" fill="rgb(114,114,114)"/><rect x="276.05" y="471.85" width="12.06" height="13.25" fill="rgb(120,120,120)"/><rect x="287.61" y="471.85" width="12.06" height="13.25" fill="rgb(120,120,120)"/><rect x="299.18" y="471.85" width="12.06" height="13.25" fill="rgb(127,127,127)"/><rect x="310.74" y="471.85" width="12.06" height="13.25" fill="rgb(140,140,140)"/><rect x="322.30" y="471.85" width="12.06" height="13.25" fill="rgb(140,140,140)"/><rect x="218.24" y="484.60" width="12.06" height="13.25" fill="rgb(114,114,114)"/><rect x="229.80" y="484.60" width="12.06" height="13.25" fill="rgb(114,114,114)"/><rect x="241.36" y="484.60" width="12.06" height="13.25" fill="rgb(101,101,101)"/><rect x="252.93" y="484.60" width="12.06" height="13.25" fill="rgb(107,107,107)"/><rect x="264.49" y="484.60" width="12.06" height="13.25" fill="rgb(114,114,114)"/><rect x="276.05" y="484.60" width="12.06" height="13.25" fill="rgb(107,107,107)"/><rect x="287.61" y="484.60" width="12.06" height="13.25" fill="rgb(101,101,101)"/><rect x="299.18" y="484.60" width="12.06" height="13.25" fill="rgb(107,107,107)"/><rect x="310.74" y="484.60" width="12.06" height="13.25" fill="rgb(133,133,133)"/><rect x="322.30" y="484.60" width="12.06" height="13.25" fill="rgb(133,133,133)"/><rect x="218.24" y="497.35" width="12.06" height="13.25" fill="rgb(120,120,120)"/><rect x="229.80" y="497.35" width="12.06" height="13.25" fill="rgb(120,120,120)"/><rect x="241.36" y="497.35" width="12.06" height="13.25" fill="rgb(107,107,107)"/><rect x="252.93" y="497.35" width="12.06" height="13.25" fill="rgb(101,101,101)"/><rect x="264.49" y="497.35" width="12.06" height="13.25" fill="rgb(107,107,107)"/><rect x="276.05" y="497.35" width="12.06" height="13.25" fill="rgb(114,114,114)"/><rect x="287.61" y="497.35" width="12.06" height="13.25" fill="rgb(107,107,107)"/><rect x="299.18" y="497.35" width="12.06" height="13.25" fill="rgb(120,120,120)"/><rect x="310.74" y="497.35" width="12.06" height="13.25" fill="rgb(140,140,140)"/><rect x="322.30" y="497.35" width="12.06" height="13.25" fill="rgb(140,140,140)"/><rect x="218.24" y="510.10" width="12.06" height="13.25" fill="rgb(120,120,120)"/><rect x="229.80" y="510.10" width="12.06" height="13.25" fill="rgb(120,120,120)"/><rect x="241.36" y="510.10" width="12.06" height="13.25" fill="rgb(107,107,107)"/><rect x="252.93" y="510.10" width="12.06" height="13.25" fill="rgb(101,101,101)"/><rect x="264.49" y="510.10" width="12.06" height="13.25" fill="rgb(107,107,107)"/><rect x="276.05" y="510.10" width="12.06" height="13.25" fill="rgb(114,114,114)"/><rect x="287.61" y="510.10" width="12.06" height="13.25" fill="rgb(107,107,107)"/><rect x="299.18" y="510.10" width="12.06" height="13.25" fill="rgb(120,120,120)"/><rect x="310.74" y="510.10" width="12.06" height="13.25" fill="rgb(140,140,140)"/><rect x="322.30" y="510.10" width="12.06" height="13.25" fill="rgb(140,140,140)"/></g><path d="M253.8,433.6 L255.8,447.2 L266.6,471.0 L283.7,464.6 L307.3,456.5 L324.8,451.0 M266.6,471.0 L262.8,479.6 L263.5,511.6 M237.8,467.6 L249.8,464.6 L262.8,467.6 L266.6,471.0" stroke="#2e2e2e" stroke-width="2" fill="none" opacity="0.6" filter="url(#bblur)"/><ellipse cx="248.8" cy="473.6" rx="2.5" ry="1.8" fill="#f0f0f0" opacity="0.45" filter="url(#lblur)"/><rect x="229.8" y="433.6" width="92.50" height="76.50" fill="#fff" filter="url(#nh2)" opacity="0.13"/><rect x="230.3" y="434.1" width="91.50" height="75.50" fill="none" stroke="#e4e4e4" stroke-width="2.2" opacity="0.55" filter="url(#lblur)"/></g>
<text x="276.1" y="431.6" font-size="10.3" font-weight="bold" text-anchor="middle" fill="#000" stroke="#fff" stroke-width="2" paint-order="stroke" stroke-linejoin="round">8,000 CV</text>
<g clip-path="url(#ch3)"><g filter="url(#gsoft)"><polygon points="324.5,433.6 348.5,433.6 350.5,447.2 361.3,471.0 357.5,467.6 344.5,464.6 332.5,467.6 324.5,467.6" fill="rgb(113,113,113)"/><polygon points="348.5,433.6 419.5,433.6 419.5,451.0 402.0,456.5 378.4,464.6 361.3,471.0 350.5,447.2" fill="rgb(78,78,78)"/><polygon points="332.5,467.6 344.5,464.6 357.5,467.6 361.3,471.0 357.5,479.6 342.5,480.6 332.5,478.6" fill="rgb(129,129,129)"/><polygon points="324.5,467.6 332.5,467.6 332.5,478.6 342.5,480.6 357.5,479.6 358.2,511.6 324.5,511.6" fill="rgb(59,59,59)"/><polygon points="361.3,471.0 378.4,464.6 402.0,456.5 419.5,451.0 419.5,511.6 358.2,511.6 357.5,479.6" fill="rgb(81,81,81)"/></g><g filter="url(#hblur)" opacity="0.55"><rect x="313.00" y="420.85" width="12.00" height="13.25" fill="rgb(133,133,133)"/><rect x="324.50" y="420.85" width="12.00" height="13.25" fill="rgb(133,133,133)"/><rect x="336.00" y="420.85" width="12.00" height="13.25" fill="rgb(88,88,88)"/><rect x="347.50" y="420.85" width="12.00" height="13.25" fill="rgb(66,66,66)"/><rect x="359.00" y="420.85" width="12.00" height="13.25" fill="rgb(66,66,66)"/><rect x="370.50" y="420.85" width="12.00" height="13.25" fill="rgb(66,66,66)"/><rect x="382.00" y="420.85" width="12.00" height="13.25" fill="rgb(73,73,73)"/><rect x="393.50" y="420.85" width="12.00" height="13.25" fill="rgb(88,88,88)"/><rect x="405.00" y="420.85" width="12.00" height="13.25" fill="rgb(126,126,126)"/><rect x="416.50" y="420.85" width="12.00" height="13.25" fill="rgb(126,126,126)"/><rect x="313.00" y="433.60" width="12.00" height="13.25" fill="rgb(133,133,133)"/><rect x="324.50" y="433.60" width="12.00" height="13.25" fill="rgb(133,133,133)"/><rect x="336.00" y="433.60" width="12.00" height="13.25" fill="rgb(88,88,88)"/><rect x="347.50" y="433.60" width="12.00" height="13.25" fill="rgb(66,66,66)"/><rect x="359.00" y="433.60" width="12.00" height="13.25" fill="rgb(66,66,66)"/><rect x="370.50" y="433.60" width="12.00" height="13.25" fill="rgb(66,66,66)"/><rect x="382.00" y="433.60" width="12.00" height="13.25" fill="rgb(73,73,73)"/><rect x="393.50" y="433.60" width="12.00" height="13.25" fill="rgb(88,88,88)"/><rect x="405.00" y="433.60" width="12.00" height="13.25" fill="rgb(126,126,126)"/><rect x="416.50" y="433.60" width="12.00" height="13.25" fill="rgb(126,126,126)"/><rect x="313.00" y="446.35" width="12.00" height="13.25" fill="rgb(103,103,103)"/><rect x="324.50" y="446.35" width="12.00" height="13.25" fill="rgb(103,103,103)"/><rect x="336.00" y="446.35" width="12.00" height="13.25" fill="rgb(73,73,73)"/><rect x="347.50" y="446.35" width="12.00" height="13.25" fill="rgb(58,58,58)"/><rect x="359.00" y="446.35" width="12.00" height="13.25" fill="rgb(73,73,73)"/><rect x="370.50" y="446.35" width="12.00" height="13.25" fill="rgb(73,73,73)"/><rect x="382.00" y="446.35" width="12.00" height="13.25" fill="rgb(66,66,66)"/><rect x="393.50" y="446.35" width="12.00" height="13.25" fill="rgb(73,73,73)"/><rect x="405.00" y="446.35" width="12.00" height="13.25" fill="rgb(111,111,111)"/><rect x="416.50" y="446.35" width="12.00" height="13.25" fill="rgb(111,111,111)"/><rect x="313.00" y="459.10" width="12.00" height="13.25" fill="rgb(88,88,88)"/><rect x="324.50" y="459.10" width="12.00" height="13.25" fill="rgb(88,88,88)"/><rect x="336.00" y="459.10" width="12.00" height="13.25" fill="rgb(103,103,103)"/><rect x="347.50" y="459.10" width="12.00" height="13.25" fill="rgb(96,96,96)"/><rect x="359.00" y="459.10" width="12.00" height="13.25" fill="rgb(58,58,58)"/><rect x="370.50" y="459.10" width="12.00" height="13.25" fill="rgb(66,66,66)"/><rect x="382.00" y="459.10" width="12.00" height="13.25" fill="rgb(66,66,66)"/><rect x="393.50" y="459.10" width="12.00" height="13.25" fill="rgb(73,73,73)"/><rect x="405.00" y="459.10" width="12.00" height="13.25" fill="rgb(103,103,103)"/><rect x="416.50" y="459.10" width="12.00" height="13.25" fill="rgb(103,103,103)"/><rect x="313.00" y="471.85" width="12.00" height="13.25" fill="rgb(58,58,58)"/><rect x="324.50" y="471.85" width="12.00" height="13.25" fill="rgb(58,58,58)"/><rect x="336.00" y="471.85" width="12.00" height="13.25" fill="rgb(51,51,51)"/><rect x="347.50" y="471.85" width="12.00" height="13.25" fill="rgb(73,73,73)"/><rect x="359.00" y="471.85" width="12.00" height="13.25" fill="rgb(58,58,58)"/><rect x="370.50" y="471.85" width="12.00" height="13.25" fill="rgb(58,58,58)"/><rect x="382.00" y="471.85" width="12.00" height="13.25" fill="rgb(58,58,58)"/><rect x="393.50" y="471.85" width="12.00" height="13.25" fill="rgb(66,66,66)"/><rect x="405.00" y="471.85" width="12.00" height="13.25" fill="rgb(96,96,96)"/><rect x="416.50" y="471.85" width="12.00" height="13.25" fill="rgb(96,96,96)"/><rect x="313.00" y="484.60" width="12.00" height="13.25" fill="rgb(66,66,66)"/><rect x="324.50" y="484.60" width="12.00" height="13.25" fill="rgb(66,66,66)"/><rect x="336.00" y="484.60" width="12.00" height="13.25" fill="rgb(51,51,51)"/><rect x="347.50" y="484.60" width="12.00" height="13.25" fill="rgb(51,51,51)"/><rect x="359.00" y="484.60" width="12.00" height="13.25" fill="rgb(58,58,58)"/><rect x="370.50" y="484.60" width="12.00" height="13.25" fill="rgb(58,58,58)"/><rect x="382.00" y="484.60" width="12.00" height="13.25" fill="rgb(51,51,51)"/><rect x="393.50" y="484.60" width="12.00" height="13.25" fill="rgb(58,58,58)"/><rect x="405.00" y="484.60" width="12.00" height="13.25" fill="rgb(88,88,88)"/><rect x="416.50" y="484.60" width="12.00" height="13.25" fill="rgb(88,88,88)"/><rect x="313.00" y="497.35" width="12.00" height="13.25" fill="rgb(88,88,88)"/><rect x="324.50" y="497.35" width="12.00" height="13.25" fill="rgb(88,88,88)"/><rect x="336.00" y="497.35" width="12.00" height="13.25" fill="rgb(73,73,73)"/><rect x="347.50" y="497.35" width="12.00" height="13.25" fill="rgb(58,58,58)"/><rect x="359.00" y="497.35" width="12.00" height="13.25" fill="rgb(66,66,66)"/><rect x="370.50" y="497.35" width="12.00" height="13.25" fill="rgb(66,66,66)"/><rect x="382.00" y="497.35" width="12.00" height="13.25" fill="rgb(66,66,66)"/><rect x="393.50" y="497.35" width="12.00" height="13.25" fill="rgb(73,73,73)"/><rect x="405.00" y="497.35" width="12.00" height="13.25" fill="rgb(96,96,96)"/><rect x="416.50" y="497.35" width="12.00" height="13.25" fill="rgb(96,96,96)"/><rect x="313.00" y="510.10" width="12.00" height="13.25" fill="rgb(88,88,88)"/><rect x="324.50" y="510.10" width="12.00" height="13.25" fill="rgb(88,88,88)"/><rect x="336.00" y="510.10" width="12.00" height="13.25" fill="rgb(73,73,73)"/><rect x="347.50" y="510.10" width="12.00" height="13.25" fill="rgb(58,58,58)"/><rect x="359.00" y="510.10" width="12.00" height="13.25" fill="rgb(66,66,66)"/><rect x="370.50" y="510.10" width="12.00" height="13.25" fill="rgb(66,66,66)"/><rect x="382.00" y="510.10" width="12.00" height="13.25" fill="rgb(66,66,66)"/><rect x="393.50" y="510.10" width="12.00" height="13.25" fill="rgb(73,73,73)"/><rect x="405.00" y="510.10" width="12.00" height="13.25" fill="rgb(96,96,96)"/><rect x="416.50" y="510.10" width="12.00" height="13.25" fill="rgb(96,96,96)"/></g><path d="M348.5,433.6 L350.5,447.2 L361.3,471.0 L378.4,464.6 L402.0,456.5 L419.5,451.0 M361.3,471.0 L357.5,479.6 L358.2,511.6 M332.5,467.6 L344.5,464.6 L357.5,467.6 L361.3,471.0" stroke="#2e2e2e" stroke-width="2" fill="none" opacity="0.6" filter="url(#bblur)"/><ellipse cx="343.5" cy="473.6" rx="2.5" ry="1.8" fill="#f0f0f0" opacity="0.45" filter="url(#lblur)"/><rect x="324.5" y="433.6" width="92.00" height="76.50" fill="#fff" filter="url(#nh3)" opacity="0.13"/><rect x="325.0" y="434.1" width="91.00" height="75.50" fill="none" stroke="#e4e4e4" stroke-width="2.2" opacity="0.55" filter="url(#lblur)"/></g>
<text x="370.5" y="431.6" font-size="10.3" font-weight="bold" text-anchor="middle" fill="#000" stroke="#fff" stroke-width="2" paint-order="stroke" stroke-linejoin="round">12,000 CV</text>
<g clip-path="url(#ch4)"><g filter="url(#gsoft)"><polygon points="418.5,433.6 442.5,433.6 444.5,447.2 455.3,471.0 451.5,467.6 438.5,464.6 426.5,467.6 418.5,467.6" fill="rgb(104,104,104)"/><polygon points="442.5,433.6 513.5,433.6 513.5,451.0 496.0,456.5 472.4,464.6 455.3,471.0 444.5,447.2" fill="rgb(79,79,79)"/><polygon points="426.5,467.6 438.5,464.6 451.5,467.6 455.3,471.0 451.5,479.6 436.5,480.6 426.5,478.6" fill="rgb(120,120,120)"/><polygon points="418.5,467.6 426.5,467.6 426.5,478.6 436.5,480.6 451.5,479.6 452.2,511.6 418.5,511.6" fill="rgb(55,55,55)"/><polygon points="455.3,471.0 472.4,464.6 496.0,456.5 513.5,451.0 513.5,511.6 452.2,511.6 451.5,479.6" fill="rgb(82,82,82)"/></g><g filter="url(#hblur)" opacity="0.55"><rect x="407.00" y="420.85" width="12.00" height="13.25" fill="rgb(123,123,123)"/><rect x="418.50" y="420.85" width="12.00" height="13.25" fill="rgb(123,123,123)"/><rect x="430.00" y="420.85" width="12.00" height="13.25" fill="rgb(108,108,108)"/><rect x="441.50" y="420.85" width="12.00" height="13.25" fill="rgb(85,85,85)"/><rect x="453.00" y="420.85" width="12.00" height="13.25" fill="rgb(78,78,78)"/><rect x="464.50" y="420.85" width="12.00" height="13.25" fill="rgb(93,93,93)"/><rect x="476.00" y="420.85" width="12.00" height="13.25" fill="rgb(108,108,108)"/><rect x="487.50" y="420.85" width="12.00" height="13.25" fill="rgb(123,123,123)"/><rect x="499.00" y="420.85" width="12.00" height="13.25" fill="rgb(138,138,138)"/><rect x="510.50" y="420.85" width="12.00" height="13.25" fill="rgb(138,138,138)"/><rect x="407.00" y="433.60" width="12.00" height="13.25" fill="rgb(123,123,123)"/><rect x="418.50" y="433.60" width="12.00" height="13.25" fill="rgb(123,123,123)"/><rect x="430.00" y="433.60" width="12.00" height="13.25" fill="rgb(108,108,108)"/><rect x="441.50" y="433.60" width="12.00" height="13.25" fill="rgb(85,85,85)"/><rect x="453.00" y="433.60" width="12.00" height="13.25" fill="rgb(78,78,78)"/><rect x="464.50" y="433.60" width="12.00" height="13.25" fill="rgb(93,93,93)"/><rect x="476.00" y="433.60" width="12.00" height="13.25" fill="rgb(108,108,108)"/><rect x="487.50" y="433.60" width="12.00" height="13.25" fill="rgb(123,123,123)"/><rect x="499.00" y="433.60" width="12.00" height="13.25" fill="rgb(138,138,138)"/><rect x="510.50" y="433.60" width="12.00" height="13.25" fill="rgb(138,138,138)"/><rect x="407.00" y="446.35" width="12.00" height="13.25" fill="rgb(78,78,78)"/><rect x="418.50" y="446.35" width="12.00" height="13.25" fill="rgb(78,78,78)"/><rect x="430.00" y="446.35" width="12.00" height="13.25" fill="rgb(55,55,55)"/><rect x="441.50" y="446.35" width="12.00" height="13.25" fill="rgb(63,63,63)"/><rect x="453.00" y="446.35" width="12.00" height="13.25" fill="rgb(70,70,70)"/><rect x="464.50" y="446.35" width="12.00" height="13.25" fill="rgb(78,78,78)"/><rect x="476.00" y="446.35" width="12.00" height="13.25" fill="rgb(85,85,85)"/><rect x="487.50" y="446.35" width="12.00" height="13.25" fill="rgb(93,93,93)"/><rect x="499.00" y="446.35" width="12.00" height="13.25" fill="rgb(123,123,123)"/><rect x="510.50" y="446.35" width="12.00" height="13.25" fill="rgb(123,123,123)"/><rect x="407.00" y="459.10" width="12.00" height="13.25" fill="rgb(70,70,70)"/><rect x="418.50" y="459.10" width="12.00" height="13.25" fill="rgb(70,70,70)"/><rect x="430.00" y="459.10" width="12.00" height="13.25" fill="rgb(85,85,85)"/><rect x="441.50" y="459.10" width="12.00" height="13.25" fill="rgb(55,55,55)"/><rect x="453.00" y="459.10" width="12.00" height="13.25" fill="rgb(48,48,48)"/><rect x="464.50" y="459.10" width="12.00" height="13.25" fill="rgb(63,63,63)"/><rect x="476.00" y="459.10" width="12.00" height="13.25" fill="rgb(70,70,70)"/><rect x="487.50" y="459.10" width="12.00" height="13.25" fill="rgb(85,85,85)"/><rect x="499.00" y="459.10" width="12.00" height="13.25" fill="rgb(115,115,115)"/><rect x="510.50" y="459.10" width="12.00" height="13.25" fill="rgb(115,115,115)"/><rect x="407.00" y="471.85" width="12.00" height="13.25" fill="rgb(48,48,48)"/><rect x="418.50" y="471.85" width="12.00" height="13.25" fill="rgb(48,48,48)"/><rect x="430.00" y="471.85" width="12.00" height="13.25" fill="rgb(40,40,40)"/><rect x="441.50" y="471.85" width="12.00" height="13.25" fill="rgb(63,63,63)"/><rect x="453.00" y="471.85" width="12.00" height="13.25" fill="rgb(48,48,48)"/><rect x="464.50" y="471.85" width="12.00" height="13.25" fill="rgb(55,55,55)"/><rect x="476.00" y="471.85" width="12.00" height="13.25" fill="rgb(63,63,63)"/><rect x="487.50" y="471.85" width="12.00" height="13.25" fill="rgb(78,78,78)"/><rect x="499.00" y="471.85" width="12.00" height="13.25" fill="rgb(108,108,108)"/><rect x="510.50" y="471.85" width="12.00" height="13.25" fill="rgb(108,108,108)"/><rect x="407.00" y="484.60" width="12.00" height="13.25" fill="rgb(55,55,55)"/><rect x="418.50" y="484.60" width="12.00" height="13.25" fill="rgb(55,55,55)"/><rect x="430.00" y="484.60" width="12.00" height="13.25" fill="rgb(48,48,48)"/><rect x="441.50" y="484.60" width="12.00" height="13.25" fill="rgb(48,48,48)"/><rect x="453.00" y="484.60" width="12.00" height="13.25" fill="rgb(55,55,55)"/><rect x="464.50" y="484.60" width="12.00" height="13.25" fill="rgb(55,55,55)"/><rect x="476.00" y="484.60" width="12.00" height="13.25" fill="rgb(63,63,63)"/><rect x="487.50" y="484.60" width="12.00" height="13.25" fill="rgb(78,78,78)"/><rect x="499.00" y="484.60" width="12.00" height="13.25" fill="rgb(108,108,108)"/><rect x="510.50" y="484.60" width="12.00" height="13.25" fill="rgb(108,108,108)"/><rect x="407.00" y="497.35" width="12.00" height="13.25" fill="rgb(78,78,78)"/><rect x="418.50" y="497.35" width="12.00" height="13.25" fill="rgb(78,78,78)"/><rect x="430.00" y="497.35" width="12.00" height="13.25" fill="rgb(63,63,63)"/><rect x="441.50" y="497.35" width="12.00" height="13.25" fill="rgb(55,55,55)"/><rect x="453.00" y="497.35" width="12.00" height="13.25" fill="rgb(63,63,63)"/><rect x="464.50" y="497.35" width="12.00" height="13.25" fill="rgb(70,70,70)"/><rect x="476.00" y="497.35" width="12.00" height="13.25" fill="rgb(78,78,78)"/><rect x="487.50" y="497.35" width="12.00" height="13.25" fill="rgb(93,93,93)"/><rect x="499.00" y="497.35" width="12.00" height="13.25" fill="rgb(123,123,123)"/><rect x="510.50" y="497.35" width="12.00" height="13.25" fill="rgb(123,123,123)"/><rect x="407.00" y="510.10" width="12.00" height="13.25" fill="rgb(78,78,78)"/><rect x="418.50" y="510.10" width="12.00" height="13.25" fill="rgb(78,78,78)"/><rect x="430.00" y="510.10" width="12.00" height="13.25" fill="rgb(63,63,63)"/><rect x="441.50" y="510.10" width="12.00" height="13.25" fill="rgb(55,55,55)"/><rect x="453.00" y="510.10" width="12.00" height="13.25" fill="rgb(63,63,63)"/><rect x="464.50" y="510.10" width="12.00" height="13.25" fill="rgb(70,70,70)"/><rect x="476.00" y="510.10" width="12.00" height="13.25" fill="rgb(78,78,78)"/><rect x="487.50" y="510.10" width="12.00" height="13.25" fill="rgb(93,93,93)"/><rect x="499.00" y="510.10" width="12.00" height="13.25" fill="rgb(123,123,123)"/><rect x="510.50" y="510.10" width="12.00" height="13.25" fill="rgb(123,123,123)"/></g><path d="M442.5,433.6 L444.5,447.2 L455.3,471.0 L472.4,464.6 L496.0,456.5 L513.5,451.0 M455.3,471.0 L451.5,479.6 L452.2,511.6 M426.5,467.6 L438.5,464.6 L451.5,467.6 L455.3,471.0" stroke="#2e2e2e" stroke-width="2" fill="none" opacity="0.6" filter="url(#bblur)"/><ellipse cx="437.5" cy="473.6" rx="2.5" ry="1.8" fill="#f0f0f0" opacity="0.45" filter="url(#lblur)"/><rect x="418.5" y="433.6" width="92.00" height="76.50" fill="#fff" filter="url(#nh4)" opacity="0.13"/><rect x="419.0" y="434.1" width="91.00" height="75.50" fill="none" stroke="#e4e4e4" stroke-width="2.2" opacity="0.55" filter="url(#lblur)"/></g>
<text x="464.5" y="431.6" font-size="10.3" font-weight="bold" text-anchor="middle" fill="#000" stroke="#fff" stroke-width="2" paint-order="stroke" stroke-linejoin="round">16,000 CV</text>
<path d="M420,440 Q432,438 440,446 M470,437 Q480,446 492,440 M500,450 Q505,470 500,495 M425,478 Q440,474 455,480 M430,500 Q445,505 470,503" stroke="#dcdcdc" stroke-width="0.9" fill="none" opacity="0.35" filter="url(#lblur)"/>
<text x="62" y="497.5" font-size="8.3" font-weight="bold" text-anchor="middle" fill="#000" stroke="#fff" stroke-width="1.8" paint-order="stroke" stroke-linejoin="round">4 μm</text>
<rect x="45.5" y="502.6" width="34" height="3.2" rx="1.4" fill="#000" stroke="#fff" stroke-width="1.1"/>
</svg>
</body></html>
